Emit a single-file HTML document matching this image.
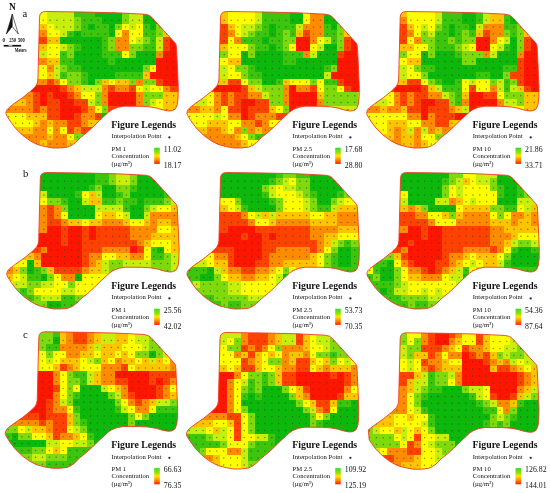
<!DOCTYPE html>
<html><head><meta charset="utf-8"><title>PM concentration maps</title>
<style>
html,body{margin:0;padding:0;background:#fff}
svg{display:block}
text{font-family:"Liberation Serif",serif;fill:#111}
.t{font-weight:bold;font-size:9.8px}
.s{font-size:6.65px}
.n{font-size:7.8px}
.l{font-size:10.6px}
</style></head><body>
<svg width="550" height="493" viewBox="0 0 550 493">
<defs>
<clipPath id="sh"><path d="M37.9,80 L39.5,17.5 Q39.5,11.6 45.5,11.5 L83.6,12 L116.4,12.8 L144.7,14.2 Q149.5,14.6 152,17.5 L175.3,43.2 Q176.3,44.4 176.5,47.5 L177.4,66 L178.3,88 L178.1,98 Q178,105 175.5,108.8 Q173,111.3 169,111 Q163,110.3 157.3,108.2 Q150,106.4 140.9,106.3 L124.5,106.2 Q118,106.6 112.3,109.5 Q108.5,111.8 105.9,114.6 L99.5,120.4 L93.2,126.7 L86.8,132.5 L80.5,137.5 L75.4,142.6 Q72.5,145.5 67.7,147.1 Q61,148.3 53.3,148 Q45.7,147 38,144.7 Q34,143 30.4,140.9 L22.8,135.5 L15.2,127.9 L10.7,121.9 L6.8,115.8 Q4.3,111.5 9.1,107.4 L15.2,102.8 L22.8,97.5 L30.4,91.4 L35.8,86.1 Q37.6,83.5 37.9,80 Z"/></clipPath>
<clipPath id="sh3"><path d="M37.9,80 L39.5,17.5 Q39.5,11.6 45.5,11.5 L83.6,12 L116.4,12.8 L144.7,14.2 Q149.5,14.6 152,17.5 L175.3,43.2 Q176.3,44.4 176.5,47.5 L177.4,66 L178.3,88 L178.1,98 Q178,105 175.5,108.8 Q173,111.3 169,111 Q163,110.3 157.3,108.2 Q150,106.4 140.9,106.3 L124.5,106.2 Q118,106.6 112.3,109.5 Q108.5,111.8 105.9,114.6 L99.5,120.4 L93.2,126.7 L86.8,132.5 L80.5,137.5 L75.4,142.6 Q72.5,145.5 67.7,147.1 Q61,148.3 53.3,148 Q45.7,147 38,144.7 Q34,143 30.4,140.9 L22.8,135.5 L15.2,127.9 L10.7,121.9 L8.5,118.4 L7.6,108.4 L9.1,107.4 L15.2,102.8 L22.8,97.5 L30.4,91.4 L35.8,86.1 Q37.6,83.5 37.9,80 Z"/></clipPath>
<linearGradient id="lg" x1="0" y1="0" x2="0" y2="1"><stop offset="0" stop-color="#2ee02e"/><stop offset="0.3" stop-color="#9be000"/><stop offset="0.5" stop-color="#ffe800"/><stop offset="0.75" stop-color="#ff8a00"/><stop offset="1" stop-color="#ff1a00"/></linearGradient>
<filter id="bl" x="-2%" y="-2%" width="104%" height="104%"><feGaussianBlur stdDeviation="0.6"/></filter>
</defs>
<rect width="550" height="493" fill="#fff"/>
<g transform="translate(0,0)">
<g clip-path="url(#sh)"><g filter="url(#bl)" shape-rendering="crispEdges">
<rect x="0" y="5" width="185" height="150" fill="#ffe000"/>
<path fill="rgb(8,184,8)" d="M94.66,9.85h27.58v6.97h-27.58zM142.75,9.85h41.32v6.97h-41.32zM101.53,16.72h20.71v6.97h-20.71zM142.75,16.72h41.32v6.97h-41.32zM87.79,23.59h6.97v6.97h-6.97zM108.40,23.59h6.97v6.97h-6.97zM149.62,23.59h6.97v6.97h-6.97zM74.05,30.46h6.97v6.97h-6.97zM108.40,30.46h6.97v6.97h-6.97zM60.31,37.33h41.32v6.97h-41.32zM80.92,44.20h20.71v6.97h-20.71zM74.05,51.07h27.58v6.97h-27.58zM135.88,51.07h20.71v6.97h-20.71zM74.05,57.94h34.45v6.97h-34.45zM115.27,57.94h41.32v6.97h-41.32zM80.92,64.81h61.93v6.97h-61.93zM87.79,71.68h27.58v6.97h-27.58zM87.79,78.55h6.97v6.97h-6.97zM101.53,112.90h82.54v6.97h-82.54zM101.53,119.77h82.54v6.97h-82.54z"/>
<path fill="rgb(58,198,8)" d="M74.05,9.85h20.71v6.97h-20.71zM80.92,16.72h20.71v6.97h-20.71zM80.92,23.59h6.97v6.97h-6.97zM94.66,23.59h13.84v6.97h-13.84zM142.75,23.59h6.97v6.97h-6.97zM67.18,30.46h6.97v6.97h-6.97zM80.92,30.46h27.58v6.97h-27.58zM142.75,30.46h13.84v6.97h-13.84zM101.53,37.33h6.97v6.97h-6.97zM149.62,37.33h6.97v6.97h-6.97zM74.05,44.20h6.97v6.97h-6.97zM101.53,44.20h6.97v6.97h-6.97zM142.75,44.20h13.84v6.97h-13.84zM60.31,51.07h6.97v6.97h-6.97zM101.53,51.07h20.71v6.97h-20.71zM60.31,57.94h13.84v6.97h-13.84zM108.40,57.94h6.97v6.97h-6.97zM67.18,64.81h13.84v6.97h-13.84zM60.31,71.68h6.97v6.97h-6.97zM80.92,71.68h6.97v6.97h-6.97zM115.27,71.68h27.58v6.97h-27.58zM80.92,78.55h6.97v6.97h-6.97z"/>
<path fill="rgb(126,217,8)" d="M122.14,9.85h6.97v6.97h-6.97zM74.05,16.72h6.97v6.97h-6.97zM122.14,16.72h6.97v6.97h-6.97zM74.05,23.59h6.97v6.97h-6.97zM115.27,23.59h6.97v6.97h-6.97zM156.49,23.59h27.58v6.97h-27.58zM156.49,30.46h6.97v6.97h-6.97zM108.40,37.33h6.97v6.97h-6.97zM142.75,37.33h6.97v6.97h-6.97zM67.18,44.20h6.97v6.97h-6.97zM108.40,44.20h6.97v6.97h-6.97zM129.01,44.20h13.84v6.97h-13.84zM67.18,51.07h6.97v6.97h-6.97zM129.01,51.07h6.97v6.97h-6.97zM60.31,64.81h6.97v6.97h-6.97zM142.75,64.81h6.97v6.97h-6.97zM67.18,71.68h13.84v6.97h-13.84zM67.18,78.55h13.84v6.97h-13.84zM94.66,78.55h6.97v6.97h-6.97zM129.01,78.55h6.97v6.97h-6.97zM142.75,78.55h13.84v6.97h-13.84zM94.66,92.29h6.97v6.97h-6.97zM142.75,92.29h20.71v6.97h-20.71zM94.66,99.16h6.97v6.97h-6.97zM142.75,99.16h6.97v6.97h-6.97zM101.53,106.03h6.97v6.97h-6.97zM74.05,133.51h110.02v6.97h-110.02z"/>
<path fill="rgb(200,238,8)" d="M46.57,9.85h27.58v6.97h-27.58zM129.01,9.85h13.84v6.97h-13.84zM46.57,16.72h27.58v6.97h-27.58zM129.01,16.72h13.84v6.97h-13.84zM53.44,23.59h20.71v6.97h-20.71zM129.01,23.59h6.97v6.97h-6.97zM60.31,30.46h6.97v6.97h-6.97zM135.88,37.33h6.97v6.97h-6.97zM156.49,37.33h6.97v6.97h-6.97zM60.31,44.20h6.97v6.97h-6.97zM156.49,44.20h6.97v6.97h-6.97zM5.35,51.07h41.32v6.97h-41.32zM53.44,64.81h6.97v6.97h-6.97zM53.44,71.68h6.97v6.97h-6.97zM80.92,85.42h20.71v6.97h-20.71zM142.75,85.42h6.97v6.97h-6.97zM87.79,99.16h6.97v6.97h-6.97zM149.62,99.16h6.97v6.97h-6.97z"/>
<path fill="rgb(255,255,0)" d="M5.35,9.85h41.32v6.97h-41.32zM5.35,16.72h41.32v6.97h-41.32zM46.57,23.59h6.97v6.97h-6.97zM122.14,23.59h6.97v6.97h-6.97zM135.88,23.59h6.97v6.97h-6.97zM46.57,30.46h13.84v6.97h-13.84zM115.27,30.46h6.97v6.97h-6.97zM129.01,30.46h13.84v6.97h-13.84zM129.01,37.33h6.97v6.97h-6.97zM46.57,44.20h13.84v6.97h-13.84zM46.57,51.07h13.84v6.97h-13.84zM122.14,51.07h6.97v6.97h-6.97zM5.35,64.81h41.32v6.97h-41.32zM149.62,64.81h6.97v6.97h-6.97zM5.35,71.68h41.32v6.97h-41.32zM60.31,78.55h6.97v6.97h-6.97zM108.40,78.55h6.97v6.97h-6.97zM135.88,85.42h6.97v6.97h-6.97zM149.62,85.42h13.84v6.97h-13.84zM80.92,92.29h13.84v6.97h-13.84zM156.49,99.16h6.97v6.97h-6.97zM94.66,106.03h6.97v6.97h-6.97zM142.75,106.03h20.71v6.97h-20.71zM5.35,112.90h20.71v6.97h-20.71zM5.35,119.77h27.58v6.97h-27.58zM46.57,126.64h6.97v6.97h-6.97zM60.31,126.64h6.97v6.97h-6.97zM67.18,133.51h6.97v6.97h-6.97z"/>
<path fill="rgb(255,196,0)" d="M5.35,23.59h41.32v6.97h-41.32zM163.36,30.46h20.71v6.97h-20.71zM46.57,37.33h13.84v6.97h-13.84zM5.35,44.20h41.32v6.97h-41.32zM46.57,57.94h13.84v6.97h-13.84zM46.57,71.68h6.97v6.97h-6.97zM142.75,71.68h6.97v6.97h-6.97zM101.53,78.55h6.97v6.97h-6.97zM115.27,78.55h13.84v6.97h-13.84zM74.05,85.42h6.97v6.97h-6.97zM163.36,92.29h20.71v6.97h-20.71zM5.35,99.16h20.71v6.97h-20.71zM163.36,99.16h20.71v6.97h-20.71zM163.36,106.03h20.71v6.97h-20.71zM25.96,112.90h20.71v6.97h-20.71zM32.83,119.77h6.97v6.97h-6.97zM46.57,119.77h6.97v6.97h-6.97zM87.79,119.77h13.84v6.97h-13.84zM5.35,126.64h27.58v6.97h-27.58zM46.57,133.51h6.97v6.97h-6.97zM39.70,140.38h6.97v6.97h-6.97zM67.18,140.38h116.89v6.97h-116.89z"/>
<path fill="rgb(255,140,0)" d="M5.35,30.46h41.32v6.97h-41.32zM122.14,30.46h6.97v6.97h-6.97zM115.27,37.33h13.84v6.97h-13.84zM115.27,44.20h13.84v6.97h-13.84zM156.49,51.07h6.97v6.97h-6.97zM5.35,57.94h41.32v6.97h-41.32zM46.57,64.81h6.97v6.97h-6.97zM5.35,78.55h41.32v6.97h-41.32zM53.44,78.55h6.97v6.97h-6.97zM135.88,78.55h6.97v6.97h-6.97zM67.18,85.42h6.97v6.97h-6.97zM101.53,85.42h6.97v6.97h-6.97zM115.27,85.42h13.84v6.97h-13.84zM163.36,85.42h6.97v6.97h-6.97zM5.35,92.29h27.58v6.97h-27.58zM74.05,92.29h6.97v6.97h-6.97zM101.53,92.29h6.97v6.97h-6.97zM135.88,92.29h6.97v6.97h-6.97zM25.96,99.16h6.97v6.97h-6.97zM101.53,99.16h6.97v6.97h-6.97zM135.88,99.16h6.97v6.97h-6.97zM5.35,106.03h27.58v6.97h-27.58zM39.70,106.03h6.97v6.97h-6.97zM87.79,106.03h6.97v6.97h-6.97zM80.92,112.90h13.84v6.97h-13.84zM39.70,119.77h6.97v6.97h-6.97zM53.44,119.77h13.84v6.97h-13.84zM80.92,119.77h6.97v6.97h-6.97zM32.83,126.64h13.84v6.97h-13.84zM53.44,126.64h6.97v6.97h-6.97zM74.05,126.64h6.97v6.97h-6.97zM5.35,133.51h41.32v6.97h-41.32zM53.44,133.51h13.84v6.97h-13.84zM5.35,140.38h34.45v6.97h-34.45zM46.57,140.38h20.71v6.97h-20.71zM5.35,147.25h178.72v6.97h-178.72z"/>
<path fill="rgb(255,66,0)" d="M5.35,37.33h41.32v6.97h-41.32zM163.36,37.33h6.97v6.97h-6.97zM163.36,44.20h6.97v6.97h-6.97zM46.57,78.55h6.97v6.97h-6.97zM156.49,78.55h6.97v6.97h-6.97zM60.31,85.42h6.97v6.97h-6.97zM108.40,85.42h6.97v6.97h-6.97zM129.01,85.42h6.97v6.97h-6.97zM170.23,85.42h13.84v6.97h-13.84zM32.83,92.29h6.97v6.97h-6.97zM46.57,92.29h6.97v6.97h-6.97zM67.18,92.29h6.97v6.97h-6.97zM32.83,99.16h6.97v6.97h-6.97zM46.57,99.16h13.84v6.97h-13.84zM74.05,99.16h13.84v6.97h-13.84zM32.83,106.03h6.97v6.97h-6.97zM46.57,106.03h13.84v6.97h-13.84zM80.92,106.03h6.97v6.97h-6.97zM108.40,106.03h34.45v6.97h-34.45zM46.57,112.90h13.84v6.97h-13.84zM74.05,112.90h6.97v6.97h-6.97zM94.66,112.90h6.97v6.97h-6.97zM67.18,119.77h13.84v6.97h-13.84zM67.18,126.64h6.97v6.97h-6.97zM80.92,126.64h103.15v6.97h-103.15z"/>
<path fill="rgb(255,18,0)" d="M170.23,37.33h13.84v6.97h-13.84zM170.23,44.20h13.84v6.97h-13.84zM163.36,51.07h20.71v6.97h-20.71zM156.49,57.94h27.58v6.97h-27.58zM156.49,64.81h27.58v6.97h-27.58zM149.62,71.68h34.45v6.97h-34.45zM163.36,78.55h20.71v6.97h-20.71zM5.35,85.42h55.06v6.97h-55.06zM39.70,92.29h6.97v6.97h-6.97zM53.44,92.29h13.84v6.97h-13.84zM108.40,92.29h27.58v6.97h-27.58zM39.70,99.16h6.97v6.97h-6.97zM60.31,99.16h13.84v6.97h-13.84zM108.40,99.16h27.58v6.97h-27.58zM60.31,106.03h20.71v6.97h-20.71zM60.31,112.90h13.84v6.97h-13.84z"/>
</g></g>
<g clip-path="url(#sh)"><path d="M8.8,20.2h0M15.7,20.2h0M22.6,20.2h0M29.4,20.2h0M36.3,20.2h0M43.2,20.2h0M50.1,20.2h0M56.9,20.2h0M63.8,20.2h0M70.7,20.2h0M77.5,20.2h0M84.4,20.2h0M91.3,20.2h0M98.1,20.2h0M105.0,20.2h0M111.9,20.2h0M118.8,20.2h0M125.6,20.2h0M132.5,20.2h0M139.4,20.2h0M146.2,20.2h0M153.1,20.2h0M160.0,20.2h0M166.8,20.2h0M173.7,20.2h0M180.6,20.2h0M8.8,27.1h0M15.7,27.1h0M22.6,27.1h0M29.4,27.1h0M36.3,27.1h0M43.2,27.1h0M50.1,27.1h0M56.9,27.1h0M63.8,27.1h0M70.7,27.1h0M77.5,27.1h0M84.4,27.1h0M91.3,27.1h0M98.1,27.1h0M105.0,27.1h0M111.9,27.1h0M118.8,27.1h0M125.6,27.1h0M132.5,27.1h0M139.4,27.1h0M146.2,27.1h0M153.1,27.1h0M160.0,27.1h0M166.8,27.1h0M173.7,27.1h0M180.6,27.1h0M8.8,33.9h0M15.7,33.9h0M22.6,33.9h0M29.4,33.9h0M36.3,33.9h0M43.2,33.9h0M50.1,33.9h0M56.9,33.9h0M63.8,33.9h0M70.7,33.9h0M77.5,33.9h0M84.4,33.9h0M91.3,33.9h0M98.1,33.9h0M105.0,33.9h0M111.9,33.9h0M118.8,33.9h0M125.6,33.9h0M132.5,33.9h0M139.4,33.9h0M146.2,33.9h0M153.1,33.9h0M160.0,33.9h0M166.8,33.9h0M173.7,33.9h0M180.6,33.9h0M8.8,40.8h0M15.7,40.8h0M22.6,40.8h0M29.4,40.8h0M36.3,40.8h0M43.2,40.8h0M50.1,40.8h0M56.9,40.8h0M63.8,40.8h0M70.7,40.8h0M77.5,40.8h0M84.4,40.8h0M91.3,40.8h0M98.1,40.8h0M105.0,40.8h0M111.9,40.8h0M118.8,40.8h0M125.6,40.8h0M132.5,40.8h0M139.4,40.8h0M146.2,40.8h0M153.1,40.8h0M160.0,40.8h0M166.8,40.8h0M173.7,40.8h0M180.6,40.8h0M8.8,47.7h0M15.7,47.7h0M22.6,47.7h0M29.4,47.7h0M36.3,47.7h0M43.2,47.7h0M50.1,47.7h0M56.9,47.7h0M63.8,47.7h0M70.7,47.7h0M77.5,47.7h0M84.4,47.7h0M91.3,47.7h0M98.1,47.7h0M105.0,47.7h0M111.9,47.7h0M118.8,47.7h0M125.6,47.7h0M132.5,47.7h0M139.4,47.7h0M146.2,47.7h0M153.1,47.7h0M160.0,47.7h0M166.8,47.7h0M173.7,47.7h0M180.6,47.7h0M8.8,54.6h0M15.7,54.6h0M22.6,54.6h0M29.4,54.6h0M36.3,54.6h0M43.2,54.6h0M50.1,54.6h0M56.9,54.6h0M63.8,54.6h0M70.7,54.6h0M77.5,54.6h0M84.4,54.6h0M91.3,54.6h0M98.1,54.6h0M105.0,54.6h0M111.9,54.6h0M118.8,54.6h0M125.6,54.6h0M132.5,54.6h0M139.4,54.6h0M146.2,54.6h0M153.1,54.6h0M160.0,54.6h0M166.8,54.6h0M173.7,54.6h0M180.6,54.6h0M8.8,61.4h0M15.7,61.4h0M22.6,61.4h0M29.4,61.4h0M36.3,61.4h0M43.2,61.4h0M50.1,61.4h0M56.9,61.4h0M63.8,61.4h0M70.7,61.4h0M77.5,61.4h0M84.4,61.4h0M91.3,61.4h0M98.1,61.4h0M105.0,61.4h0M111.9,61.4h0M118.8,61.4h0M125.6,61.4h0M132.5,61.4h0M139.4,61.4h0M146.2,61.4h0M153.1,61.4h0M160.0,61.4h0M166.8,61.4h0M173.7,61.4h0M180.6,61.4h0M8.8,68.3h0M15.7,68.3h0M22.6,68.3h0M29.4,68.3h0M36.3,68.3h0M43.2,68.3h0M50.1,68.3h0M56.9,68.3h0M63.8,68.3h0M70.7,68.3h0M77.5,68.3h0M84.4,68.3h0M91.3,68.3h0M98.1,68.3h0M105.0,68.3h0M111.9,68.3h0M118.8,68.3h0M125.6,68.3h0M132.5,68.3h0M139.4,68.3h0M146.2,68.3h0M153.1,68.3h0M160.0,68.3h0M166.8,68.3h0M173.7,68.3h0M180.6,68.3h0M8.8,75.2h0M15.7,75.2h0M22.6,75.2h0M29.4,75.2h0M36.3,75.2h0M43.2,75.2h0M50.1,75.2h0M56.9,75.2h0M63.8,75.2h0M70.7,75.2h0M77.5,75.2h0M84.4,75.2h0M91.3,75.2h0M98.1,75.2h0M105.0,75.2h0M111.9,75.2h0M118.8,75.2h0M125.6,75.2h0M132.5,75.2h0M139.4,75.2h0M146.2,75.2h0M153.1,75.2h0M160.0,75.2h0M166.8,75.2h0M173.7,75.2h0M180.6,75.2h0M8.8,82.0h0M15.7,82.0h0M22.6,82.0h0M29.4,82.0h0M36.3,82.0h0M43.2,82.0h0M50.1,82.0h0M56.9,82.0h0M63.8,82.0h0M70.7,82.0h0M77.5,82.0h0M84.4,82.0h0M91.3,82.0h0M98.1,82.0h0M105.0,82.0h0M111.9,82.0h0M118.8,82.0h0M125.6,82.0h0M132.5,82.0h0M139.4,82.0h0M146.2,82.0h0M153.1,82.0h0M160.0,82.0h0M166.8,82.0h0M173.7,82.0h0M180.6,82.0h0M8.8,88.9h0M15.7,88.9h0M22.6,88.9h0M29.4,88.9h0M36.3,88.9h0M43.2,88.9h0M50.1,88.9h0M56.9,88.9h0M63.8,88.9h0M70.7,88.9h0M77.5,88.9h0M84.4,88.9h0M91.3,88.9h0M98.1,88.9h0M105.0,88.9h0M111.9,88.9h0M118.8,88.9h0M125.6,88.9h0M132.5,88.9h0M139.4,88.9h0M146.2,88.9h0M153.1,88.9h0M160.0,88.9h0M166.8,88.9h0M173.7,88.9h0M180.6,88.9h0M8.8,95.8h0M15.7,95.8h0M22.6,95.8h0M29.4,95.8h0M36.3,95.8h0M43.2,95.8h0M50.1,95.8h0M56.9,95.8h0M63.8,95.8h0M70.7,95.8h0M77.5,95.8h0M84.4,95.8h0M91.3,95.8h0M98.1,95.8h0M105.0,95.8h0M111.9,95.8h0M118.8,95.8h0M125.6,95.8h0M132.5,95.8h0M139.4,95.8h0M146.2,95.8h0M153.1,95.8h0M160.0,95.8h0M166.8,95.8h0M173.7,95.8h0M180.6,95.8h0M8.8,102.6h0M15.7,102.6h0M22.6,102.6h0M29.4,102.6h0M36.3,102.6h0M43.2,102.6h0M50.1,102.6h0M56.9,102.6h0M63.8,102.6h0M70.7,102.6h0M77.5,102.6h0M84.4,102.6h0M91.3,102.6h0M98.1,102.6h0M105.0,102.6h0M111.9,102.6h0M118.8,102.6h0M125.6,102.6h0M132.5,102.6h0M139.4,102.6h0M146.2,102.6h0M153.1,102.6h0M160.0,102.6h0M166.8,102.6h0M173.7,102.6h0M180.6,102.6h0M8.8,109.5h0M15.7,109.5h0M22.6,109.5h0M29.4,109.5h0M36.3,109.5h0M43.2,109.5h0M50.1,109.5h0M56.9,109.5h0M63.8,109.5h0M70.7,109.5h0M77.5,109.5h0M84.4,109.5h0M91.3,109.5h0M98.1,109.5h0M105.0,109.5h0M111.9,109.5h0M118.8,109.5h0M125.6,109.5h0M132.5,109.5h0M139.4,109.5h0M146.2,109.5h0M153.1,109.5h0M160.0,109.5h0M166.8,109.5h0M173.7,109.5h0M180.6,109.5h0M8.8,116.4h0M15.7,116.4h0M22.6,116.4h0M29.4,116.4h0M36.3,116.4h0M43.2,116.4h0M50.1,116.4h0M56.9,116.4h0M63.8,116.4h0M70.7,116.4h0M77.5,116.4h0M84.4,116.4h0M91.3,116.4h0M98.1,116.4h0M105.0,116.4h0M111.9,116.4h0M118.8,116.4h0M125.6,116.4h0M132.5,116.4h0M139.4,116.4h0M146.2,116.4h0M153.1,116.4h0M160.0,116.4h0M166.8,116.4h0M173.7,116.4h0M180.6,116.4h0M8.8,123.3h0M15.7,123.3h0M22.6,123.3h0M29.4,123.3h0M36.3,123.3h0M43.2,123.3h0M50.1,123.3h0M56.9,123.3h0M63.8,123.3h0M70.7,123.3h0M77.5,123.3h0M84.4,123.3h0M91.3,123.3h0M98.1,123.3h0M105.0,123.3h0M111.9,123.3h0M118.8,123.3h0M125.6,123.3h0M132.5,123.3h0M139.4,123.3h0M146.2,123.3h0M153.1,123.3h0M160.0,123.3h0M166.8,123.3h0M173.7,123.3h0M180.6,123.3h0M8.8,130.1h0M15.7,130.1h0M22.6,130.1h0M29.4,130.1h0M36.3,130.1h0M43.2,130.1h0M50.1,130.1h0M56.9,130.1h0M63.8,130.1h0M70.7,130.1h0M77.5,130.1h0M84.4,130.1h0M91.3,130.1h0M98.1,130.1h0M105.0,130.1h0M111.9,130.1h0M118.8,130.1h0M125.6,130.1h0M132.5,130.1h0M139.4,130.1h0M146.2,130.1h0M153.1,130.1h0M160.0,130.1h0M166.8,130.1h0M173.7,130.1h0M180.6,130.1h0M8.8,137.0h0M15.7,137.0h0M22.6,137.0h0M29.4,137.0h0M36.3,137.0h0M43.2,137.0h0M50.1,137.0h0M56.9,137.0h0M63.8,137.0h0M70.7,137.0h0M77.5,137.0h0M84.4,137.0h0M91.3,137.0h0M98.1,137.0h0M105.0,137.0h0M111.9,137.0h0M118.8,137.0h0M125.6,137.0h0M132.5,137.0h0M139.4,137.0h0M146.2,137.0h0M153.1,137.0h0M160.0,137.0h0M166.8,137.0h0M173.7,137.0h0M180.6,137.0h0M8.8,143.9h0M15.7,143.9h0M22.6,143.9h0M29.4,143.9h0M36.3,143.9h0M43.2,143.9h0M50.1,143.9h0M56.9,143.9h0M63.8,143.9h0M70.7,143.9h0M77.5,143.9h0M84.4,143.9h0M91.3,143.9h0M98.1,143.9h0M105.0,143.9h0M111.9,143.9h0M118.8,143.9h0M125.6,143.9h0M132.5,143.9h0M139.4,143.9h0M146.2,143.9h0M153.1,143.9h0M160.0,143.9h0M166.8,143.9h0M173.7,143.9h0M180.6,143.9h0M8.8,150.7h0M15.7,150.7h0M22.6,150.7h0M29.4,150.7h0M36.3,150.7h0M43.2,150.7h0M50.1,150.7h0M56.9,150.7h0M63.8,150.7h0M70.7,150.7h0M77.5,150.7h0M84.4,150.7h0M91.3,150.7h0M98.1,150.7h0M105.0,150.7h0M111.9,150.7h0M118.8,150.7h0M125.6,150.7h0M132.5,150.7h0M139.4,150.7h0M146.2,150.7h0M153.1,150.7h0M160.0,150.7h0M166.8,150.7h0M173.7,150.7h0M180.6,150.7h0" stroke="#3a3a1a" stroke-opacity="0.6" stroke-width="1.5" stroke-linecap="round" fill="none"/></g>
<path d="M37.9,80 L39.5,17.5 Q39.5,11.6 45.5,11.5 L83.6,12 L116.4,12.8 L144.7,14.2 Q149.5,14.6 152,17.5 L175.3,43.2 Q176.3,44.4 176.5,47.5 L177.4,66 L178.3,88 L178.1,98 Q178,105 175.5,108.8 Q173,111.3 169,111 Q163,110.3 157.3,108.2 Q150,106.4 140.9,106.3 L124.5,106.2 Q118,106.6 112.3,109.5 Q108.5,111.8 105.9,114.6 L99.5,120.4 L93.2,126.7 L86.8,132.5 L80.5,137.5 L75.4,142.6 Q72.5,145.5 67.7,147.1 Q61,148.3 53.3,148 Q45.7,147 38,144.7 Q34,143 30.4,140.9 L22.8,135.5 L15.2,127.9 L10.7,121.9 L6.8,115.8 Q4.3,111.5 9.1,107.4 L15.2,102.8 L22.8,97.5 L30.4,91.4 L35.8,86.1 Q37.6,83.5 37.9,80 Z" fill="none" stroke="#ee3c22" stroke-width="0.9"/>
</g>
<g transform="translate(0,0.3)">
<text class="t" x="111.3" y="127.3">Figure Legends</text>
<text class="s" x="111.5" y="138.2">Interpolation Point</text>
<circle cx="169.4" cy="137.1" r="1.15" fill="#1a2a70"/>
<text class="s" x="111.5" y="150.6">PM 1</text>
<text class="s" x="111.5" y="157.6">Concentration</text>
<text class="s" x="111.5" y="165.6">(µg/m³)</text>
<rect x="154.2" y="147.4" width="5.6" height="16.2" fill="url(#lg)"/>
<text class="n" x="163.8" y="151.4">11.02</text>
<text class="n" x="163.8" y="167.3">18.17</text>
</g>
<g transform="translate(181,0)">
<g clip-path="url(#sh)"><g filter="url(#bl)" shape-rendering="crispEdges">
<rect x="0" y="5" width="185" height="150" fill="#ffe000"/>
<path fill="rgb(8,184,8)" d="M108.40,9.85h13.84v6.97h-13.84zM142.75,9.85h41.32v6.97h-41.32zM108.40,16.72h13.84v6.97h-13.84zM142.75,16.72h41.32v6.97h-41.32zM87.79,23.59h6.97v6.97h-6.97zM149.62,23.59h6.97v6.97h-6.97zM87.79,30.46h6.97v6.97h-6.97zM80.92,37.33h6.97v6.97h-6.97zM87.79,44.20h6.97v6.97h-6.97zM142.75,44.20h13.84v6.97h-13.84zM60.31,51.07h6.97v6.97h-6.97zM74.05,51.07h27.58v6.97h-27.58zM135.88,51.07h20.71v6.97h-20.71zM60.31,57.94h41.32v6.97h-41.32zM115.27,57.94h41.32v6.97h-41.32zM74.05,64.81h68.80v6.97h-68.80zM80.92,71.68h61.93v6.97h-61.93zM80.92,78.55h13.84v6.97h-13.84z"/>
<path fill="rgb(58,198,8)" d="M80.92,9.85h27.58v6.97h-27.58zM80.92,16.72h27.58v6.97h-27.58zM80.92,23.59h6.97v6.97h-6.97zM94.66,23.59h20.71v6.97h-20.71zM142.75,23.59h6.97v6.97h-6.97zM74.05,30.46h13.84v6.97h-13.84zM94.66,30.46h6.97v6.97h-6.97zM108.40,30.46h6.97v6.97h-6.97zM142.75,30.46h13.84v6.97h-13.84zM60.31,37.33h20.71v6.97h-20.71zM87.79,37.33h13.84v6.97h-13.84zM149.62,37.33h6.97v6.97h-6.97zM74.05,44.20h13.84v6.97h-13.84zM94.66,44.20h6.97v6.97h-6.97zM101.53,51.07h20.71v6.97h-20.71zM101.53,57.94h13.84v6.97h-13.84zM67.18,64.81h6.97v6.97h-6.97zM142.75,64.81h6.97v6.97h-6.97zM67.18,71.68h13.84v6.97h-13.84zM94.66,78.55h6.97v6.97h-6.97zM142.75,78.55h13.84v6.97h-13.84zM74.05,133.51h110.02v6.97h-110.02z"/>
<path fill="rgb(126,217,8)" d="M74.05,23.59h6.97v6.97h-6.97zM156.49,23.59h27.58v6.97h-27.58zM67.18,30.46h6.97v6.97h-6.97zM101.53,30.46h6.97v6.97h-6.97zM156.49,30.46h6.97v6.97h-6.97zM101.53,37.33h13.84v6.97h-13.84zM156.49,37.33h6.97v6.97h-6.97zM67.18,44.20h6.97v6.97h-6.97zM101.53,44.20h6.97v6.97h-6.97zM156.49,44.20h6.97v6.97h-6.97zM5.35,51.07h41.32v6.97h-41.32zM67.18,51.07h6.97v6.97h-6.97zM53.44,64.81h13.84v6.97h-13.84zM149.62,64.81h6.97v6.97h-6.97zM60.31,71.68h6.97v6.97h-6.97zM67.18,78.55h13.84v6.97h-13.84zM129.01,78.55h6.97v6.97h-6.97zM80.92,85.42h20.71v6.97h-20.71zM142.75,85.42h13.84v6.97h-13.84zM87.79,92.29h13.84v6.97h-13.84zM142.75,92.29h34.45v6.97h-34.45zM87.79,99.16h13.84v6.97h-13.84zM142.75,99.16h41.32v6.97h-41.32zM101.53,106.03h6.97v6.97h-6.97zM60.31,126.64h6.97v6.97h-6.97zM67.18,133.51h6.97v6.97h-6.97z"/>
<path fill="rgb(200,238,8)" d="M74.05,9.85h6.97v6.97h-6.97zM74.05,16.72h6.97v6.97h-6.97zM60.31,23.59h13.84v6.97h-13.84zM115.27,23.59h6.97v6.97h-6.97zM60.31,30.46h6.97v6.97h-6.97zM142.75,37.33h6.97v6.97h-6.97zM135.88,44.20h6.97v6.97h-6.97zM129.01,51.07h6.97v6.97h-6.97zM5.35,64.81h41.32v6.97h-41.32zM5.35,71.68h41.32v6.97h-41.32zM142.75,71.68h6.97v6.97h-6.97zM74.05,85.42h6.97v6.97h-6.97zM80.92,92.29h6.97v6.97h-6.97zM177.10,92.29h6.97v6.97h-6.97zM5.35,99.16h20.71v6.97h-20.71zM142.75,106.03h41.32v6.97h-41.32zM32.83,112.90h6.97v6.97h-6.97z"/>
<path fill="rgb(255,255,0)" d="M46.57,9.85h27.58v6.97h-27.58zM122.14,9.85h6.97v6.97h-6.97zM46.57,16.72h27.58v6.97h-27.58zM122.14,16.72h6.97v6.97h-6.97zM53.44,23.59h6.97v6.97h-6.97zM53.44,30.46h6.97v6.97h-6.97zM46.57,37.33h6.97v6.97h-6.97zM135.88,37.33h6.97v6.97h-6.97zM46.57,44.20h20.71v6.97h-20.71zM108.40,44.20h6.97v6.97h-6.97zM129.01,44.20h6.97v6.97h-6.97zM46.57,51.07h13.84v6.97h-13.84zM5.35,57.94h41.32v6.97h-41.32zM46.57,64.81h6.97v6.97h-6.97zM46.57,71.68h13.84v6.97h-13.84zM60.31,78.55h6.97v6.97h-6.97zM108.40,78.55h20.71v6.97h-20.71zM135.88,78.55h6.97v6.97h-6.97zM135.88,85.42h6.97v6.97h-6.97zM156.49,85.42h6.97v6.97h-6.97zM5.35,92.29h27.58v6.97h-27.58zM25.96,99.16h6.97v6.97h-6.97zM39.70,106.03h6.97v6.97h-6.97zM94.66,106.03h6.97v6.97h-6.97zM5.35,112.90h27.58v6.97h-27.58zM39.70,112.90h6.97v6.97h-6.97zM5.35,119.77h20.71v6.97h-20.71zM46.57,119.77h13.84v6.97h-13.84zM87.79,119.77h96.28v6.97h-96.28zM46.57,126.64h6.97v6.97h-6.97zM60.31,133.51h6.97v6.97h-6.97zM67.18,140.38h116.89v6.97h-116.89z"/>
<path fill="rgb(255,196,0)" d="M5.35,9.85h41.32v6.97h-41.32zM5.35,16.72h41.32v6.97h-41.32zM46.57,23.59h6.97v6.97h-6.97zM115.27,30.46h6.97v6.97h-6.97zM163.36,30.46h20.71v6.97h-20.71zM5.35,44.20h41.32v6.97h-41.32zM46.57,57.94h13.84v6.97h-13.84zM5.35,78.55h41.32v6.97h-41.32zM101.53,78.55h6.97v6.97h-6.97zM67.18,85.42h6.97v6.97h-6.97zM135.88,92.29h6.97v6.97h-6.97zM19.09,106.03h13.84v6.97h-13.84zM87.79,106.03h6.97v6.97h-6.97zM25.96,119.77h20.71v6.97h-20.71zM5.35,126.64h20.71v6.97h-20.71zM39.70,126.64h6.97v6.97h-6.97zM74.05,126.64h6.97v6.97h-6.97zM53.44,133.51h6.97v6.97h-6.97zM60.31,140.38h6.97v6.97h-6.97z"/>
<path fill="rgb(255,140,0)" d="M129.01,9.85h13.84v6.97h-13.84zM129.01,16.72h13.84v6.97h-13.84zM122.14,23.59h20.71v6.97h-20.71zM46.57,30.46h6.97v6.97h-6.97zM129.01,30.46h13.84v6.97h-13.84zM53.44,37.33h6.97v6.97h-6.97zM129.01,37.33h6.97v6.97h-6.97zM122.14,51.07h6.97v6.97h-6.97zM101.53,85.42h6.97v6.97h-6.97zM115.27,85.42h13.84v6.97h-13.84zM32.83,92.29h6.97v6.97h-6.97zM46.57,92.29h6.97v6.97h-6.97zM67.18,92.29h13.84v6.97h-13.84zM101.53,92.29h6.97v6.97h-6.97zM32.83,99.16h6.97v6.97h-6.97zM46.57,99.16h6.97v6.97h-6.97zM101.53,99.16h6.97v6.97h-6.97zM135.88,99.16h6.97v6.97h-6.97zM5.35,106.03h13.84v6.97h-13.84zM32.83,106.03h6.97v6.97h-6.97zM46.57,112.90h13.84v6.97h-13.84zM74.05,112.90h20.71v6.97h-20.71zM60.31,119.77h13.84v6.97h-13.84zM80.92,119.77h6.97v6.97h-6.97zM25.96,126.64h13.84v6.97h-13.84zM53.44,126.64h6.97v6.97h-6.97zM67.18,126.64h6.97v6.97h-6.97zM80.92,126.64h103.15v6.97h-103.15zM5.35,133.51h48.19v6.97h-48.19zM5.35,140.38h55.06v6.97h-55.06zM5.35,147.25h178.72v6.97h-178.72z"/>
<path fill="rgb(255,66,0)" d="M5.35,23.59h41.32v6.97h-41.32zM5.35,30.46h41.32v6.97h-41.32zM122.14,30.46h6.97v6.97h-6.97zM5.35,37.33h41.32v6.97h-41.32zM163.36,37.33h6.97v6.97h-6.97zM163.36,44.20h6.97v6.97h-6.97zM156.49,51.07h6.97v6.97h-6.97zM46.57,78.55h13.84v6.97h-13.84zM156.49,78.55h6.97v6.97h-6.97zM5.35,85.42h27.58v6.97h-27.58zM60.31,85.42h6.97v6.97h-6.97zM129.01,85.42h6.97v6.97h-6.97zM163.36,85.42h6.97v6.97h-6.97zM39.70,92.29h6.97v6.97h-6.97zM53.44,92.29h13.84v6.97h-13.84zM39.70,99.16h6.97v6.97h-6.97zM53.44,99.16h6.97v6.97h-6.97zM74.05,99.16h13.84v6.97h-13.84zM46.57,106.03h13.84v6.97h-13.84zM67.18,106.03h20.71v6.97h-20.71zM115.27,106.03h27.58v6.97h-27.58zM67.18,112.90h6.97v6.97h-6.97zM94.66,112.90h89.41v6.97h-89.41zM74.05,119.77h6.97v6.97h-6.97z"/>
<path fill="rgb(255,18,0)" d="M115.27,37.33h13.84v6.97h-13.84zM170.23,37.33h13.84v6.97h-13.84zM115.27,44.20h13.84v6.97h-13.84zM170.23,44.20h13.84v6.97h-13.84zM163.36,51.07h20.71v6.97h-20.71zM156.49,57.94h27.58v6.97h-27.58zM156.49,64.81h27.58v6.97h-27.58zM149.62,71.68h34.45v6.97h-34.45zM163.36,78.55h20.71v6.97h-20.71zM32.83,85.42h27.58v6.97h-27.58zM108.40,85.42h6.97v6.97h-6.97zM170.23,85.42h13.84v6.97h-13.84zM108.40,92.29h27.58v6.97h-27.58zM60.31,99.16h13.84v6.97h-13.84zM108.40,99.16h27.58v6.97h-27.58zM60.31,106.03h6.97v6.97h-6.97zM108.40,106.03h6.97v6.97h-6.97zM60.31,112.90h6.97v6.97h-6.97z"/>
</g></g>
<g clip-path="url(#sh)"><path d="M8.8,20.2h0M15.7,20.2h0M22.6,20.2h0M29.4,20.2h0M36.3,20.2h0M43.2,20.2h0M50.1,20.2h0M56.9,20.2h0M63.8,20.2h0M70.7,20.2h0M77.5,20.2h0M84.4,20.2h0M91.3,20.2h0M98.1,20.2h0M105.0,20.2h0M111.9,20.2h0M118.8,20.2h0M125.6,20.2h0M132.5,20.2h0M139.4,20.2h0M146.2,20.2h0M153.1,20.2h0M160.0,20.2h0M166.8,20.2h0M173.7,20.2h0M180.6,20.2h0M8.8,27.1h0M15.7,27.1h0M22.6,27.1h0M29.4,27.1h0M36.3,27.1h0M43.2,27.1h0M50.1,27.1h0M56.9,27.1h0M63.8,27.1h0M70.7,27.1h0M77.5,27.1h0M84.4,27.1h0M91.3,27.1h0M98.1,27.1h0M105.0,27.1h0M111.9,27.1h0M118.8,27.1h0M125.6,27.1h0M132.5,27.1h0M139.4,27.1h0M146.2,27.1h0M153.1,27.1h0M160.0,27.1h0M166.8,27.1h0M173.7,27.1h0M180.6,27.1h0M8.8,33.9h0M15.7,33.9h0M22.6,33.9h0M29.4,33.9h0M36.3,33.9h0M43.2,33.9h0M50.1,33.9h0M56.9,33.9h0M63.8,33.9h0M70.7,33.9h0M77.5,33.9h0M84.4,33.9h0M91.3,33.9h0M98.1,33.9h0M105.0,33.9h0M111.9,33.9h0M118.8,33.9h0M125.6,33.9h0M132.5,33.9h0M139.4,33.9h0M146.2,33.9h0M153.1,33.9h0M160.0,33.9h0M166.8,33.9h0M173.7,33.9h0M180.6,33.9h0M8.8,40.8h0M15.7,40.8h0M22.6,40.8h0M29.4,40.8h0M36.3,40.8h0M43.2,40.8h0M50.1,40.8h0M56.9,40.8h0M63.8,40.8h0M70.7,40.8h0M77.5,40.8h0M84.4,40.8h0M91.3,40.8h0M98.1,40.8h0M105.0,40.8h0M111.9,40.8h0M118.8,40.8h0M125.6,40.8h0M132.5,40.8h0M139.4,40.8h0M146.2,40.8h0M153.1,40.8h0M160.0,40.8h0M166.8,40.8h0M173.7,40.8h0M180.6,40.8h0M8.8,47.7h0M15.7,47.7h0M22.6,47.7h0M29.4,47.7h0M36.3,47.7h0M43.2,47.7h0M50.1,47.7h0M56.9,47.7h0M63.8,47.7h0M70.7,47.7h0M77.5,47.7h0M84.4,47.7h0M91.3,47.7h0M98.1,47.7h0M105.0,47.7h0M111.9,47.7h0M118.8,47.7h0M125.6,47.7h0M132.5,47.7h0M139.4,47.7h0M146.2,47.7h0M153.1,47.7h0M160.0,47.7h0M166.8,47.7h0M173.7,47.7h0M180.6,47.7h0M8.8,54.6h0M15.7,54.6h0M22.6,54.6h0M29.4,54.6h0M36.3,54.6h0M43.2,54.6h0M50.1,54.6h0M56.9,54.6h0M63.8,54.6h0M70.7,54.6h0M77.5,54.6h0M84.4,54.6h0M91.3,54.6h0M98.1,54.6h0M105.0,54.6h0M111.9,54.6h0M118.8,54.6h0M125.6,54.6h0M132.5,54.6h0M139.4,54.6h0M146.2,54.6h0M153.1,54.6h0M160.0,54.6h0M166.8,54.6h0M173.7,54.6h0M180.6,54.6h0M8.8,61.4h0M15.7,61.4h0M22.6,61.4h0M29.4,61.4h0M36.3,61.4h0M43.2,61.4h0M50.1,61.4h0M56.9,61.4h0M63.8,61.4h0M70.7,61.4h0M77.5,61.4h0M84.4,61.4h0M91.3,61.4h0M98.1,61.4h0M105.0,61.4h0M111.9,61.4h0M118.8,61.4h0M125.6,61.4h0M132.5,61.4h0M139.4,61.4h0M146.2,61.4h0M153.1,61.4h0M160.0,61.4h0M166.8,61.4h0M173.7,61.4h0M180.6,61.4h0M8.8,68.3h0M15.7,68.3h0M22.6,68.3h0M29.4,68.3h0M36.3,68.3h0M43.2,68.3h0M50.1,68.3h0M56.9,68.3h0M63.8,68.3h0M70.7,68.3h0M77.5,68.3h0M84.4,68.3h0M91.3,68.3h0M98.1,68.3h0M105.0,68.3h0M111.9,68.3h0M118.8,68.3h0M125.6,68.3h0M132.5,68.3h0M139.4,68.3h0M146.2,68.3h0M153.1,68.3h0M160.0,68.3h0M166.8,68.3h0M173.7,68.3h0M180.6,68.3h0M8.8,75.2h0M15.7,75.2h0M22.6,75.2h0M29.4,75.2h0M36.3,75.2h0M43.2,75.2h0M50.1,75.2h0M56.9,75.2h0M63.8,75.2h0M70.7,75.2h0M77.5,75.2h0M84.4,75.2h0M91.3,75.2h0M98.1,75.2h0M105.0,75.2h0M111.9,75.2h0M118.8,75.2h0M125.6,75.2h0M132.5,75.2h0M139.4,75.2h0M146.2,75.2h0M153.1,75.2h0M160.0,75.2h0M166.8,75.2h0M173.7,75.2h0M180.6,75.2h0M8.8,82.0h0M15.7,82.0h0M22.6,82.0h0M29.4,82.0h0M36.3,82.0h0M43.2,82.0h0M50.1,82.0h0M56.9,82.0h0M63.8,82.0h0M70.7,82.0h0M77.5,82.0h0M84.4,82.0h0M91.3,82.0h0M98.1,82.0h0M105.0,82.0h0M111.9,82.0h0M118.8,82.0h0M125.6,82.0h0M132.5,82.0h0M139.4,82.0h0M146.2,82.0h0M153.1,82.0h0M160.0,82.0h0M166.8,82.0h0M173.7,82.0h0M180.6,82.0h0M8.8,88.9h0M15.7,88.9h0M22.6,88.9h0M29.4,88.9h0M36.3,88.9h0M43.2,88.9h0M50.1,88.9h0M56.9,88.9h0M63.8,88.9h0M70.7,88.9h0M77.5,88.9h0M84.4,88.9h0M91.3,88.9h0M98.1,88.9h0M105.0,88.9h0M111.9,88.9h0M118.8,88.9h0M125.6,88.9h0M132.5,88.9h0M139.4,88.9h0M146.2,88.9h0M153.1,88.9h0M160.0,88.9h0M166.8,88.9h0M173.7,88.9h0M180.6,88.9h0M8.8,95.8h0M15.7,95.8h0M22.6,95.8h0M29.4,95.8h0M36.3,95.8h0M43.2,95.8h0M50.1,95.8h0M56.9,95.8h0M63.8,95.8h0M70.7,95.8h0M77.5,95.8h0M84.4,95.8h0M91.3,95.8h0M98.1,95.8h0M105.0,95.8h0M111.9,95.8h0M118.8,95.8h0M125.6,95.8h0M132.5,95.8h0M139.4,95.8h0M146.2,95.8h0M153.1,95.8h0M160.0,95.8h0M166.8,95.8h0M173.7,95.8h0M180.6,95.8h0M8.8,102.6h0M15.7,102.6h0M22.6,102.6h0M29.4,102.6h0M36.3,102.6h0M43.2,102.6h0M50.1,102.6h0M56.9,102.6h0M63.8,102.6h0M70.7,102.6h0M77.5,102.6h0M84.4,102.6h0M91.3,102.6h0M98.1,102.6h0M105.0,102.6h0M111.9,102.6h0M118.8,102.6h0M125.6,102.6h0M132.5,102.6h0M139.4,102.6h0M146.2,102.6h0M153.1,102.6h0M160.0,102.6h0M166.8,102.6h0M173.7,102.6h0M180.6,102.6h0M8.8,109.5h0M15.7,109.5h0M22.6,109.5h0M29.4,109.5h0M36.3,109.5h0M43.2,109.5h0M50.1,109.5h0M56.9,109.5h0M63.8,109.5h0M70.7,109.5h0M77.5,109.5h0M84.4,109.5h0M91.3,109.5h0M98.1,109.5h0M105.0,109.5h0M111.9,109.5h0M118.8,109.5h0M125.6,109.5h0M132.5,109.5h0M139.4,109.5h0M146.2,109.5h0M153.1,109.5h0M160.0,109.5h0M166.8,109.5h0M173.7,109.5h0M180.6,109.5h0M8.8,116.4h0M15.7,116.4h0M22.6,116.4h0M29.4,116.4h0M36.3,116.4h0M43.2,116.4h0M50.1,116.4h0M56.9,116.4h0M63.8,116.4h0M70.7,116.4h0M77.5,116.4h0M84.4,116.4h0M91.3,116.4h0M98.1,116.4h0M105.0,116.4h0M111.9,116.4h0M118.8,116.4h0M125.6,116.4h0M132.5,116.4h0M139.4,116.4h0M146.2,116.4h0M153.1,116.4h0M160.0,116.4h0M166.8,116.4h0M173.7,116.4h0M180.6,116.4h0M8.8,123.3h0M15.7,123.3h0M22.6,123.3h0M29.4,123.3h0M36.3,123.3h0M43.2,123.3h0M50.1,123.3h0M56.9,123.3h0M63.8,123.3h0M70.7,123.3h0M77.5,123.3h0M84.4,123.3h0M91.3,123.3h0M98.1,123.3h0M105.0,123.3h0M111.9,123.3h0M118.8,123.3h0M125.6,123.3h0M132.5,123.3h0M139.4,123.3h0M146.2,123.3h0M153.1,123.3h0M160.0,123.3h0M166.8,123.3h0M173.7,123.3h0M180.6,123.3h0M8.8,130.1h0M15.7,130.1h0M22.6,130.1h0M29.4,130.1h0M36.3,130.1h0M43.2,130.1h0M50.1,130.1h0M56.9,130.1h0M63.8,130.1h0M70.7,130.1h0M77.5,130.1h0M84.4,130.1h0M91.3,130.1h0M98.1,130.1h0M105.0,130.1h0M111.9,130.1h0M118.8,130.1h0M125.6,130.1h0M132.5,130.1h0M139.4,130.1h0M146.2,130.1h0M153.1,130.1h0M160.0,130.1h0M166.8,130.1h0M173.7,130.1h0M180.6,130.1h0M8.8,137.0h0M15.7,137.0h0M22.6,137.0h0M29.4,137.0h0M36.3,137.0h0M43.2,137.0h0M50.1,137.0h0M56.9,137.0h0M63.8,137.0h0M70.7,137.0h0M77.5,137.0h0M84.4,137.0h0M91.3,137.0h0M98.1,137.0h0M105.0,137.0h0M111.9,137.0h0M118.8,137.0h0M125.6,137.0h0M132.5,137.0h0M139.4,137.0h0M146.2,137.0h0M153.1,137.0h0M160.0,137.0h0M166.8,137.0h0M173.7,137.0h0M180.6,137.0h0M8.8,143.9h0M15.7,143.9h0M22.6,143.9h0M29.4,143.9h0M36.3,143.9h0M43.2,143.9h0M50.1,143.9h0M56.9,143.9h0M63.8,143.9h0M70.7,143.9h0M77.5,143.9h0M84.4,143.9h0M91.3,143.9h0M98.1,143.9h0M105.0,143.9h0M111.9,143.9h0M118.8,143.9h0M125.6,143.9h0M132.5,143.9h0M139.4,143.9h0M146.2,143.9h0M153.1,143.9h0M160.0,143.9h0M166.8,143.9h0M173.7,143.9h0M180.6,143.9h0M8.8,150.7h0M15.7,150.7h0M22.6,150.7h0M29.4,150.7h0M36.3,150.7h0M43.2,150.7h0M50.1,150.7h0M56.9,150.7h0M63.8,150.7h0M70.7,150.7h0M77.5,150.7h0M84.4,150.7h0M91.3,150.7h0M98.1,150.7h0M105.0,150.7h0M111.9,150.7h0M118.8,150.7h0M125.6,150.7h0M132.5,150.7h0M139.4,150.7h0M146.2,150.7h0M153.1,150.7h0M160.0,150.7h0M166.8,150.7h0M173.7,150.7h0M180.6,150.7h0" stroke="#3a3a1a" stroke-opacity="0.6" stroke-width="1.5" stroke-linecap="round" fill="none"/></g>
<path d="M37.9,80 L39.5,17.5 Q39.5,11.6 45.5,11.5 L83.6,12 L116.4,12.8 L144.7,14.2 Q149.5,14.6 152,17.5 L175.3,43.2 Q176.3,44.4 176.5,47.5 L177.4,66 L178.3,88 L178.1,98 Q178,105 175.5,108.8 Q173,111.3 169,111 Q163,110.3 157.3,108.2 Q150,106.4 140.9,106.3 L124.5,106.2 Q118,106.6 112.3,109.5 Q108.5,111.8 105.9,114.6 L99.5,120.4 L93.2,126.7 L86.8,132.5 L80.5,137.5 L75.4,142.6 Q72.5,145.5 67.7,147.1 Q61,148.3 53.3,148 Q45.7,147 38,144.7 Q34,143 30.4,140.9 L22.8,135.5 L15.2,127.9 L10.7,121.9 L6.8,115.8 Q4.3,111.5 9.1,107.4 L15.2,102.8 L22.8,97.5 L30.4,91.4 L35.8,86.1 Q37.6,83.5 37.9,80 Z" fill="none" stroke="#ee3c22" stroke-width="0.9"/>
</g>
<g transform="translate(181,0.3)">
<text class="t" x="111.3" y="127.3">Figure Legends</text>
<text class="s" x="111.5" y="138.2">Interpolation Point</text>
<circle cx="169.4" cy="137.1" r="1.15" fill="#1a2a70"/>
<text class="s" x="111.5" y="150.6">PM 2.5</text>
<text class="s" x="111.5" y="157.6">Concentration</text>
<text class="s" x="111.5" y="165.6">(µg/m³)</text>
<rect x="154.2" y="147.4" width="5.6" height="16.2" fill="url(#lg)"/>
<text class="n" x="163.8" y="151.4">17.68</text>
<text class="n" x="163.8" y="167.3">28.80</text>
</g>
<g transform="translate(360.7,0)">
<g clip-path="url(#sh)"><g filter="url(#bl)" shape-rendering="crispEdges">
<rect x="0" y="5" width="185" height="150" fill="#ffe000"/>
<path fill="rgb(8,184,8)" d="M101.53,9.85h13.84v6.97h-13.84zM149.62,9.85h34.45v6.97h-34.45zM101.53,16.72h13.84v6.97h-13.84zM149.62,16.72h34.45v6.97h-34.45zM87.79,23.59h6.97v6.97h-6.97zM108.40,23.59h6.97v6.97h-6.97zM87.79,30.46h6.97v6.97h-6.97zM149.62,37.33h6.97v6.97h-6.97zM149.62,44.20h6.97v6.97h-6.97zM60.31,51.07h6.97v6.97h-6.97zM74.05,51.07h20.71v6.97h-20.71zM135.88,51.07h20.71v6.97h-20.71zM60.31,57.94h41.32v6.97h-41.32zM115.27,57.94h41.32v6.97h-41.32zM74.05,64.81h68.80v6.97h-68.80zM67.18,71.68h48.19v6.97h-48.19zM129.01,71.68h13.84v6.97h-13.84zM80.92,78.55h13.84v6.97h-13.84z"/>
<path fill="rgb(58,198,8)" d="M80.92,9.85h20.71v6.97h-20.71zM115.27,9.85h6.97v6.97h-6.97zM142.75,9.85h6.97v6.97h-6.97zM80.92,16.72h20.71v6.97h-20.71zM115.27,16.72h6.97v6.97h-6.97zM142.75,16.72h6.97v6.97h-6.97zM80.92,23.59h6.97v6.97h-6.97zM94.66,23.59h13.84v6.97h-13.84zM142.75,23.59h13.84v6.97h-13.84zM74.05,30.46h13.84v6.97h-13.84zM94.66,30.46h6.97v6.97h-6.97zM108.40,30.46h6.97v6.97h-6.97zM149.62,30.46h6.97v6.97h-6.97zM74.05,37.33h13.84v6.97h-13.84zM94.66,37.33h6.97v6.97h-6.97zM74.05,44.20h20.71v6.97h-20.71zM142.75,44.20h6.97v6.97h-6.97zM94.66,51.07h6.97v6.97h-6.97zM60.31,64.81h13.84v6.97h-13.84zM142.75,64.81h13.84v6.97h-13.84zM115.27,71.68h13.84v6.97h-13.84zM74.05,78.55h6.97v6.97h-6.97zM94.66,78.55h6.97v6.97h-6.97zM142.75,78.55h6.97v6.97h-6.97zM80.92,85.42h20.71v6.97h-20.71zM142.75,85.42h6.97v6.97h-6.97zM94.66,92.29h6.97v6.97h-6.97zM94.66,99.16h6.97v6.97h-6.97z"/>
<path fill="rgb(126,217,8)" d="M74.05,23.59h6.97v6.97h-6.97zM156.49,23.59h27.58v6.97h-27.58zM60.31,30.46h6.97v6.97h-6.97zM101.53,30.46h6.97v6.97h-6.97zM142.75,30.46h6.97v6.97h-6.97zM156.49,30.46h6.97v6.97h-6.97zM60.31,37.33h13.84v6.97h-13.84zM87.79,37.33h6.97v6.97h-6.97zM101.53,37.33h13.84v6.97h-13.84zM156.49,37.33h6.97v6.97h-6.97zM67.18,44.20h6.97v6.97h-6.97zM94.66,44.20h6.97v6.97h-6.97zM156.49,44.20h6.97v6.97h-6.97zM5.35,51.07h41.32v6.97h-41.32zM67.18,51.07h6.97v6.97h-6.97zM101.53,51.07h20.71v6.97h-20.71zM101.53,57.94h13.84v6.97h-13.84zM53.44,64.81h6.97v6.97h-6.97zM60.31,71.68h6.97v6.97h-6.97zM142.75,71.68h6.97v6.97h-6.97zM67.18,78.55h6.97v6.97h-6.97zM129.01,78.55h6.97v6.97h-6.97zM149.62,78.55h6.97v6.97h-6.97zM87.79,92.29h6.97v6.97h-6.97zM142.75,92.29h20.71v6.97h-20.71zM87.79,99.16h6.97v6.97h-6.97zM156.49,99.16h6.97v6.97h-6.97zM74.05,133.51h110.02v6.97h-110.02z"/>
<path fill="rgb(200,238,8)" d="M74.05,9.85h6.97v6.97h-6.97zM122.14,9.85h6.97v6.97h-6.97zM74.05,16.72h6.97v6.97h-6.97zM122.14,16.72h6.97v6.97h-6.97zM60.31,23.59h6.97v6.97h-6.97zM115.27,23.59h6.97v6.97h-6.97zM67.18,30.46h6.97v6.97h-6.97zM142.75,37.33h6.97v6.97h-6.97zM101.53,44.20h6.97v6.97h-6.97zM135.88,44.20h6.97v6.97h-6.97zM129.01,51.07h6.97v6.97h-6.97zM5.35,64.81h41.32v6.97h-41.32zM5.35,71.68h41.32v6.97h-41.32zM108.40,78.55h6.97v6.97h-6.97zM135.88,78.55h6.97v6.97h-6.97zM74.05,85.42h6.97v6.97h-6.97zM135.88,85.42h6.97v6.97h-6.97zM149.62,85.42h6.97v6.97h-6.97zM80.92,92.29h6.97v6.97h-6.97zM5.35,99.16h20.71v6.97h-20.71zM142.75,99.16h13.84v6.97h-13.84zM101.53,106.03h6.97v6.97h-6.97zM46.57,126.64h6.97v6.97h-6.97zM60.31,126.64h6.97v6.97h-6.97z"/>
<path fill="rgb(255,255,0)" d="M46.57,9.85h27.58v6.97h-27.58zM46.57,16.72h27.58v6.97h-27.58zM53.44,23.59h6.97v6.97h-6.97zM67.18,23.59h6.97v6.97h-6.97zM53.44,30.46h6.97v6.97h-6.97zM46.57,37.33h6.97v6.97h-6.97zM135.88,37.33h6.97v6.97h-6.97zM53.44,44.20h13.84v6.97h-13.84zM108.40,44.20h6.97v6.97h-6.97zM129.01,44.20h6.97v6.97h-6.97zM46.57,51.07h13.84v6.97h-13.84zM5.35,57.94h41.32v6.97h-41.32zM46.57,64.81h6.97v6.97h-6.97zM46.57,71.68h13.84v6.97h-13.84zM60.31,78.55h6.97v6.97h-6.97zM101.53,78.55h6.97v6.97h-6.97zM115.27,78.55h13.84v6.97h-13.84zM101.53,85.42h6.97v6.97h-6.97zM115.27,85.42h13.84v6.97h-13.84zM5.35,92.29h27.58v6.97h-27.58zM135.88,92.29h6.97v6.97h-6.97zM25.96,99.16h6.97v6.97h-6.97zM142.75,106.03h20.71v6.97h-20.71zM5.35,112.90h41.32v6.97h-41.32zM5.35,119.77h20.71v6.97h-20.71zM46.57,119.77h13.84v6.97h-13.84zM5.35,126.64h20.71v6.97h-20.71zM60.31,133.51h13.84v6.97h-13.84zM67.18,140.38h116.89v6.97h-116.89z"/>
<path fill="rgb(255,196,0)" d="M5.35,9.85h41.32v6.97h-41.32zM129.01,9.85h13.84v6.97h-13.84zM129.01,16.72h13.84v6.97h-13.84zM46.57,23.59h6.97v6.97h-6.97zM115.27,30.46h6.97v6.97h-6.97zM163.36,30.46h20.71v6.97h-20.71zM5.35,44.20h48.19v6.97h-48.19zM46.57,57.94h13.84v6.97h-13.84zM5.35,78.55h41.32v6.97h-41.32zM67.18,85.42h6.97v6.97h-6.97zM156.49,85.42h6.97v6.97h-6.97zM101.53,92.29h6.97v6.97h-6.97zM163.36,92.29h20.71v6.97h-20.71zM163.36,99.16h20.71v6.97h-20.71zM19.09,106.03h6.97v6.97h-6.97zM39.70,106.03h6.97v6.97h-6.97zM94.66,106.03h6.97v6.97h-6.97zM163.36,106.03h20.71v6.97h-20.71zM25.96,119.77h20.71v6.97h-20.71zM87.79,119.77h96.28v6.97h-96.28zM25.96,126.64h6.97v6.97h-6.97zM39.70,126.64h6.97v6.97h-6.97zM74.05,126.64h6.97v6.97h-6.97zM5.35,133.51h27.58v6.97h-27.58zM39.70,133.51h13.84v6.97h-13.84zM39.70,140.38h13.84v6.97h-13.84zM60.31,140.38h6.97v6.97h-6.97z"/>
<path fill="rgb(255,140,0)" d="M5.35,16.72h41.32v6.97h-41.32zM122.14,23.59h20.71v6.97h-20.71zM46.57,30.46h6.97v6.97h-6.97zM129.01,30.46h13.84v6.97h-13.84zM53.44,37.33h6.97v6.97h-6.97zM129.01,37.33h6.97v6.97h-6.97zM122.14,51.07h6.97v6.97h-6.97zM156.49,51.07h6.97v6.97h-6.97zM129.01,85.42h6.97v6.97h-6.97zM32.83,92.29h6.97v6.97h-6.97zM46.57,92.29h6.97v6.97h-6.97zM67.18,92.29h13.84v6.97h-13.84zM32.83,99.16h6.97v6.97h-6.97zM46.57,99.16h6.97v6.97h-6.97zM101.53,99.16h6.97v6.97h-6.97zM135.88,99.16h6.97v6.97h-6.97zM5.35,106.03h13.84v6.97h-13.84zM25.96,106.03h13.84v6.97h-13.84zM87.79,106.03h6.97v6.97h-6.97zM46.57,112.90h13.84v6.97h-13.84zM67.18,112.90h6.97v6.97h-6.97zM60.31,119.77h13.84v6.97h-13.84zM32.83,126.64h6.97v6.97h-6.97zM53.44,126.64h6.97v6.97h-6.97zM67.18,126.64h6.97v6.97h-6.97zM80.92,126.64h103.15v6.97h-103.15zM32.83,133.51h6.97v6.97h-6.97zM53.44,133.51h6.97v6.97h-6.97zM5.35,140.38h34.45v6.97h-34.45zM53.44,140.38h6.97v6.97h-6.97zM5.35,147.25h178.72v6.97h-178.72z"/>
<path fill="rgb(255,66,0)" d="M5.35,23.59h41.32v6.97h-41.32zM5.35,30.46h41.32v6.97h-41.32zM122.14,30.46h6.97v6.97h-6.97zM5.35,37.33h41.32v6.97h-41.32zM163.36,37.33h6.97v6.97h-6.97zM163.36,44.20h6.97v6.97h-6.97zM156.49,57.94h6.97v6.97h-6.97zM156.49,64.81h6.97v6.97h-6.97zM149.62,71.68h13.84v6.97h-13.84zM46.57,78.55h13.84v6.97h-13.84zM156.49,78.55h6.97v6.97h-6.97zM5.35,85.42h27.58v6.97h-27.58zM60.31,85.42h6.97v6.97h-6.97zM108.40,85.42h6.97v6.97h-6.97zM163.36,85.42h6.97v6.97h-6.97zM39.70,92.29h6.97v6.97h-6.97zM53.44,92.29h13.84v6.97h-13.84zM122.14,92.29h13.84v6.97h-13.84zM39.70,99.16h6.97v6.97h-6.97zM53.44,99.16h6.97v6.97h-6.97zM74.05,99.16h13.84v6.97h-13.84zM46.57,106.03h13.84v6.97h-13.84zM67.18,106.03h20.71v6.97h-20.71zM115.27,106.03h27.58v6.97h-27.58zM74.05,112.90h20.71v6.97h-20.71zM74.05,119.77h13.84v6.97h-13.84z"/>
<path fill="rgb(255,18,0)" d="M115.27,37.33h13.84v6.97h-13.84zM170.23,37.33h13.84v6.97h-13.84zM115.27,44.20h13.84v6.97h-13.84zM170.23,44.20h13.84v6.97h-13.84zM163.36,51.07h20.71v6.97h-20.71zM163.36,57.94h20.71v6.97h-20.71zM163.36,64.81h20.71v6.97h-20.71zM163.36,71.68h20.71v6.97h-20.71zM163.36,78.55h20.71v6.97h-20.71zM32.83,85.42h27.58v6.97h-27.58zM170.23,85.42h13.84v6.97h-13.84zM108.40,92.29h13.84v6.97h-13.84zM60.31,99.16h13.84v6.97h-13.84zM108.40,99.16h27.58v6.97h-27.58zM60.31,106.03h6.97v6.97h-6.97zM108.40,106.03h6.97v6.97h-6.97zM60.31,112.90h6.97v6.97h-6.97zM94.66,112.90h89.41v6.97h-89.41z"/>
</g></g>
<g clip-path="url(#sh)"><path d="M8.8,20.2h0M15.7,20.2h0M22.6,20.2h0M29.4,20.2h0M36.3,20.2h0M43.2,20.2h0M50.1,20.2h0M56.9,20.2h0M63.8,20.2h0M70.7,20.2h0M77.5,20.2h0M84.4,20.2h0M91.3,20.2h0M98.1,20.2h0M105.0,20.2h0M111.9,20.2h0M118.8,20.2h0M125.6,20.2h0M132.5,20.2h0M139.4,20.2h0M146.2,20.2h0M153.1,20.2h0M160.0,20.2h0M166.8,20.2h0M173.7,20.2h0M180.6,20.2h0M8.8,27.1h0M15.7,27.1h0M22.6,27.1h0M29.4,27.1h0M36.3,27.1h0M43.2,27.1h0M50.1,27.1h0M56.9,27.1h0M63.8,27.1h0M70.7,27.1h0M77.5,27.1h0M84.4,27.1h0M91.3,27.1h0M98.1,27.1h0M105.0,27.1h0M111.9,27.1h0M118.8,27.1h0M125.6,27.1h0M132.5,27.1h0M139.4,27.1h0M146.2,27.1h0M153.1,27.1h0M160.0,27.1h0M166.8,27.1h0M173.7,27.1h0M180.6,27.1h0M8.8,33.9h0M15.7,33.9h0M22.6,33.9h0M29.4,33.9h0M36.3,33.9h0M43.2,33.9h0M50.1,33.9h0M56.9,33.9h0M63.8,33.9h0M70.7,33.9h0M77.5,33.9h0M84.4,33.9h0M91.3,33.9h0M98.1,33.9h0M105.0,33.9h0M111.9,33.9h0M118.8,33.9h0M125.6,33.9h0M132.5,33.9h0M139.4,33.9h0M146.2,33.9h0M153.1,33.9h0M160.0,33.9h0M166.8,33.9h0M173.7,33.9h0M180.6,33.9h0M8.8,40.8h0M15.7,40.8h0M22.6,40.8h0M29.4,40.8h0M36.3,40.8h0M43.2,40.8h0M50.1,40.8h0M56.9,40.8h0M63.8,40.8h0M70.7,40.8h0M77.5,40.8h0M84.4,40.8h0M91.3,40.8h0M98.1,40.8h0M105.0,40.8h0M111.9,40.8h0M118.8,40.8h0M125.6,40.8h0M132.5,40.8h0M139.4,40.8h0M146.2,40.8h0M153.1,40.8h0M160.0,40.8h0M166.8,40.8h0M173.7,40.8h0M180.6,40.8h0M8.8,47.7h0M15.7,47.7h0M22.6,47.7h0M29.4,47.7h0M36.3,47.7h0M43.2,47.7h0M50.1,47.7h0M56.9,47.7h0M63.8,47.7h0M70.7,47.7h0M77.5,47.7h0M84.4,47.7h0M91.3,47.7h0M98.1,47.7h0M105.0,47.7h0M111.9,47.7h0M118.8,47.7h0M125.6,47.7h0M132.5,47.7h0M139.4,47.7h0M146.2,47.7h0M153.1,47.7h0M160.0,47.7h0M166.8,47.7h0M173.7,47.7h0M180.6,47.7h0M8.8,54.6h0M15.7,54.6h0M22.6,54.6h0M29.4,54.6h0M36.3,54.6h0M43.2,54.6h0M50.1,54.6h0M56.9,54.6h0M63.8,54.6h0M70.7,54.6h0M77.5,54.6h0M84.4,54.6h0M91.3,54.6h0M98.1,54.6h0M105.0,54.6h0M111.9,54.6h0M118.8,54.6h0M125.6,54.6h0M132.5,54.6h0M139.4,54.6h0M146.2,54.6h0M153.1,54.6h0M160.0,54.6h0M166.8,54.6h0M173.7,54.6h0M180.6,54.6h0M8.8,61.4h0M15.7,61.4h0M22.6,61.4h0M29.4,61.4h0M36.3,61.4h0M43.2,61.4h0M50.1,61.4h0M56.9,61.4h0M63.8,61.4h0M70.7,61.4h0M77.5,61.4h0M84.4,61.4h0M91.3,61.4h0M98.1,61.4h0M105.0,61.4h0M111.9,61.4h0M118.8,61.4h0M125.6,61.4h0M132.5,61.4h0M139.4,61.4h0M146.2,61.4h0M153.1,61.4h0M160.0,61.4h0M166.8,61.4h0M173.7,61.4h0M180.6,61.4h0M8.8,68.3h0M15.7,68.3h0M22.6,68.3h0M29.4,68.3h0M36.3,68.3h0M43.2,68.3h0M50.1,68.3h0M56.9,68.3h0M63.8,68.3h0M70.7,68.3h0M77.5,68.3h0M84.4,68.3h0M91.3,68.3h0M98.1,68.3h0M105.0,68.3h0M111.9,68.3h0M118.8,68.3h0M125.6,68.3h0M132.5,68.3h0M139.4,68.3h0M146.2,68.3h0M153.1,68.3h0M160.0,68.3h0M166.8,68.3h0M173.7,68.3h0M180.6,68.3h0M8.8,75.2h0M15.7,75.2h0M22.6,75.2h0M29.4,75.2h0M36.3,75.2h0M43.2,75.2h0M50.1,75.2h0M56.9,75.2h0M63.8,75.2h0M70.7,75.2h0M77.5,75.2h0M84.4,75.2h0M91.3,75.2h0M98.1,75.2h0M105.0,75.2h0M111.9,75.2h0M118.8,75.2h0M125.6,75.2h0M132.5,75.2h0M139.4,75.2h0M146.2,75.2h0M153.1,75.2h0M160.0,75.2h0M166.8,75.2h0M173.7,75.2h0M180.6,75.2h0M8.8,82.0h0M15.7,82.0h0M22.6,82.0h0M29.4,82.0h0M36.3,82.0h0M43.2,82.0h0M50.1,82.0h0M56.9,82.0h0M63.8,82.0h0M70.7,82.0h0M77.5,82.0h0M84.4,82.0h0M91.3,82.0h0M98.1,82.0h0M105.0,82.0h0M111.9,82.0h0M118.8,82.0h0M125.6,82.0h0M132.5,82.0h0M139.4,82.0h0M146.2,82.0h0M153.1,82.0h0M160.0,82.0h0M166.8,82.0h0M173.7,82.0h0M180.6,82.0h0M8.8,88.9h0M15.7,88.9h0M22.6,88.9h0M29.4,88.9h0M36.3,88.9h0M43.2,88.9h0M50.1,88.9h0M56.9,88.9h0M63.8,88.9h0M70.7,88.9h0M77.5,88.9h0M84.4,88.9h0M91.3,88.9h0M98.1,88.9h0M105.0,88.9h0M111.9,88.9h0M118.8,88.9h0M125.6,88.9h0M132.5,88.9h0M139.4,88.9h0M146.2,88.9h0M153.1,88.9h0M160.0,88.9h0M166.8,88.9h0M173.7,88.9h0M180.6,88.9h0M8.8,95.8h0M15.7,95.8h0M22.6,95.8h0M29.4,95.8h0M36.3,95.8h0M43.2,95.8h0M50.1,95.8h0M56.9,95.8h0M63.8,95.8h0M70.7,95.8h0M77.5,95.8h0M84.4,95.8h0M91.3,95.8h0M98.1,95.8h0M105.0,95.8h0M111.9,95.8h0M118.8,95.8h0M125.6,95.8h0M132.5,95.8h0M139.4,95.8h0M146.2,95.8h0M153.1,95.8h0M160.0,95.8h0M166.8,95.8h0M173.7,95.8h0M180.6,95.8h0M8.8,102.6h0M15.7,102.6h0M22.6,102.6h0M29.4,102.6h0M36.3,102.6h0M43.2,102.6h0M50.1,102.6h0M56.9,102.6h0M63.8,102.6h0M70.7,102.6h0M77.5,102.6h0M84.4,102.6h0M91.3,102.6h0M98.1,102.6h0M105.0,102.6h0M111.9,102.6h0M118.8,102.6h0M125.6,102.6h0M132.5,102.6h0M139.4,102.6h0M146.2,102.6h0M153.1,102.6h0M160.0,102.6h0M166.8,102.6h0M173.7,102.6h0M180.6,102.6h0M8.8,109.5h0M15.7,109.5h0M22.6,109.5h0M29.4,109.5h0M36.3,109.5h0M43.2,109.5h0M50.1,109.5h0M56.9,109.5h0M63.8,109.5h0M70.7,109.5h0M77.5,109.5h0M84.4,109.5h0M91.3,109.5h0M98.1,109.5h0M105.0,109.5h0M111.9,109.5h0M118.8,109.5h0M125.6,109.5h0M132.5,109.5h0M139.4,109.5h0M146.2,109.5h0M153.1,109.5h0M160.0,109.5h0M166.8,109.5h0M173.7,109.5h0M180.6,109.5h0M8.8,116.4h0M15.7,116.4h0M22.6,116.4h0M29.4,116.4h0M36.3,116.4h0M43.2,116.4h0M50.1,116.4h0M56.9,116.4h0M63.8,116.4h0M70.7,116.4h0M77.5,116.4h0M84.4,116.4h0M91.3,116.4h0M98.1,116.4h0M105.0,116.4h0M111.9,116.4h0M118.8,116.4h0M125.6,116.4h0M132.5,116.4h0M139.4,116.4h0M146.2,116.4h0M153.1,116.4h0M160.0,116.4h0M166.8,116.4h0M173.7,116.4h0M180.6,116.4h0M8.8,123.3h0M15.7,123.3h0M22.6,123.3h0M29.4,123.3h0M36.3,123.3h0M43.2,123.3h0M50.1,123.3h0M56.9,123.3h0M63.8,123.3h0M70.7,123.3h0M77.5,123.3h0M84.4,123.3h0M91.3,123.3h0M98.1,123.3h0M105.0,123.3h0M111.9,123.3h0M118.8,123.3h0M125.6,123.3h0M132.5,123.3h0M139.4,123.3h0M146.2,123.3h0M153.1,123.3h0M160.0,123.3h0M166.8,123.3h0M173.7,123.3h0M180.6,123.3h0M8.8,130.1h0M15.7,130.1h0M22.6,130.1h0M29.4,130.1h0M36.3,130.1h0M43.2,130.1h0M50.1,130.1h0M56.9,130.1h0M63.8,130.1h0M70.7,130.1h0M77.5,130.1h0M84.4,130.1h0M91.3,130.1h0M98.1,130.1h0M105.0,130.1h0M111.9,130.1h0M118.8,130.1h0M125.6,130.1h0M132.5,130.1h0M139.4,130.1h0M146.2,130.1h0M153.1,130.1h0M160.0,130.1h0M166.8,130.1h0M173.7,130.1h0M180.6,130.1h0M8.8,137.0h0M15.7,137.0h0M22.6,137.0h0M29.4,137.0h0M36.3,137.0h0M43.2,137.0h0M50.1,137.0h0M56.9,137.0h0M63.8,137.0h0M70.7,137.0h0M77.5,137.0h0M84.4,137.0h0M91.3,137.0h0M98.1,137.0h0M105.0,137.0h0M111.9,137.0h0M118.8,137.0h0M125.6,137.0h0M132.5,137.0h0M139.4,137.0h0M146.2,137.0h0M153.1,137.0h0M160.0,137.0h0M166.8,137.0h0M173.7,137.0h0M180.6,137.0h0M8.8,143.9h0M15.7,143.9h0M22.6,143.9h0M29.4,143.9h0M36.3,143.9h0M43.2,143.9h0M50.1,143.9h0M56.9,143.9h0M63.8,143.9h0M70.7,143.9h0M77.5,143.9h0M84.4,143.9h0M91.3,143.9h0M98.1,143.9h0M105.0,143.9h0M111.9,143.9h0M118.8,143.9h0M125.6,143.9h0M132.5,143.9h0M139.4,143.9h0M146.2,143.9h0M153.1,143.9h0M160.0,143.9h0M166.8,143.9h0M173.7,143.9h0M180.6,143.9h0M8.8,150.7h0M15.7,150.7h0M22.6,150.7h0M29.4,150.7h0M36.3,150.7h0M43.2,150.7h0M50.1,150.7h0M56.9,150.7h0M63.8,150.7h0M70.7,150.7h0M77.5,150.7h0M84.4,150.7h0M91.3,150.7h0M98.1,150.7h0M105.0,150.7h0M111.9,150.7h0M118.8,150.7h0M125.6,150.7h0M132.5,150.7h0M139.4,150.7h0M146.2,150.7h0M153.1,150.7h0M160.0,150.7h0M166.8,150.7h0M173.7,150.7h0M180.6,150.7h0" stroke="#3a3a1a" stroke-opacity="0.6" stroke-width="1.5" stroke-linecap="round" fill="none"/></g>
<path d="M37.9,80 L39.5,17.5 Q39.5,11.6 45.5,11.5 L83.6,12 L116.4,12.8 L144.7,14.2 Q149.5,14.6 152,17.5 L175.3,43.2 Q176.3,44.4 176.5,47.5 L177.4,66 L178.3,88 L178.1,98 Q178,105 175.5,108.8 Q173,111.3 169,111 Q163,110.3 157.3,108.2 Q150,106.4 140.9,106.3 L124.5,106.2 Q118,106.6 112.3,109.5 Q108.5,111.8 105.9,114.6 L99.5,120.4 L93.2,126.7 L86.8,132.5 L80.5,137.5 L75.4,142.6 Q72.5,145.5 67.7,147.1 Q61,148.3 53.3,148 Q45.7,147 38,144.7 Q34,143 30.4,140.9 L22.8,135.5 L15.2,127.9 L10.7,121.9 L6.8,115.8 Q4.3,111.5 9.1,107.4 L15.2,102.8 L22.8,97.5 L30.4,91.4 L35.8,86.1 Q37.6,83.5 37.9,80 Z" fill="none" stroke="#ee3c22" stroke-width="0.9"/>
</g>
<g transform="translate(361.3,0.3)">
<text class="t" x="111.3" y="127.3">Figure Legends</text>
<text class="s" x="111.5" y="138.2">Interpolation Point</text>
<circle cx="169.4" cy="137.1" r="1.15" fill="#1a2a70"/>
<text class="s" x="111.5" y="150.6">PM 10</text>
<text class="s" x="111.5" y="157.6">Concentration</text>
<text class="s" x="111.5" y="165.6">(µg/m³)</text>
<rect x="154.2" y="147.4" width="5.6" height="16.2" fill="url(#lg)"/>
<text class="n" x="163.8" y="151.4">21.86</text>
<text class="n" x="163.8" y="167.3">33.71</text>
</g>
<g transform="translate(0.8,161)">
<g clip-path="url(#sh)"><g filter="url(#bl)" shape-rendering="crispEdges">
<rect x="0" y="5" width="185" height="150" fill="#ffe000"/>
<path fill="rgb(8,184,8)" d="M5.35,9.85h89.41v6.97h-89.41zM135.88,9.85h48.19v6.97h-48.19zM5.35,16.72h89.41v6.97h-89.41zM135.88,16.72h48.19v6.97h-48.19zM5.35,23.59h82.54v6.97h-82.54zM101.53,23.59h13.84v6.97h-13.84zM135.88,23.59h48.19v6.97h-48.19zM46.57,30.46h27.58v6.97h-27.58zM101.53,30.46h13.84v6.97h-13.84zM129.01,30.46h34.45v6.97h-34.45zM67.18,37.33h13.84v6.97h-13.84zM135.88,37.33h6.97v6.97h-6.97zM67.18,44.20h27.58v6.97h-27.58zM129.01,44.20h13.84v6.97h-13.84zM67.18,51.07h27.58v6.97h-27.58zM129.01,51.07h13.84v6.97h-13.84zM156.49,85.42h6.97v6.97h-6.97zM25.96,99.16h6.97v6.97h-6.97zM25.96,106.03h6.97v6.97h-6.97zM39.70,112.90h6.97v6.97h-6.97zM74.05,112.90h6.97v6.97h-6.97zM46.57,140.38h13.84v6.97h-13.84z"/>
<path fill="rgb(58,198,8)" d="M94.66,9.85h13.84v6.97h-13.84zM94.66,16.72h13.84v6.97h-13.84zM87.79,23.59h6.97v6.97h-6.97zM129.01,23.59h6.97v6.97h-6.97zM74.05,30.46h6.97v6.97h-6.97zM115.27,30.46h6.97v6.97h-6.97zM163.36,30.46h20.71v6.97h-20.71zM60.31,37.33h6.97v6.97h-6.97zM101.53,37.33h13.84v6.97h-13.84zM122.14,37.33h13.84v6.97h-13.84zM142.75,37.33h20.71v6.97h-20.71zM122.14,44.20h6.97v6.97h-6.97zM149.62,85.42h6.97v6.97h-6.97zM149.62,92.29h13.84v6.97h-13.84zM32.83,106.03h6.97v6.97h-6.97zM25.96,112.90h13.84v6.97h-13.84zM19.09,126.64h6.97v6.97h-6.97zM5.35,133.51h27.58v6.97h-27.58zM60.31,133.51h13.84v6.97h-13.84zM60.31,140.38h123.76v6.97h-123.76zM5.35,147.25h178.72v6.97h-178.72z"/>
<path fill="rgb(126,217,8)" d="M108.40,9.85h6.97v6.97h-6.97zM129.01,9.85h6.97v6.97h-6.97zM108.40,16.72h6.97v6.97h-6.97zM129.01,16.72h6.97v6.97h-6.97zM94.66,23.59h6.97v6.97h-6.97zM115.27,23.59h13.84v6.97h-13.84zM122.14,30.46h6.97v6.97h-6.97zM46.57,37.33h13.84v6.97h-13.84zM115.27,37.33h6.97v6.97h-6.97zM163.36,37.33h6.97v6.97h-6.97zM60.31,44.20h6.97v6.97h-6.97zM142.75,44.20h6.97v6.97h-6.97zM163.36,92.29h6.97v6.97h-6.97zM108.40,99.16h13.84v6.97h-13.84zM149.62,99.16h20.71v6.97h-20.71zM19.09,106.03h6.97v6.97h-6.97zM39.70,106.03h6.97v6.97h-6.97zM108.40,106.03h13.84v6.97h-13.84zM149.62,106.03h20.71v6.97h-20.71zM46.57,112.90h6.97v6.97h-6.97zM25.96,119.77h13.84v6.97h-13.84zM67.18,119.77h6.97v6.97h-6.97zM5.35,126.64h13.84v6.97h-13.84zM25.96,126.64h6.97v6.97h-6.97zM32.83,133.51h6.97v6.97h-6.97zM74.05,133.51h110.02v6.97h-110.02zM5.35,140.38h41.32v6.97h-41.32z"/>
<path fill="rgb(200,238,8)" d="M115.27,9.85h13.84v6.97h-13.84zM115.27,16.72h13.84v6.97h-13.84zM5.35,30.46h41.32v6.97h-41.32zM94.66,30.46h6.97v6.97h-6.97zM80.92,37.33h6.97v6.97h-6.97zM170.23,37.33h13.84v6.97h-13.84zM94.66,44.20h27.58v6.97h-27.58zM149.62,44.20h6.97v6.97h-6.97zM122.14,51.07h6.97v6.97h-6.97zM142.75,51.07h6.97v6.97h-6.97zM170.23,92.29h13.84v6.97h-13.84zM101.53,99.16h6.97v6.97h-6.97zM122.14,99.16h27.58v6.97h-27.58zM170.23,99.16h13.84v6.97h-13.84zM101.53,106.03h6.97v6.97h-6.97zM122.14,106.03h27.58v6.97h-27.58zM170.23,106.03h13.84v6.97h-13.84zM19.09,112.90h6.97v6.97h-6.97zM12.22,119.77h13.84v6.97h-13.84zM39.70,119.77h13.84v6.97h-13.84zM60.31,126.64h13.84v6.97h-13.84zM39.70,133.51h20.71v6.97h-20.71z"/>
<path fill="rgb(255,255,0)" d="M80.92,30.46h6.97v6.97h-6.97zM5.35,37.33h41.32v6.97h-41.32zM156.49,44.20h13.84v6.97h-13.84zM60.31,51.07h6.97v6.97h-6.97zM94.66,51.07h6.97v6.97h-6.97zM115.27,51.07h6.97v6.97h-6.97zM80.92,57.94h6.97v6.97h-6.97zM129.01,57.94h13.84v6.97h-13.84zM156.49,64.81h13.84v6.97h-13.84zM149.62,78.55h20.71v6.97h-20.71zM142.75,85.42h6.97v6.97h-6.97zM163.36,85.42h6.97v6.97h-6.97zM101.53,92.29h13.84v6.97h-13.84zM142.75,92.29h6.97v6.97h-6.97zM5.35,99.16h20.71v6.97h-20.71zM12.22,112.90h6.97v6.97h-6.97zM53.44,112.90h6.97v6.97h-6.97zM80.92,112.90h103.15v6.97h-103.15zM5.35,119.77h6.97v6.97h-6.97zM53.44,119.77h13.84v6.97h-13.84zM74.05,119.77h110.02v6.97h-110.02zM32.83,126.64h27.58v6.97h-27.58zM74.05,126.64h110.02v6.97h-110.02z"/>
<path fill="rgb(255,196,0)" d="M87.79,30.46h6.97v6.97h-6.97zM87.79,37.33h13.84v6.97h-13.84zM170.23,44.20h13.84v6.97h-13.84zM101.53,51.07h13.84v6.97h-13.84zM67.18,57.94h13.84v6.97h-13.84zM87.79,57.94h13.84v6.97h-13.84zM122.14,57.94h6.97v6.97h-6.97zM142.75,57.94h6.97v6.97h-6.97zM156.49,57.94h13.84v6.97h-13.84zM170.23,64.81h13.84v6.97h-13.84zM149.62,71.68h34.45v6.97h-34.45zM142.75,78.55h6.97v6.97h-6.97zM170.23,78.55h13.84v6.97h-13.84zM170.23,85.42h13.84v6.97h-13.84zM5.35,92.29h27.58v6.97h-27.58zM115.27,92.29h13.84v6.97h-13.84zM32.83,99.16h6.97v6.97h-6.97zM94.66,99.16h6.97v6.97h-6.97zM12.22,106.03h6.97v6.97h-6.97zM46.57,106.03h6.97v6.97h-6.97zM87.79,106.03h13.84v6.97h-13.84zM5.35,112.90h6.97v6.97h-6.97z"/>
<path fill="rgb(255,140,0)" d="M5.35,44.20h41.32v6.97h-41.32zM53.44,44.20h6.97v6.97h-6.97zM5.35,51.07h41.32v6.97h-41.32zM53.44,51.07h6.97v6.97h-6.97zM149.62,51.07h34.45v6.97h-34.45zM5.35,57.94h41.32v6.97h-41.32zM60.31,57.94h6.97v6.97h-6.97zM101.53,57.94h20.71v6.97h-20.71zM149.62,57.94h6.97v6.97h-6.97zM170.23,57.94h13.84v6.97h-13.84zM5.35,64.81h41.32v6.97h-41.32zM129.01,64.81h27.58v6.97h-27.58zM129.01,71.68h20.71v6.97h-20.71zM135.88,78.55h6.97v6.97h-6.97zM39.70,85.42h6.97v6.97h-6.97zM101.53,85.42h27.58v6.97h-27.58zM32.83,92.29h6.97v6.97h-6.97zM87.79,92.29h13.84v6.97h-13.84zM129.01,92.29h13.84v6.97h-13.84zM87.79,99.16h6.97v6.97h-6.97zM5.35,106.03h6.97v6.97h-6.97zM80.92,106.03h6.97v6.97h-6.97zM60.31,112.90h13.84v6.97h-13.84z"/>
<path fill="rgb(255,66,0)" d="M46.57,44.20h6.97v6.97h-6.97zM46.57,51.07h6.97v6.97h-6.97zM46.57,57.94h13.84v6.97h-13.84zM60.31,64.81h6.97v6.97h-6.97zM80.92,64.81h6.97v6.97h-6.97zM94.66,64.81h34.45v6.97h-34.45zM60.31,71.68h6.97v6.97h-6.97zM80.92,71.68h6.97v6.97h-6.97zM94.66,71.68h34.45v6.97h-34.45zM60.31,78.55h6.97v6.97h-6.97zM80.92,78.55h55.06v6.97h-55.06zM5.35,85.42h34.45v6.97h-34.45zM80.92,85.42h20.71v6.97h-20.71zM135.88,85.42h6.97v6.97h-6.97zM80.92,92.29h6.97v6.97h-6.97zM80.92,99.16h6.97v6.97h-6.97zM53.44,106.03h27.58v6.97h-27.58z"/>
<path fill="rgb(255,18,0)" d="M46.57,64.81h13.84v6.97h-13.84zM67.18,64.81h13.84v6.97h-13.84zM87.79,64.81h6.97v6.97h-6.97zM5.35,71.68h55.06v6.97h-55.06zM67.18,71.68h13.84v6.97h-13.84zM87.79,71.68h6.97v6.97h-6.97zM5.35,78.55h55.06v6.97h-55.06zM67.18,78.55h13.84v6.97h-13.84zM46.57,85.42h34.45v6.97h-34.45zM129.01,85.42h6.97v6.97h-6.97zM39.70,92.29h41.32v6.97h-41.32zM39.70,99.16h41.32v6.97h-41.32z"/>
</g></g>
<g clip-path="url(#sh)"><path d="M8.8,20.2h0M15.7,20.2h0M22.6,20.2h0M29.4,20.2h0M36.3,20.2h0M43.2,20.2h0M50.1,20.2h0M56.9,20.2h0M63.8,20.2h0M70.7,20.2h0M77.5,20.2h0M84.4,20.2h0M91.3,20.2h0M98.1,20.2h0M105.0,20.2h0M111.9,20.2h0M118.8,20.2h0M125.6,20.2h0M132.5,20.2h0M139.4,20.2h0M146.2,20.2h0M153.1,20.2h0M160.0,20.2h0M166.8,20.2h0M173.7,20.2h0M180.6,20.2h0M8.8,27.1h0M15.7,27.1h0M22.6,27.1h0M29.4,27.1h0M36.3,27.1h0M43.2,27.1h0M50.1,27.1h0M56.9,27.1h0M63.8,27.1h0M70.7,27.1h0M77.5,27.1h0M84.4,27.1h0M91.3,27.1h0M98.1,27.1h0M105.0,27.1h0M111.9,27.1h0M118.8,27.1h0M125.6,27.1h0M132.5,27.1h0M139.4,27.1h0M146.2,27.1h0M153.1,27.1h0M160.0,27.1h0M166.8,27.1h0M173.7,27.1h0M180.6,27.1h0M8.8,33.9h0M15.7,33.9h0M22.6,33.9h0M29.4,33.9h0M36.3,33.9h0M43.2,33.9h0M50.1,33.9h0M56.9,33.9h0M63.8,33.9h0M70.7,33.9h0M77.5,33.9h0M84.4,33.9h0M91.3,33.9h0M98.1,33.9h0M105.0,33.9h0M111.9,33.9h0M118.8,33.9h0M125.6,33.9h0M132.5,33.9h0M139.4,33.9h0M146.2,33.9h0M153.1,33.9h0M160.0,33.9h0M166.8,33.9h0M173.7,33.9h0M180.6,33.9h0M8.8,40.8h0M15.7,40.8h0M22.6,40.8h0M29.4,40.8h0M36.3,40.8h0M43.2,40.8h0M50.1,40.8h0M56.9,40.8h0M63.8,40.8h0M70.7,40.8h0M77.5,40.8h0M84.4,40.8h0M91.3,40.8h0M98.1,40.8h0M105.0,40.8h0M111.9,40.8h0M118.8,40.8h0M125.6,40.8h0M132.5,40.8h0M139.4,40.8h0M146.2,40.8h0M153.1,40.8h0M160.0,40.8h0M166.8,40.8h0M173.7,40.8h0M180.6,40.8h0M8.8,47.7h0M15.7,47.7h0M22.6,47.7h0M29.4,47.7h0M36.3,47.7h0M43.2,47.7h0M50.1,47.7h0M56.9,47.7h0M63.8,47.7h0M70.7,47.7h0M77.5,47.7h0M84.4,47.7h0M91.3,47.7h0M98.1,47.7h0M105.0,47.7h0M111.9,47.7h0M118.8,47.7h0M125.6,47.7h0M132.5,47.7h0M139.4,47.7h0M146.2,47.7h0M153.1,47.7h0M160.0,47.7h0M166.8,47.7h0M173.7,47.7h0M180.6,47.7h0M8.8,54.6h0M15.7,54.6h0M22.6,54.6h0M29.4,54.6h0M36.3,54.6h0M43.2,54.6h0M50.1,54.6h0M56.9,54.6h0M63.8,54.6h0M70.7,54.6h0M77.5,54.6h0M84.4,54.6h0M91.3,54.6h0M98.1,54.6h0M105.0,54.6h0M111.9,54.6h0M118.8,54.6h0M125.6,54.6h0M132.5,54.6h0M139.4,54.6h0M146.2,54.6h0M153.1,54.6h0M160.0,54.6h0M166.8,54.6h0M173.7,54.6h0M180.6,54.6h0M8.8,61.4h0M15.7,61.4h0M22.6,61.4h0M29.4,61.4h0M36.3,61.4h0M43.2,61.4h0M50.1,61.4h0M56.9,61.4h0M63.8,61.4h0M70.7,61.4h0M77.5,61.4h0M84.4,61.4h0M91.3,61.4h0M98.1,61.4h0M105.0,61.4h0M111.9,61.4h0M118.8,61.4h0M125.6,61.4h0M132.5,61.4h0M139.4,61.4h0M146.2,61.4h0M153.1,61.4h0M160.0,61.4h0M166.8,61.4h0M173.7,61.4h0M180.6,61.4h0M8.8,68.3h0M15.7,68.3h0M22.6,68.3h0M29.4,68.3h0M36.3,68.3h0M43.2,68.3h0M50.1,68.3h0M56.9,68.3h0M63.8,68.3h0M70.7,68.3h0M77.5,68.3h0M84.4,68.3h0M91.3,68.3h0M98.1,68.3h0M105.0,68.3h0M111.9,68.3h0M118.8,68.3h0M125.6,68.3h0M132.5,68.3h0M139.4,68.3h0M146.2,68.3h0M153.1,68.3h0M160.0,68.3h0M166.8,68.3h0M173.7,68.3h0M180.6,68.3h0M8.8,75.2h0M15.7,75.2h0M22.6,75.2h0M29.4,75.2h0M36.3,75.2h0M43.2,75.2h0M50.1,75.2h0M56.9,75.2h0M63.8,75.2h0M70.7,75.2h0M77.5,75.2h0M84.4,75.2h0M91.3,75.2h0M98.1,75.2h0M105.0,75.2h0M111.9,75.2h0M118.8,75.2h0M125.6,75.2h0M132.5,75.2h0M139.4,75.2h0M146.2,75.2h0M153.1,75.2h0M160.0,75.2h0M166.8,75.2h0M173.7,75.2h0M180.6,75.2h0M8.8,82.0h0M15.7,82.0h0M22.6,82.0h0M29.4,82.0h0M36.3,82.0h0M43.2,82.0h0M50.1,82.0h0M56.9,82.0h0M63.8,82.0h0M70.7,82.0h0M77.5,82.0h0M84.4,82.0h0M91.3,82.0h0M98.1,82.0h0M105.0,82.0h0M111.9,82.0h0M118.8,82.0h0M125.6,82.0h0M132.5,82.0h0M139.4,82.0h0M146.2,82.0h0M153.1,82.0h0M160.0,82.0h0M166.8,82.0h0M173.7,82.0h0M180.6,82.0h0M8.8,88.9h0M15.7,88.9h0M22.6,88.9h0M29.4,88.9h0M36.3,88.9h0M43.2,88.9h0M50.1,88.9h0M56.9,88.9h0M63.8,88.9h0M70.7,88.9h0M77.5,88.9h0M84.4,88.9h0M91.3,88.9h0M98.1,88.9h0M105.0,88.9h0M111.9,88.9h0M118.8,88.9h0M125.6,88.9h0M132.5,88.9h0M139.4,88.9h0M146.2,88.9h0M153.1,88.9h0M160.0,88.9h0M166.8,88.9h0M173.7,88.9h0M180.6,88.9h0M8.8,95.8h0M15.7,95.8h0M22.6,95.8h0M29.4,95.8h0M36.3,95.8h0M43.2,95.8h0M50.1,95.8h0M56.9,95.8h0M63.8,95.8h0M70.7,95.8h0M77.5,95.8h0M84.4,95.8h0M91.3,95.8h0M98.1,95.8h0M105.0,95.8h0M111.9,95.8h0M118.8,95.8h0M125.6,95.8h0M132.5,95.8h0M139.4,95.8h0M146.2,95.8h0M153.1,95.8h0M160.0,95.8h0M166.8,95.8h0M173.7,95.8h0M180.6,95.8h0M8.8,102.6h0M15.7,102.6h0M22.6,102.6h0M29.4,102.6h0M36.3,102.6h0M43.2,102.6h0M50.1,102.6h0M56.9,102.6h0M63.8,102.6h0M70.7,102.6h0M77.5,102.6h0M84.4,102.6h0M91.3,102.6h0M98.1,102.6h0M105.0,102.6h0M111.9,102.6h0M118.8,102.6h0M125.6,102.6h0M132.5,102.6h0M139.4,102.6h0M146.2,102.6h0M153.1,102.6h0M160.0,102.6h0M166.8,102.6h0M173.7,102.6h0M180.6,102.6h0M8.8,109.5h0M15.7,109.5h0M22.6,109.5h0M29.4,109.5h0M36.3,109.5h0M43.2,109.5h0M50.1,109.5h0M56.9,109.5h0M63.8,109.5h0M70.7,109.5h0M77.5,109.5h0M84.4,109.5h0M91.3,109.5h0M98.1,109.5h0M105.0,109.5h0M111.9,109.5h0M118.8,109.5h0M125.6,109.5h0M132.5,109.5h0M139.4,109.5h0M146.2,109.5h0M153.1,109.5h0M160.0,109.5h0M166.8,109.5h0M173.7,109.5h0M180.6,109.5h0M8.8,116.4h0M15.7,116.4h0M22.6,116.4h0M29.4,116.4h0M36.3,116.4h0M43.2,116.4h0M50.1,116.4h0M56.9,116.4h0M63.8,116.4h0M70.7,116.4h0M77.5,116.4h0M84.4,116.4h0M91.3,116.4h0M98.1,116.4h0M105.0,116.4h0M111.9,116.4h0M118.8,116.4h0M125.6,116.4h0M132.5,116.4h0M139.4,116.4h0M146.2,116.4h0M153.1,116.4h0M160.0,116.4h0M166.8,116.4h0M173.7,116.4h0M180.6,116.4h0M8.8,123.3h0M15.7,123.3h0M22.6,123.3h0M29.4,123.3h0M36.3,123.3h0M43.2,123.3h0M50.1,123.3h0M56.9,123.3h0M63.8,123.3h0M70.7,123.3h0M77.5,123.3h0M84.4,123.3h0M91.3,123.3h0M98.1,123.3h0M105.0,123.3h0M111.9,123.3h0M118.8,123.3h0M125.6,123.3h0M132.5,123.3h0M139.4,123.3h0M146.2,123.3h0M153.1,123.3h0M160.0,123.3h0M166.8,123.3h0M173.7,123.3h0M180.6,123.3h0M8.8,130.1h0M15.7,130.1h0M22.6,130.1h0M29.4,130.1h0M36.3,130.1h0M43.2,130.1h0M50.1,130.1h0M56.9,130.1h0M63.8,130.1h0M70.7,130.1h0M77.5,130.1h0M84.4,130.1h0M91.3,130.1h0M98.1,130.1h0M105.0,130.1h0M111.9,130.1h0M118.8,130.1h0M125.6,130.1h0M132.5,130.1h0M139.4,130.1h0M146.2,130.1h0M153.1,130.1h0M160.0,130.1h0M166.8,130.1h0M173.7,130.1h0M180.6,130.1h0M8.8,137.0h0M15.7,137.0h0M22.6,137.0h0M29.4,137.0h0M36.3,137.0h0M43.2,137.0h0M50.1,137.0h0M56.9,137.0h0M63.8,137.0h0M70.7,137.0h0M77.5,137.0h0M84.4,137.0h0M91.3,137.0h0M98.1,137.0h0M105.0,137.0h0M111.9,137.0h0M118.8,137.0h0M125.6,137.0h0M132.5,137.0h0M139.4,137.0h0M146.2,137.0h0M153.1,137.0h0M160.0,137.0h0M166.8,137.0h0M173.7,137.0h0M180.6,137.0h0M8.8,143.9h0M15.7,143.9h0M22.6,143.9h0M29.4,143.9h0M36.3,143.9h0M43.2,143.9h0M50.1,143.9h0M56.9,143.9h0M63.8,143.9h0M70.7,143.9h0M77.5,143.9h0M84.4,143.9h0M91.3,143.9h0M98.1,143.9h0M105.0,143.9h0M111.9,143.9h0M118.8,143.9h0M125.6,143.9h0M132.5,143.9h0M139.4,143.9h0M146.2,143.9h0M153.1,143.9h0M160.0,143.9h0M166.8,143.9h0M173.7,143.9h0M180.6,143.9h0M8.8,150.7h0M15.7,150.7h0M22.6,150.7h0M29.4,150.7h0M36.3,150.7h0M43.2,150.7h0M50.1,150.7h0M56.9,150.7h0M63.8,150.7h0M70.7,150.7h0M77.5,150.7h0M84.4,150.7h0M91.3,150.7h0M98.1,150.7h0M105.0,150.7h0M111.9,150.7h0M118.8,150.7h0M125.6,150.7h0M132.5,150.7h0M139.4,150.7h0M146.2,150.7h0M153.1,150.7h0M160.0,150.7h0M166.8,150.7h0M173.7,150.7h0M180.6,150.7h0" stroke="#3a3a1a" stroke-opacity="0.6" stroke-width="1.5" stroke-linecap="round" fill="none"/></g>
<path d="M37.9,80 L39.5,17.5 Q39.5,11.6 45.5,11.5 L83.6,12 L116.4,12.8 L144.7,14.2 Q149.5,14.6 152,17.5 L175.3,43.2 Q176.3,44.4 176.5,47.5 L177.4,66 L178.3,88 L178.1,98 Q178,105 175.5,108.8 Q173,111.3 169,111 Q163,110.3 157.3,108.2 Q150,106.4 140.9,106.3 L124.5,106.2 Q118,106.6 112.3,109.5 Q108.5,111.8 105.9,114.6 L99.5,120.4 L93.2,126.7 L86.8,132.5 L80.5,137.5 L75.4,142.6 Q72.5,145.5 67.7,147.1 Q61,148.3 53.3,148 Q45.7,147 38,144.7 Q34,143 30.4,140.9 L22.8,135.5 L15.2,127.9 L10.7,121.9 L6.8,115.8 Q4.3,111.5 9.1,107.4 L15.2,102.8 L22.8,97.5 L30.4,91.4 L35.8,86.1 Q37.6,83.5 37.9,80 Z" fill="none" stroke="#ee3c22" stroke-width="0.9"/>
</g>
<g transform="translate(0,161.3)">
<text class="t" x="111.3" y="127.3">Figure Legends</text>
<text class="s" x="111.5" y="138.2">Interpolation Point</text>
<circle cx="169.4" cy="137.1" r="1.15" fill="#1a2a70"/>
<text class="s" x="111.5" y="150.6">PM 1</text>
<text class="s" x="111.5" y="157.6">Concentration</text>
<text class="s" x="111.5" y="165.6">(µg/m³)</text>
<rect x="154.2" y="147.4" width="5.6" height="16.2" fill="url(#lg)"/>
<text class="n" x="163.8" y="151.4">25.56</text>
<text class="n" x="163.8" y="167.3">42.02</text>
</g>
<g transform="translate(181,161)">
<g clip-path="url(#sh)"><g filter="url(#bl)" shape-rendering="crispEdges">
<rect x="0" y="5" width="185" height="150" fill="#ffe000"/>
<path fill="rgb(8,184,8)" d="M5.35,9.85h89.41v6.97h-89.41zM129.01,9.85h55.06v6.97h-55.06zM5.35,16.72h82.54v6.97h-82.54zM129.01,16.72h55.06v6.97h-55.06zM5.35,23.59h75.67v6.97h-75.67zM129.01,23.59h55.06v6.97h-55.06zM5.35,30.46h75.67v6.97h-75.67zM135.88,30.46h20.71v6.97h-20.71zM60.31,37.33h27.58v6.97h-27.58zM135.88,37.33h13.84v6.97h-13.84zM67.18,44.20h27.58v6.97h-27.58zM156.49,85.42h13.84v6.97h-13.84zM156.49,92.29h13.84v6.97h-13.84zM156.49,99.16h13.84v6.97h-13.84zM25.96,106.03h6.97v6.97h-6.97zM19.09,112.90h13.84v6.97h-13.84zM101.53,112.90h82.54v6.97h-82.54zM101.53,119.77h82.54v6.97h-82.54z"/>
<path fill="rgb(58,198,8)" d="M94.66,9.85h6.97v6.97h-6.97zM115.27,9.85h13.84v6.97h-13.84zM87.79,16.72h6.97v6.97h-6.97zM80.92,30.46h6.97v6.97h-6.97zM129.01,30.46h6.97v6.97h-6.97zM156.49,30.46h6.97v6.97h-6.97zM87.79,37.33h6.97v6.97h-6.97zM60.31,44.20h6.97v6.97h-6.97zM135.88,44.20h13.84v6.97h-13.84zM163.36,78.55h6.97v6.97h-6.97zM170.23,85.42h13.84v6.97h-13.84zM149.62,92.29h6.97v6.97h-6.97zM170.23,92.29h13.84v6.97h-13.84zM149.62,99.16h6.97v6.97h-6.97zM170.23,99.16h13.84v6.97h-13.84zM5.35,106.03h20.71v6.97h-20.71zM149.62,106.03h34.45v6.97h-34.45zM5.35,112.90h13.84v6.97h-13.84zM5.35,133.51h27.58v6.97h-27.58zM5.35,140.38h34.45v6.97h-34.45zM46.57,140.38h13.84v6.97h-13.84zM5.35,147.25h34.45v6.97h-34.45zM46.57,147.25h13.84v6.97h-13.84z"/>
<path fill="rgb(126,217,8)" d="M101.53,9.85h13.84v6.97h-13.84zM94.66,16.72h6.97v6.97h-6.97zM115.27,16.72h13.84v6.97h-13.84zM80.92,23.59h6.97v6.97h-6.97zM115.27,23.59h13.84v6.97h-13.84zM122.14,30.46h6.97v6.97h-6.97zM163.36,30.46h20.71v6.97h-20.71zM53.44,37.33h6.97v6.97h-6.97zM94.66,37.33h6.97v6.97h-6.97zM129.01,37.33h6.97v6.97h-6.97zM149.62,37.33h6.97v6.97h-6.97zM94.66,44.20h6.97v6.97h-6.97zM129.01,44.20h6.97v6.97h-6.97zM156.49,78.55h6.97v6.97h-6.97zM170.23,78.55h13.84v6.97h-13.84zM149.62,85.42h6.97v6.97h-6.97zM142.75,92.29h6.97v6.97h-6.97zM142.75,99.16h6.97v6.97h-6.97zM101.53,106.03h6.97v6.97h-6.97zM142.75,106.03h6.97v6.97h-6.97zM32.83,112.90h6.97v6.97h-6.97zM5.35,119.77h6.97v6.97h-6.97zM19.09,119.77h27.58v6.97h-27.58zM5.35,126.64h41.32v6.97h-41.32zM32.83,133.51h34.45v6.97h-34.45zM39.70,140.38h6.97v6.97h-6.97zM60.31,140.38h123.76v6.97h-123.76zM39.70,147.25h6.97v6.97h-6.97zM60.31,147.25h123.76v6.97h-123.76z"/>
<path fill="rgb(200,238,8)" d="M101.53,16.72h6.97v6.97h-6.97zM87.79,23.59h6.97v6.97h-6.97zM101.53,23.59h13.84v6.97h-13.84zM87.79,30.46h6.97v6.97h-6.97zM115.27,30.46h6.97v6.97h-6.97zM122.14,37.33h6.97v6.97h-6.97zM156.49,37.33h6.97v6.97h-6.97zM53.44,44.20h6.97v6.97h-6.97zM122.14,44.20h6.97v6.97h-6.97zM149.62,44.20h6.97v6.97h-6.97zM74.05,51.07h6.97v6.97h-6.97zM87.79,51.07h6.97v6.97h-6.97zM149.62,78.55h6.97v6.97h-6.97zM5.35,99.16h20.71v6.97h-20.71zM32.83,106.03h6.97v6.97h-6.97zM94.66,112.90h6.97v6.97h-6.97zM12.22,119.77h6.97v6.97h-6.97zM46.57,119.77h13.84v6.97h-13.84zM94.66,119.77h6.97v6.97h-6.97zM46.57,126.64h13.84v6.97h-13.84zM67.18,133.51h116.89v6.97h-116.89z"/>
<path fill="rgb(255,255,0)" d="M108.40,16.72h6.97v6.97h-6.97zM94.66,23.59h6.97v6.97h-6.97zM94.66,30.46h20.71v6.97h-20.71zM5.35,37.33h48.19v6.97h-48.19zM101.53,37.33h20.71v6.97h-20.71zM163.36,37.33h20.71v6.97h-20.71zM46.57,44.20h6.97v6.97h-6.97zM101.53,44.20h20.71v6.97h-20.71zM67.18,51.07h6.97v6.97h-6.97zM129.01,51.07h13.84v6.97h-13.84zM74.05,57.94h13.84v6.97h-13.84zM156.49,71.68h27.58v6.97h-27.58zM142.75,85.42h6.97v6.97h-6.97zM5.35,92.29h27.58v6.97h-27.58zM135.88,92.29h6.97v6.97h-6.97zM25.96,99.16h6.97v6.97h-6.97zM135.88,99.16h6.97v6.97h-6.97zM94.66,106.03h6.97v6.97h-6.97zM108.40,106.03h6.97v6.97h-6.97zM135.88,106.03h6.97v6.97h-6.97zM39.70,112.90h6.97v6.97h-6.97zM87.79,112.90h6.97v6.97h-6.97zM60.31,119.77h34.45v6.97h-34.45zM60.31,126.64h123.76v6.97h-123.76z"/>
<path fill="rgb(255,196,0)" d="M5.35,44.20h41.32v6.97h-41.32zM156.49,44.20h27.58v6.97h-27.58zM80.92,51.07h6.97v6.97h-6.97zM94.66,51.07h34.45v6.97h-34.45zM142.75,51.07h13.84v6.97h-13.84zM87.79,57.94h6.97v6.97h-6.97zM129.01,57.94h27.58v6.97h-27.58zM156.49,64.81h20.71v6.97h-20.71zM142.75,71.68h13.84v6.97h-13.84zM142.75,78.55h6.97v6.97h-6.97zM129.01,92.29h6.97v6.97h-6.97zM32.83,99.16h13.84v6.97h-13.84zM101.53,99.16h34.45v6.97h-34.45zM39.70,106.03h6.97v6.97h-6.97zM87.79,106.03h6.97v6.97h-6.97zM115.27,106.03h20.71v6.97h-20.71zM46.57,112.90h13.84v6.97h-13.84zM74.05,112.90h13.84v6.97h-13.84z"/>
<path fill="rgb(255,140,0)" d="M60.31,51.07h6.97v6.97h-6.97zM156.49,51.07h27.58v6.97h-27.58zM67.18,57.94h6.97v6.97h-6.97zM94.66,57.94h34.45v6.97h-34.45zM156.49,57.94h27.58v6.97h-27.58zM129.01,64.81h27.58v6.97h-27.58zM177.10,64.81h6.97v6.97h-6.97zM129.01,71.68h13.84v6.97h-13.84zM135.88,78.55h6.97v6.97h-6.97zM94.66,85.42h34.45v6.97h-34.45zM135.88,85.42h6.97v6.97h-6.97zM32.83,92.29h13.84v6.97h-13.84zM87.79,92.29h41.32v6.97h-41.32zM87.79,99.16h13.84v6.97h-13.84zM46.57,106.03h13.84v6.97h-13.84zM74.05,106.03h13.84v6.97h-13.84zM60.31,112.90h13.84v6.97h-13.84z"/>
<path fill="rgb(255,66,0)" d="M5.35,51.07h55.06v6.97h-55.06zM5.35,57.94h61.93v6.97h-61.93zM5.35,64.81h41.32v6.97h-41.32zM74.05,64.81h55.06v6.97h-55.06zM60.31,71.68h6.97v6.97h-6.97zM80.92,71.68h6.97v6.97h-6.97zM94.66,71.68h34.45v6.97h-34.45zM80.92,78.55h55.06v6.97h-55.06zM5.35,85.42h48.19v6.97h-48.19zM80.92,85.42h13.84v6.97h-13.84zM129.01,85.42h6.97v6.97h-6.97zM46.57,92.29h6.97v6.97h-6.97zM80.92,92.29h6.97v6.97h-6.97zM46.57,99.16h6.97v6.97h-6.97zM74.05,99.16h13.84v6.97h-13.84zM60.31,106.03h13.84v6.97h-13.84z"/>
<path fill="rgb(255,18,0)" d="M46.57,64.81h27.58v6.97h-27.58zM5.35,71.68h55.06v6.97h-55.06zM67.18,71.68h13.84v6.97h-13.84zM87.79,71.68h6.97v6.97h-6.97zM5.35,78.55h75.67v6.97h-75.67zM53.44,85.42h27.58v6.97h-27.58zM53.44,92.29h27.58v6.97h-27.58zM53.44,99.16h20.71v6.97h-20.71z"/>
</g></g>
<g clip-path="url(#sh)"><path d="M8.8,20.2h0M15.7,20.2h0M22.6,20.2h0M29.4,20.2h0M36.3,20.2h0M43.2,20.2h0M50.1,20.2h0M56.9,20.2h0M63.8,20.2h0M70.7,20.2h0M77.5,20.2h0M84.4,20.2h0M91.3,20.2h0M98.1,20.2h0M105.0,20.2h0M111.9,20.2h0M118.8,20.2h0M125.6,20.2h0M132.5,20.2h0M139.4,20.2h0M146.2,20.2h0M153.1,20.2h0M160.0,20.2h0M166.8,20.2h0M173.7,20.2h0M180.6,20.2h0M8.8,27.1h0M15.7,27.1h0M22.6,27.1h0M29.4,27.1h0M36.3,27.1h0M43.2,27.1h0M50.1,27.1h0M56.9,27.1h0M63.8,27.1h0M70.7,27.1h0M77.5,27.1h0M84.4,27.1h0M91.3,27.1h0M98.1,27.1h0M105.0,27.1h0M111.9,27.1h0M118.8,27.1h0M125.6,27.1h0M132.5,27.1h0M139.4,27.1h0M146.2,27.1h0M153.1,27.1h0M160.0,27.1h0M166.8,27.1h0M173.7,27.1h0M180.6,27.1h0M8.8,33.9h0M15.7,33.9h0M22.6,33.9h0M29.4,33.9h0M36.3,33.9h0M43.2,33.9h0M50.1,33.9h0M56.9,33.9h0M63.8,33.9h0M70.7,33.9h0M77.5,33.9h0M84.4,33.9h0M91.3,33.9h0M98.1,33.9h0M105.0,33.9h0M111.9,33.9h0M118.8,33.9h0M125.6,33.9h0M132.5,33.9h0M139.4,33.9h0M146.2,33.9h0M153.1,33.9h0M160.0,33.9h0M166.8,33.9h0M173.7,33.9h0M180.6,33.9h0M8.8,40.8h0M15.7,40.8h0M22.6,40.8h0M29.4,40.8h0M36.3,40.8h0M43.2,40.8h0M50.1,40.8h0M56.9,40.8h0M63.8,40.8h0M70.7,40.8h0M77.5,40.8h0M84.4,40.8h0M91.3,40.8h0M98.1,40.8h0M105.0,40.8h0M111.9,40.8h0M118.8,40.8h0M125.6,40.8h0M132.5,40.8h0M139.4,40.8h0M146.2,40.8h0M153.1,40.8h0M160.0,40.8h0M166.8,40.8h0M173.7,40.8h0M180.6,40.8h0M8.8,47.7h0M15.7,47.7h0M22.6,47.7h0M29.4,47.7h0M36.3,47.7h0M43.2,47.7h0M50.1,47.7h0M56.9,47.7h0M63.8,47.7h0M70.7,47.7h0M77.5,47.7h0M84.4,47.7h0M91.3,47.7h0M98.1,47.7h0M105.0,47.7h0M111.9,47.7h0M118.8,47.7h0M125.6,47.7h0M132.5,47.7h0M139.4,47.7h0M146.2,47.7h0M153.1,47.7h0M160.0,47.7h0M166.8,47.7h0M173.7,47.7h0M180.6,47.7h0M8.8,54.6h0M15.7,54.6h0M22.6,54.6h0M29.4,54.6h0M36.3,54.6h0M43.2,54.6h0M50.1,54.6h0M56.9,54.6h0M63.8,54.6h0M70.7,54.6h0M77.5,54.6h0M84.4,54.6h0M91.3,54.6h0M98.1,54.6h0M105.0,54.6h0M111.9,54.6h0M118.8,54.6h0M125.6,54.6h0M132.5,54.6h0M139.4,54.6h0M146.2,54.6h0M153.1,54.6h0M160.0,54.6h0M166.8,54.6h0M173.7,54.6h0M180.6,54.6h0M8.8,61.4h0M15.7,61.4h0M22.6,61.4h0M29.4,61.4h0M36.3,61.4h0M43.2,61.4h0M50.1,61.4h0M56.9,61.4h0M63.8,61.4h0M70.7,61.4h0M77.5,61.4h0M84.4,61.4h0M91.3,61.4h0M98.1,61.4h0M105.0,61.4h0M111.9,61.4h0M118.8,61.4h0M125.6,61.4h0M132.5,61.4h0M139.4,61.4h0M146.2,61.4h0M153.1,61.4h0M160.0,61.4h0M166.8,61.4h0M173.7,61.4h0M180.6,61.4h0M8.8,68.3h0M15.7,68.3h0M22.6,68.3h0M29.4,68.3h0M36.3,68.3h0M43.2,68.3h0M50.1,68.3h0M56.9,68.3h0M63.8,68.3h0M70.7,68.3h0M77.5,68.3h0M84.4,68.3h0M91.3,68.3h0M98.1,68.3h0M105.0,68.3h0M111.9,68.3h0M118.8,68.3h0M125.6,68.3h0M132.5,68.3h0M139.4,68.3h0M146.2,68.3h0M153.1,68.3h0M160.0,68.3h0M166.8,68.3h0M173.7,68.3h0M180.6,68.3h0M8.8,75.2h0M15.7,75.2h0M22.6,75.2h0M29.4,75.2h0M36.3,75.2h0M43.2,75.2h0M50.1,75.2h0M56.9,75.2h0M63.8,75.2h0M70.7,75.2h0M77.5,75.2h0M84.4,75.2h0M91.3,75.2h0M98.1,75.2h0M105.0,75.2h0M111.9,75.2h0M118.8,75.2h0M125.6,75.2h0M132.5,75.2h0M139.4,75.2h0M146.2,75.2h0M153.1,75.2h0M160.0,75.2h0M166.8,75.2h0M173.7,75.2h0M180.6,75.2h0M8.8,82.0h0M15.7,82.0h0M22.6,82.0h0M29.4,82.0h0M36.3,82.0h0M43.2,82.0h0M50.1,82.0h0M56.9,82.0h0M63.8,82.0h0M70.7,82.0h0M77.5,82.0h0M84.4,82.0h0M91.3,82.0h0M98.1,82.0h0M105.0,82.0h0M111.9,82.0h0M118.8,82.0h0M125.6,82.0h0M132.5,82.0h0M139.4,82.0h0M146.2,82.0h0M153.1,82.0h0M160.0,82.0h0M166.8,82.0h0M173.7,82.0h0M180.6,82.0h0M8.8,88.9h0M15.7,88.9h0M22.6,88.9h0M29.4,88.9h0M36.3,88.9h0M43.2,88.9h0M50.1,88.9h0M56.9,88.9h0M63.8,88.9h0M70.7,88.9h0M77.5,88.9h0M84.4,88.9h0M91.3,88.9h0M98.1,88.9h0M105.0,88.9h0M111.9,88.9h0M118.8,88.9h0M125.6,88.9h0M132.5,88.9h0M139.4,88.9h0M146.2,88.9h0M153.1,88.9h0M160.0,88.9h0M166.8,88.9h0M173.7,88.9h0M180.6,88.9h0M8.8,95.8h0M15.7,95.8h0M22.6,95.8h0M29.4,95.8h0M36.3,95.8h0M43.2,95.8h0M50.1,95.8h0M56.9,95.8h0M63.8,95.8h0M70.7,95.8h0M77.5,95.8h0M84.4,95.8h0M91.3,95.8h0M98.1,95.8h0M105.0,95.8h0M111.9,95.8h0M118.8,95.8h0M125.6,95.8h0M132.5,95.8h0M139.4,95.8h0M146.2,95.8h0M153.1,95.8h0M160.0,95.8h0M166.8,95.8h0M173.7,95.8h0M180.6,95.8h0M8.8,102.6h0M15.7,102.6h0M22.6,102.6h0M29.4,102.6h0M36.3,102.6h0M43.2,102.6h0M50.1,102.6h0M56.9,102.6h0M63.8,102.6h0M70.7,102.6h0M77.5,102.6h0M84.4,102.6h0M91.3,102.6h0M98.1,102.6h0M105.0,102.6h0M111.9,102.6h0M118.8,102.6h0M125.6,102.6h0M132.5,102.6h0M139.4,102.6h0M146.2,102.6h0M153.1,102.6h0M160.0,102.6h0M166.8,102.6h0M173.7,102.6h0M180.6,102.6h0M8.8,109.5h0M15.7,109.5h0M22.6,109.5h0M29.4,109.5h0M36.3,109.5h0M43.2,109.5h0M50.1,109.5h0M56.9,109.5h0M63.8,109.5h0M70.7,109.5h0M77.5,109.5h0M84.4,109.5h0M91.3,109.5h0M98.1,109.5h0M105.0,109.5h0M111.9,109.5h0M118.8,109.5h0M125.6,109.5h0M132.5,109.5h0M139.4,109.5h0M146.2,109.5h0M153.1,109.5h0M160.0,109.5h0M166.8,109.5h0M173.7,109.5h0M180.6,109.5h0M8.8,116.4h0M15.7,116.4h0M22.6,116.4h0M29.4,116.4h0M36.3,116.4h0M43.2,116.4h0M50.1,116.4h0M56.9,116.4h0M63.8,116.4h0M70.7,116.4h0M77.5,116.4h0M84.4,116.4h0M91.3,116.4h0M98.1,116.4h0M105.0,116.4h0M111.9,116.4h0M118.8,116.4h0M125.6,116.4h0M132.5,116.4h0M139.4,116.4h0M146.2,116.4h0M153.1,116.4h0M160.0,116.4h0M166.8,116.4h0M173.7,116.4h0M180.6,116.4h0M8.8,123.3h0M15.7,123.3h0M22.6,123.3h0M29.4,123.3h0M36.3,123.3h0M43.2,123.3h0M50.1,123.3h0M56.9,123.3h0M63.8,123.3h0M70.7,123.3h0M77.5,123.3h0M84.4,123.3h0M91.3,123.3h0M98.1,123.3h0M105.0,123.3h0M111.9,123.3h0M118.8,123.3h0M125.6,123.3h0M132.5,123.3h0M139.4,123.3h0M146.2,123.3h0M153.1,123.3h0M160.0,123.3h0M166.8,123.3h0M173.7,123.3h0M180.6,123.3h0M8.8,130.1h0M15.7,130.1h0M22.6,130.1h0M29.4,130.1h0M36.3,130.1h0M43.2,130.1h0M50.1,130.1h0M56.9,130.1h0M63.8,130.1h0M70.7,130.1h0M77.5,130.1h0M84.4,130.1h0M91.3,130.1h0M98.1,130.1h0M105.0,130.1h0M111.9,130.1h0M118.8,130.1h0M125.6,130.1h0M132.5,130.1h0M139.4,130.1h0M146.2,130.1h0M153.1,130.1h0M160.0,130.1h0M166.8,130.1h0M173.7,130.1h0M180.6,130.1h0M8.8,137.0h0M15.7,137.0h0M22.6,137.0h0M29.4,137.0h0M36.3,137.0h0M43.2,137.0h0M50.1,137.0h0M56.9,137.0h0M63.8,137.0h0M70.7,137.0h0M77.5,137.0h0M84.4,137.0h0M91.3,137.0h0M98.1,137.0h0M105.0,137.0h0M111.9,137.0h0M118.8,137.0h0M125.6,137.0h0M132.5,137.0h0M139.4,137.0h0M146.2,137.0h0M153.1,137.0h0M160.0,137.0h0M166.8,137.0h0M173.7,137.0h0M180.6,137.0h0M8.8,143.9h0M15.7,143.9h0M22.6,143.9h0M29.4,143.9h0M36.3,143.9h0M43.2,143.9h0M50.1,143.9h0M56.9,143.9h0M63.8,143.9h0M70.7,143.9h0M77.5,143.9h0M84.4,143.9h0M91.3,143.9h0M98.1,143.9h0M105.0,143.9h0M111.9,143.9h0M118.8,143.9h0M125.6,143.9h0M132.5,143.9h0M139.4,143.9h0M146.2,143.9h0M153.1,143.9h0M160.0,143.9h0M166.8,143.9h0M173.7,143.9h0M180.6,143.9h0M8.8,150.7h0M15.7,150.7h0M22.6,150.7h0M29.4,150.7h0M36.3,150.7h0M43.2,150.7h0M50.1,150.7h0M56.9,150.7h0M63.8,150.7h0M70.7,150.7h0M77.5,150.7h0M84.4,150.7h0M91.3,150.7h0M98.1,150.7h0M105.0,150.7h0M111.9,150.7h0M118.8,150.7h0M125.6,150.7h0M132.5,150.7h0M139.4,150.7h0M146.2,150.7h0M153.1,150.7h0M160.0,150.7h0M166.8,150.7h0M173.7,150.7h0M180.6,150.7h0" stroke="#3a3a1a" stroke-opacity="0.6" stroke-width="1.5" stroke-linecap="round" fill="none"/></g>
<path d="M37.9,80 L39.5,17.5 Q39.5,11.6 45.5,11.5 L83.6,12 L116.4,12.8 L144.7,14.2 Q149.5,14.6 152,17.5 L175.3,43.2 Q176.3,44.4 176.5,47.5 L177.4,66 L178.3,88 L178.1,98 Q178,105 175.5,108.8 Q173,111.3 169,111 Q163,110.3 157.3,108.2 Q150,106.4 140.9,106.3 L124.5,106.2 Q118,106.6 112.3,109.5 Q108.5,111.8 105.9,114.6 L99.5,120.4 L93.2,126.7 L86.8,132.5 L80.5,137.5 L75.4,142.6 Q72.5,145.5 67.7,147.1 Q61,148.3 53.3,148 Q45.7,147 38,144.7 Q34,143 30.4,140.9 L22.8,135.5 L15.2,127.9 L10.7,121.9 L6.8,115.8 Q4.3,111.5 9.1,107.4 L15.2,102.8 L22.8,97.5 L30.4,91.4 L35.8,86.1 Q37.6,83.5 37.9,80 Z" fill="none" stroke="#ee3c22" stroke-width="0.9"/>
</g>
<g transform="translate(181,161.3)">
<text class="t" x="111.3" y="127.3">Figure Legends</text>
<text class="s" x="111.5" y="138.2">Interpolation Point</text>
<circle cx="169.4" cy="137.1" r="1.15" fill="#1a2a70"/>
<text class="s" x="111.5" y="150.6">PM 2.5</text>
<text class="s" x="111.5" y="157.6">Concentration</text>
<text class="s" x="111.5" y="165.6">(µg/m³)</text>
<rect x="154.2" y="147.4" width="5.6" height="16.2" fill="url(#lg)"/>
<text class="n" x="163.8" y="151.4">53.73</text>
<text class="n" x="163.8" y="167.3">70.35</text>
</g>
<g transform="translate(361,161)">
<g clip-path="url(#sh)"><g filter="url(#bl)" shape-rendering="crispEdges">
<rect x="0" y="5" width="185" height="150" fill="#ffe000"/>
<path fill="rgb(8,184,8)" d="M5.35,9.85h82.54v6.97h-82.54zM135.88,9.85h48.19v6.97h-48.19zM5.35,16.72h75.67v6.97h-75.67zM135.88,16.72h48.19v6.97h-48.19zM5.35,23.59h75.67v6.97h-75.67zM142.75,23.59h13.84v6.97h-13.84zM46.57,30.46h34.45v6.97h-34.45zM142.75,30.46h13.84v6.97h-13.84zM46.57,37.33h27.58v6.97h-27.58zM135.88,37.33h20.71v6.97h-20.71zM67.18,44.20h27.58v6.97h-27.58zM156.49,85.42h13.84v6.97h-13.84zM149.62,92.29h34.45v6.97h-34.45zM25.96,99.16h6.97v6.97h-6.97zM149.62,99.16h34.45v6.97h-34.45zM19.09,106.03h13.84v6.97h-13.84zM19.09,112.90h13.84v6.97h-13.84zM101.53,112.90h82.54v6.97h-82.54zM101.53,119.77h82.54v6.97h-82.54zM19.09,126.64h6.97v6.97h-6.97z"/>
<path fill="rgb(58,198,8)" d="M80.92,16.72h6.97v6.97h-6.97zM135.88,23.59h6.97v6.97h-6.97zM156.49,23.59h27.58v6.97h-27.58zM135.88,30.46h6.97v6.97h-6.97zM156.49,30.46h6.97v6.97h-6.97zM142.75,44.20h13.84v6.97h-13.84zM149.62,85.42h6.97v6.97h-6.97zM170.23,85.42h13.84v6.97h-13.84zM5.35,99.16h20.71v6.97h-20.71zM142.75,99.16h6.97v6.97h-6.97zM12.22,106.03h6.97v6.97h-6.97zM101.53,106.03h6.97v6.97h-6.97zM142.75,106.03h41.32v6.97h-41.32zM5.35,112.90h6.97v6.97h-6.97zM5.35,119.77h27.58v6.97h-27.58zM5.35,126.64h13.84v6.97h-13.84zM25.96,126.64h6.97v6.97h-6.97zM5.35,133.51h34.45v6.97h-34.45zM5.35,140.38h41.32v6.97h-41.32zM53.44,140.38h13.84v6.97h-13.84zM5.35,147.25h178.72v6.97h-178.72z"/>
<path fill="rgb(126,217,8)" d="M87.79,9.85h13.84v6.97h-13.84zM87.79,16.72h6.97v6.97h-6.97zM129.01,16.72h6.97v6.97h-6.97zM80.92,23.59h6.97v6.97h-6.97zM129.01,23.59h6.97v6.97h-6.97zM80.92,30.46h6.97v6.97h-6.97zM163.36,30.46h20.71v6.97h-20.71zM60.31,44.20h6.97v6.97h-6.97zM129.01,44.20h13.84v6.97h-13.84zM87.79,51.07h6.97v6.97h-6.97zM135.88,51.07h6.97v6.97h-6.97zM156.49,78.55h13.84v6.97h-13.84zM5.35,92.29h27.58v6.97h-27.58zM142.75,92.29h6.97v6.97h-6.97zM32.83,106.03h6.97v6.97h-6.97zM12.22,112.90h6.97v6.97h-6.97zM32.83,112.90h6.97v6.97h-6.97zM32.83,119.77h6.97v6.97h-6.97zM39.70,133.51h27.58v6.97h-27.58zM46.57,140.38h6.97v6.97h-6.97zM67.18,140.38h116.89v6.97h-116.89z"/>
<path fill="rgb(200,238,8)" d="M115.27,9.85h20.71v6.97h-20.71zM94.66,16.72h6.97v6.97h-6.97zM115.27,16.72h13.84v6.97h-13.84zM94.66,23.59h6.97v6.97h-6.97zM94.66,30.46h6.97v6.97h-6.97zM5.35,37.33h41.32v6.97h-41.32zM74.05,37.33h13.84v6.97h-13.84zM108.40,37.33h6.97v6.97h-6.97zM156.49,37.33h27.58v6.97h-27.58zM163.36,44.20h6.97v6.97h-6.97zM149.62,78.55h6.97v6.97h-6.97zM170.23,78.55h13.84v6.97h-13.84zM108.40,99.16h6.97v6.97h-6.97zM135.88,99.16h6.97v6.97h-6.97zM94.66,106.03h6.97v6.97h-6.97zM135.88,106.03h6.97v6.97h-6.97zM87.79,112.90h13.84v6.97h-13.84zM39.70,119.77h6.97v6.97h-6.97zM94.66,119.77h6.97v6.97h-6.97zM32.83,126.64h13.84v6.97h-13.84zM60.31,126.64h6.97v6.97h-6.97zM74.05,126.64h6.97v6.97h-6.97zM67.18,133.51h116.89v6.97h-116.89z"/>
<path fill="rgb(255,255,0)" d="M101.53,9.85h13.84v6.97h-13.84zM108.40,16.72h6.97v6.97h-6.97zM87.79,23.59h6.97v6.97h-6.97zM101.53,23.59h27.58v6.97h-27.58zM5.35,30.46h41.32v6.97h-41.32zM87.79,30.46h6.97v6.97h-6.97zM101.53,30.46h34.45v6.97h-34.45zM101.53,37.33h6.97v6.97h-6.97zM115.27,37.33h20.71v6.97h-20.71zM94.66,44.20h6.97v6.97h-6.97zM156.49,44.20h6.97v6.97h-6.97zM67.18,51.07h13.84v6.97h-13.84zM129.01,51.07h6.97v6.97h-6.97zM142.75,51.07h6.97v6.97h-6.97zM74.05,57.94h20.71v6.97h-20.71zM156.49,71.68h27.58v6.97h-27.58zM142.75,85.42h6.97v6.97h-6.97zM108.40,92.29h6.97v6.97h-6.97zM135.88,92.29h6.97v6.97h-6.97zM32.83,99.16h6.97v6.97h-6.97zM101.53,99.16h6.97v6.97h-6.97zM115.27,99.16h6.97v6.97h-6.97zM5.35,106.03h6.97v6.97h-6.97zM39.70,106.03h6.97v6.97h-6.97zM108.40,106.03h6.97v6.97h-6.97zM39.70,112.90h6.97v6.97h-6.97zM80.92,112.90h6.97v6.97h-6.97zM46.57,119.77h48.19v6.97h-48.19zM46.57,126.64h13.84v6.97h-13.84zM67.18,126.64h6.97v6.97h-6.97zM80.92,126.64h103.15v6.97h-103.15z"/>
<path fill="rgb(255,196,0)" d="M101.53,16.72h6.97v6.97h-6.97zM94.66,37.33h6.97v6.97h-6.97zM5.35,44.20h41.32v6.97h-41.32zM53.44,44.20h6.97v6.97h-6.97zM101.53,44.20h27.58v6.97h-27.58zM170.23,44.20h13.84v6.97h-13.84zM80.92,51.07h6.97v6.97h-6.97zM94.66,51.07h6.97v6.97h-6.97zM163.36,51.07h6.97v6.97h-6.97zM129.01,57.94h20.71v6.97h-20.71zM156.49,57.94h13.84v6.97h-13.84zM142.75,64.81h41.32v6.97h-41.32zM149.62,71.68h6.97v6.97h-6.97zM142.75,78.55h6.97v6.97h-6.97zM32.83,92.29h6.97v6.97h-6.97zM101.53,92.29h6.97v6.97h-6.97zM115.27,92.29h20.71v6.97h-20.71zM94.66,99.16h6.97v6.97h-6.97zM122.14,99.16h13.84v6.97h-13.84zM87.79,106.03h6.97v6.97h-6.97zM115.27,106.03h20.71v6.97h-20.71zM46.57,112.90h13.84v6.97h-13.84z"/>
<path fill="rgb(255,140,0)" d="M87.79,37.33h6.97v6.97h-6.97zM46.57,44.20h6.97v6.97h-6.97zM53.44,51.07h13.84v6.97h-13.84zM101.53,51.07h27.58v6.97h-27.58zM149.62,51.07h13.84v6.97h-13.84zM170.23,51.07h13.84v6.97h-13.84zM67.18,57.94h6.97v6.97h-6.97zM94.66,57.94h34.45v6.97h-34.45zM149.62,57.94h6.97v6.97h-6.97zM170.23,57.94h13.84v6.97h-13.84zM5.35,64.81h41.32v6.97h-41.32zM129.01,64.81h13.84v6.97h-13.84zM129.01,71.68h20.71v6.97h-20.71zM129.01,78.55h13.84v6.97h-13.84zM39.70,85.42h6.97v6.97h-6.97zM101.53,85.42h27.58v6.97h-27.58zM135.88,85.42h6.97v6.97h-6.97zM87.79,92.29h13.84v6.97h-13.84zM39.70,99.16h6.97v6.97h-6.97zM87.79,99.16h6.97v6.97h-6.97zM46.57,106.03h13.84v6.97h-13.84zM80.92,106.03h6.97v6.97h-6.97zM60.31,112.90h20.71v6.97h-20.71z"/>
<path fill="rgb(255,66,0)" d="M5.35,51.07h48.19v6.97h-48.19zM5.35,57.94h61.93v6.97h-61.93zM60.31,64.81h6.97v6.97h-6.97zM80.92,64.81h48.19v6.97h-48.19zM60.31,71.68h6.97v6.97h-6.97zM80.92,71.68h48.19v6.97h-48.19zM46.57,78.55h6.97v6.97h-6.97zM80.92,78.55h48.19v6.97h-48.19zM5.35,85.42h34.45v6.97h-34.45zM80.92,85.42h20.71v6.97h-20.71zM129.01,85.42h6.97v6.97h-6.97zM39.70,92.29h6.97v6.97h-6.97zM80.92,92.29h6.97v6.97h-6.97zM46.57,99.16h6.97v6.97h-6.97zM74.05,99.16h13.84v6.97h-13.84zM60.31,106.03h6.97v6.97h-6.97zM74.05,106.03h6.97v6.97h-6.97z"/>
<path fill="rgb(255,18,0)" d="M46.57,64.81h13.84v6.97h-13.84zM67.18,64.81h13.84v6.97h-13.84zM5.35,71.68h55.06v6.97h-55.06zM67.18,71.68h13.84v6.97h-13.84zM5.35,78.55h41.32v6.97h-41.32zM53.44,78.55h27.58v6.97h-27.58zM46.57,85.42h34.45v6.97h-34.45zM46.57,92.29h34.45v6.97h-34.45zM53.44,99.16h20.71v6.97h-20.71zM67.18,106.03h6.97v6.97h-6.97z"/>
</g></g>
<g clip-path="url(#sh)"><path d="M8.8,20.2h0M15.7,20.2h0M22.6,20.2h0M29.4,20.2h0M36.3,20.2h0M43.2,20.2h0M50.1,20.2h0M56.9,20.2h0M63.8,20.2h0M70.7,20.2h0M77.5,20.2h0M84.4,20.2h0M91.3,20.2h0M98.1,20.2h0M105.0,20.2h0M111.9,20.2h0M118.8,20.2h0M125.6,20.2h0M132.5,20.2h0M139.4,20.2h0M146.2,20.2h0M153.1,20.2h0M160.0,20.2h0M166.8,20.2h0M173.7,20.2h0M180.6,20.2h0M8.8,27.1h0M15.7,27.1h0M22.6,27.1h0M29.4,27.1h0M36.3,27.1h0M43.2,27.1h0M50.1,27.1h0M56.9,27.1h0M63.8,27.1h0M70.7,27.1h0M77.5,27.1h0M84.4,27.1h0M91.3,27.1h0M98.1,27.1h0M105.0,27.1h0M111.9,27.1h0M118.8,27.1h0M125.6,27.1h0M132.5,27.1h0M139.4,27.1h0M146.2,27.1h0M153.1,27.1h0M160.0,27.1h0M166.8,27.1h0M173.7,27.1h0M180.6,27.1h0M8.8,33.9h0M15.7,33.9h0M22.6,33.9h0M29.4,33.9h0M36.3,33.9h0M43.2,33.9h0M50.1,33.9h0M56.9,33.9h0M63.8,33.9h0M70.7,33.9h0M77.5,33.9h0M84.4,33.9h0M91.3,33.9h0M98.1,33.9h0M105.0,33.9h0M111.9,33.9h0M118.8,33.9h0M125.6,33.9h0M132.5,33.9h0M139.4,33.9h0M146.2,33.9h0M153.1,33.9h0M160.0,33.9h0M166.8,33.9h0M173.7,33.9h0M180.6,33.9h0M8.8,40.8h0M15.7,40.8h0M22.6,40.8h0M29.4,40.8h0M36.3,40.8h0M43.2,40.8h0M50.1,40.8h0M56.9,40.8h0M63.8,40.8h0M70.7,40.8h0M77.5,40.8h0M84.4,40.8h0M91.3,40.8h0M98.1,40.8h0M105.0,40.8h0M111.9,40.8h0M118.8,40.8h0M125.6,40.8h0M132.5,40.8h0M139.4,40.8h0M146.2,40.8h0M153.1,40.8h0M160.0,40.8h0M166.8,40.8h0M173.7,40.8h0M180.6,40.8h0M8.8,47.7h0M15.7,47.7h0M22.6,47.7h0M29.4,47.7h0M36.3,47.7h0M43.2,47.7h0M50.1,47.7h0M56.9,47.7h0M63.8,47.7h0M70.7,47.7h0M77.5,47.7h0M84.4,47.7h0M91.3,47.7h0M98.1,47.7h0M105.0,47.7h0M111.9,47.7h0M118.8,47.7h0M125.6,47.7h0M132.5,47.7h0M139.4,47.7h0M146.2,47.7h0M153.1,47.7h0M160.0,47.7h0M166.8,47.7h0M173.7,47.7h0M180.6,47.7h0M8.8,54.6h0M15.7,54.6h0M22.6,54.6h0M29.4,54.6h0M36.3,54.6h0M43.2,54.6h0M50.1,54.6h0M56.9,54.6h0M63.8,54.6h0M70.7,54.6h0M77.5,54.6h0M84.4,54.6h0M91.3,54.6h0M98.1,54.6h0M105.0,54.6h0M111.9,54.6h0M118.8,54.6h0M125.6,54.6h0M132.5,54.6h0M139.4,54.6h0M146.2,54.6h0M153.1,54.6h0M160.0,54.6h0M166.8,54.6h0M173.7,54.6h0M180.6,54.6h0M8.8,61.4h0M15.7,61.4h0M22.6,61.4h0M29.4,61.4h0M36.3,61.4h0M43.2,61.4h0M50.1,61.4h0M56.9,61.4h0M63.8,61.4h0M70.7,61.4h0M77.5,61.4h0M84.4,61.4h0M91.3,61.4h0M98.1,61.4h0M105.0,61.4h0M111.9,61.4h0M118.8,61.4h0M125.6,61.4h0M132.5,61.4h0M139.4,61.4h0M146.2,61.4h0M153.1,61.4h0M160.0,61.4h0M166.8,61.4h0M173.7,61.4h0M180.6,61.4h0M8.8,68.3h0M15.7,68.3h0M22.6,68.3h0M29.4,68.3h0M36.3,68.3h0M43.2,68.3h0M50.1,68.3h0M56.9,68.3h0M63.8,68.3h0M70.7,68.3h0M77.5,68.3h0M84.4,68.3h0M91.3,68.3h0M98.1,68.3h0M105.0,68.3h0M111.9,68.3h0M118.8,68.3h0M125.6,68.3h0M132.5,68.3h0M139.4,68.3h0M146.2,68.3h0M153.1,68.3h0M160.0,68.3h0M166.8,68.3h0M173.7,68.3h0M180.6,68.3h0M8.8,75.2h0M15.7,75.2h0M22.6,75.2h0M29.4,75.2h0M36.3,75.2h0M43.2,75.2h0M50.1,75.2h0M56.9,75.2h0M63.8,75.2h0M70.7,75.2h0M77.5,75.2h0M84.4,75.2h0M91.3,75.2h0M98.1,75.2h0M105.0,75.2h0M111.9,75.2h0M118.8,75.2h0M125.6,75.2h0M132.5,75.2h0M139.4,75.2h0M146.2,75.2h0M153.1,75.2h0M160.0,75.2h0M166.8,75.2h0M173.7,75.2h0M180.6,75.2h0M8.8,82.0h0M15.7,82.0h0M22.6,82.0h0M29.4,82.0h0M36.3,82.0h0M43.2,82.0h0M50.1,82.0h0M56.9,82.0h0M63.8,82.0h0M70.7,82.0h0M77.5,82.0h0M84.4,82.0h0M91.3,82.0h0M98.1,82.0h0M105.0,82.0h0M111.9,82.0h0M118.8,82.0h0M125.6,82.0h0M132.5,82.0h0M139.4,82.0h0M146.2,82.0h0M153.1,82.0h0M160.0,82.0h0M166.8,82.0h0M173.7,82.0h0M180.6,82.0h0M8.8,88.9h0M15.7,88.9h0M22.6,88.9h0M29.4,88.9h0M36.3,88.9h0M43.2,88.9h0M50.1,88.9h0M56.9,88.9h0M63.8,88.9h0M70.7,88.9h0M77.5,88.9h0M84.4,88.9h0M91.3,88.9h0M98.1,88.9h0M105.0,88.9h0M111.9,88.9h0M118.8,88.9h0M125.6,88.9h0M132.5,88.9h0M139.4,88.9h0M146.2,88.9h0M153.1,88.9h0M160.0,88.9h0M166.8,88.9h0M173.7,88.9h0M180.6,88.9h0M8.8,95.8h0M15.7,95.8h0M22.6,95.8h0M29.4,95.8h0M36.3,95.8h0M43.2,95.8h0M50.1,95.8h0M56.9,95.8h0M63.8,95.8h0M70.7,95.8h0M77.5,95.8h0M84.4,95.8h0M91.3,95.8h0M98.1,95.8h0M105.0,95.8h0M111.9,95.8h0M118.8,95.8h0M125.6,95.8h0M132.5,95.8h0M139.4,95.8h0M146.2,95.8h0M153.1,95.8h0M160.0,95.8h0M166.8,95.8h0M173.7,95.8h0M180.6,95.8h0M8.8,102.6h0M15.7,102.6h0M22.6,102.6h0M29.4,102.6h0M36.3,102.6h0M43.2,102.6h0M50.1,102.6h0M56.9,102.6h0M63.8,102.6h0M70.7,102.6h0M77.5,102.6h0M84.4,102.6h0M91.3,102.6h0M98.1,102.6h0M105.0,102.6h0M111.9,102.6h0M118.8,102.6h0M125.6,102.6h0M132.5,102.6h0M139.4,102.6h0M146.2,102.6h0M153.1,102.6h0M160.0,102.6h0M166.8,102.6h0M173.7,102.6h0M180.6,102.6h0M8.8,109.5h0M15.7,109.5h0M22.6,109.5h0M29.4,109.5h0M36.3,109.5h0M43.2,109.5h0M50.1,109.5h0M56.9,109.5h0M63.8,109.5h0M70.7,109.5h0M77.5,109.5h0M84.4,109.5h0M91.3,109.5h0M98.1,109.5h0M105.0,109.5h0M111.9,109.5h0M118.8,109.5h0M125.6,109.5h0M132.5,109.5h0M139.4,109.5h0M146.2,109.5h0M153.1,109.5h0M160.0,109.5h0M166.8,109.5h0M173.7,109.5h0M180.6,109.5h0M8.8,116.4h0M15.7,116.4h0M22.6,116.4h0M29.4,116.4h0M36.3,116.4h0M43.2,116.4h0M50.1,116.4h0M56.9,116.4h0M63.8,116.4h0M70.7,116.4h0M77.5,116.4h0M84.4,116.4h0M91.3,116.4h0M98.1,116.4h0M105.0,116.4h0M111.9,116.4h0M118.8,116.4h0M125.6,116.4h0M132.5,116.4h0M139.4,116.4h0M146.2,116.4h0M153.1,116.4h0M160.0,116.4h0M166.8,116.4h0M173.7,116.4h0M180.6,116.4h0M8.8,123.3h0M15.7,123.3h0M22.6,123.3h0M29.4,123.3h0M36.3,123.3h0M43.2,123.3h0M50.1,123.3h0M56.9,123.3h0M63.8,123.3h0M70.7,123.3h0M77.5,123.3h0M84.4,123.3h0M91.3,123.3h0M98.1,123.3h0M105.0,123.3h0M111.9,123.3h0M118.8,123.3h0M125.6,123.3h0M132.5,123.3h0M139.4,123.3h0M146.2,123.3h0M153.1,123.3h0M160.0,123.3h0M166.8,123.3h0M173.7,123.3h0M180.6,123.3h0M8.8,130.1h0M15.7,130.1h0M22.6,130.1h0M29.4,130.1h0M36.3,130.1h0M43.2,130.1h0M50.1,130.1h0M56.9,130.1h0M63.8,130.1h0M70.7,130.1h0M77.5,130.1h0M84.4,130.1h0M91.3,130.1h0M98.1,130.1h0M105.0,130.1h0M111.9,130.1h0M118.8,130.1h0M125.6,130.1h0M132.5,130.1h0M139.4,130.1h0M146.2,130.1h0M153.1,130.1h0M160.0,130.1h0M166.8,130.1h0M173.7,130.1h0M180.6,130.1h0M8.8,137.0h0M15.7,137.0h0M22.6,137.0h0M29.4,137.0h0M36.3,137.0h0M43.2,137.0h0M50.1,137.0h0M56.9,137.0h0M63.8,137.0h0M70.7,137.0h0M77.5,137.0h0M84.4,137.0h0M91.3,137.0h0M98.1,137.0h0M105.0,137.0h0M111.9,137.0h0M118.8,137.0h0M125.6,137.0h0M132.5,137.0h0M139.4,137.0h0M146.2,137.0h0M153.1,137.0h0M160.0,137.0h0M166.8,137.0h0M173.7,137.0h0M180.6,137.0h0M8.8,143.9h0M15.7,143.9h0M22.6,143.9h0M29.4,143.9h0M36.3,143.9h0M43.2,143.9h0M50.1,143.9h0M56.9,143.9h0M63.8,143.9h0M70.7,143.9h0M77.5,143.9h0M84.4,143.9h0M91.3,143.9h0M98.1,143.9h0M105.0,143.9h0M111.9,143.9h0M118.8,143.9h0M125.6,143.9h0M132.5,143.9h0M139.4,143.9h0M146.2,143.9h0M153.1,143.9h0M160.0,143.9h0M166.8,143.9h0M173.7,143.9h0M180.6,143.9h0M8.8,150.7h0M15.7,150.7h0M22.6,150.7h0M29.4,150.7h0M36.3,150.7h0M43.2,150.7h0M50.1,150.7h0M56.9,150.7h0M63.8,150.7h0M70.7,150.7h0M77.5,150.7h0M84.4,150.7h0M91.3,150.7h0M98.1,150.7h0M105.0,150.7h0M111.9,150.7h0M118.8,150.7h0M125.6,150.7h0M132.5,150.7h0M139.4,150.7h0M146.2,150.7h0M153.1,150.7h0M160.0,150.7h0M166.8,150.7h0M173.7,150.7h0M180.6,150.7h0" stroke="#3a3a1a" stroke-opacity="0.6" stroke-width="1.5" stroke-linecap="round" fill="none"/></g>
<path d="M37.9,80 L39.5,17.5 Q39.5,11.6 45.5,11.5 L83.6,12 L116.4,12.8 L144.7,14.2 Q149.5,14.6 152,17.5 L175.3,43.2 Q176.3,44.4 176.5,47.5 L177.4,66 L178.3,88 L178.1,98 Q178,105 175.5,108.8 Q173,111.3 169,111 Q163,110.3 157.3,108.2 Q150,106.4 140.9,106.3 L124.5,106.2 Q118,106.6 112.3,109.5 Q108.5,111.8 105.9,114.6 L99.5,120.4 L93.2,126.7 L86.8,132.5 L80.5,137.5 L75.4,142.6 Q72.5,145.5 67.7,147.1 Q61,148.3 53.3,148 Q45.7,147 38,144.7 Q34,143 30.4,140.9 L22.8,135.5 L15.2,127.9 L10.7,121.9 L6.8,115.8 Q4.3,111.5 9.1,107.4 L15.2,102.8 L22.8,97.5 L30.4,91.4 L35.8,86.1 Q37.6,83.5 37.9,80 Z" fill="none" stroke="#ee3c22" stroke-width="0.9"/>
</g>
<g transform="translate(361.3,161.3)">
<text class="t" x="111.3" y="127.3">Figure Legends</text>
<text class="s" x="111.5" y="138.2">Interpolation Point</text>
<circle cx="169.4" cy="137.1" r="1.15" fill="#1a2a70"/>
<text class="s" x="111.5" y="150.6">PM 10</text>
<text class="s" x="111.5" y="157.6">Concentration</text>
<text class="s" x="111.5" y="165.6">(µg/m³)</text>
<rect x="154.2" y="147.4" width="5.6" height="16.2" fill="url(#lg)"/>
<text class="n" x="163.8" y="151.4">54.36</text>
<text class="n" x="163.8" y="167.3">87.64</text>
</g>
<g transform="translate(-0.7,320.3)">
<g clip-path="url(#sh)"><g filter="url(#bl)" shape-rendering="crispEdges">
<rect x="0" y="5" width="185" height="150" fill="#ffe000"/>
<path fill="rgb(8,184,8)" d="M53.44,16.72h6.97v6.97h-6.97zM149.62,30.46h6.97v6.97h-6.97zM80.92,64.81h20.71v6.97h-20.71zM80.92,71.68h27.58v6.97h-27.58zM74.05,78.55h41.32v6.97h-41.32zM80.92,85.42h34.45v6.97h-34.45zM80.92,92.29h48.19v6.97h-48.19zM149.62,92.29h34.45v6.97h-34.45zM87.79,99.16h41.32v6.97h-41.32zM135.88,99.16h48.19v6.97h-48.19zM87.79,106.03h96.28v6.97h-96.28zM12.22,112.90h6.97v6.97h-6.97zM94.66,112.90h89.41v6.97h-89.41zM5.35,119.77h41.32v6.97h-41.32zM94.66,119.77h89.41v6.97h-89.41z"/>
<path fill="rgb(58,198,8)" d="M53.44,9.85h6.97v6.97h-6.97zM46.57,23.59h13.84v6.97h-13.84zM74.05,51.07h13.84v6.97h-13.84zM80.92,57.94h6.97v6.97h-6.97zM74.05,71.68h6.97v6.97h-6.97zM74.05,85.42h6.97v6.97h-6.97zM115.27,85.42h6.97v6.97h-6.97zM156.49,85.42h27.58v6.97h-27.58zM80.92,99.16h6.97v6.97h-6.97zM5.35,112.90h6.97v6.97h-6.97zM87.79,112.90h6.97v6.97h-6.97zM5.35,126.64h27.58v6.97h-27.58zM67.18,126.64h116.89v6.97h-116.89zM67.18,133.51h116.89v6.97h-116.89zM46.57,140.38h137.50v6.97h-137.50zM5.35,147.25h178.72v6.97h-178.72z"/>
<path fill="rgb(126,217,8)" d="M5.35,9.85h48.19v6.97h-48.19zM5.35,16.72h48.19v6.97h-48.19zM149.62,16.72h34.45v6.97h-34.45zM5.35,23.59h41.32v6.97h-41.32zM149.62,23.59h34.45v6.97h-34.45zM46.57,30.46h6.97v6.97h-6.97zM135.88,30.46h13.84v6.97h-13.84zM156.49,30.46h6.97v6.97h-6.97zM94.66,37.33h6.97v6.97h-6.97zM67.18,51.07h6.97v6.97h-6.97zM67.18,57.94h13.84v6.97h-13.84zM67.18,64.81h6.97v6.97h-6.97zM67.18,71.68h6.97v6.97h-6.97zM108.40,71.68h6.97v6.97h-6.97zM67.18,78.55h6.97v6.97h-6.97zM115.27,78.55h6.97v6.97h-6.97zM170.23,78.55h13.84v6.97h-13.84zM74.05,92.29h6.97v6.97h-6.97zM129.01,92.29h6.97v6.97h-6.97zM142.75,92.29h6.97v6.97h-6.97zM74.05,99.16h6.97v6.97h-6.97zM129.01,99.16h6.97v6.97h-6.97zM5.35,106.03h13.84v6.97h-13.84zM80.92,106.03h6.97v6.97h-6.97zM19.09,112.90h13.84v6.97h-13.84zM87.79,119.77h6.97v6.97h-6.97zM32.83,126.64h13.84v6.97h-13.84zM5.35,133.51h27.58v6.97h-27.58zM46.57,133.51h20.71v6.97h-20.71zM5.35,140.38h41.32v6.97h-41.32z"/>
<path fill="rgb(200,238,8)" d="M101.53,9.85h13.84v6.97h-13.84zM135.88,9.85h48.19v6.97h-48.19zM101.53,16.72h13.84v6.97h-13.84zM135.88,16.72h13.84v6.97h-13.84zM94.66,23.59h6.97v6.97h-6.97zM142.75,23.59h6.97v6.97h-6.97zM163.36,30.46h20.71v6.97h-20.71zM46.57,37.33h6.97v6.97h-6.97zM87.79,37.33h6.97v6.97h-6.97zM149.62,37.33h6.97v6.97h-6.97zM87.79,51.07h6.97v6.97h-6.97zM87.79,57.94h6.97v6.97h-6.97zM101.53,64.81h6.97v6.97h-6.97zM115.27,71.68h6.97v6.97h-6.97zM60.31,78.55h6.97v6.97h-6.97zM156.49,78.55h13.84v6.97h-13.84zM122.14,85.42h6.97v6.97h-6.97zM25.96,106.03h6.97v6.97h-6.97zM74.05,106.03h6.97v6.97h-6.97zM46.57,119.77h13.84v6.97h-13.84zM74.05,119.77h13.84v6.97h-13.84zM32.83,133.51h13.84v6.97h-13.84z"/>
<path fill="rgb(255,255,0)" d="M129.01,9.85h6.97v6.97h-6.97zM129.01,16.72h6.97v6.97h-6.97zM122.14,23.59h20.71v6.97h-20.71zM5.35,30.46h41.32v6.97h-41.32zM53.44,30.46h13.84v6.97h-13.84zM94.66,30.46h6.97v6.97h-6.97zM115.27,30.46h6.97v6.97h-6.97zM129.01,30.46h6.97v6.97h-6.97zM5.35,37.33h41.32v6.97h-41.32zM53.44,37.33h6.97v6.97h-6.97zM80.92,37.33h6.97v6.97h-6.97zM108.40,37.33h6.97v6.97h-6.97zM135.88,37.33h6.97v6.97h-6.97zM163.36,37.33h6.97v6.97h-6.97zM5.35,44.20h48.19v6.97h-48.19zM80.92,44.20h20.71v6.97h-20.71zM129.01,44.20h6.97v6.97h-6.97zM60.31,51.07h6.97v6.97h-6.97zM60.31,57.94h6.97v6.97h-6.97zM60.31,64.81h6.97v6.97h-6.97zM74.05,64.81h6.97v6.97h-6.97zM108.40,64.81h6.97v6.97h-6.97zM170.23,64.81h13.84v6.97h-13.84zM60.31,71.68h6.97v6.97h-6.97zM122.14,78.55h6.97v6.97h-6.97zM67.18,85.42h6.97v6.97h-6.97zM129.01,85.42h6.97v6.97h-6.97zM149.62,85.42h6.97v6.97h-6.97zM135.88,92.29h6.97v6.97h-6.97zM19.09,106.03h6.97v6.97h-6.97zM67.18,106.03h6.97v6.97h-6.97zM32.83,112.90h13.84v6.97h-13.84zM80.92,112.90h6.97v6.97h-6.97zM60.31,119.77h13.84v6.97h-13.84zM46.57,126.64h6.97v6.97h-6.97zM60.31,126.64h6.97v6.97h-6.97z"/>
<path fill="rgb(255,196,0)" d="M60.31,9.85h6.97v6.97h-6.97zM94.66,9.85h6.97v6.97h-6.97zM115.27,9.85h13.84v6.97h-13.84zM60.31,16.72h6.97v6.97h-6.97zM94.66,16.72h6.97v6.97h-6.97zM115.27,16.72h13.84v6.97h-13.84zM87.79,23.59h6.97v6.97h-6.97zM101.53,23.59h20.71v6.97h-20.71zM80.92,30.46h13.84v6.97h-13.84zM101.53,30.46h13.84v6.97h-13.84zM122.14,30.46h6.97v6.97h-6.97zM60.31,37.33h20.71v6.97h-20.71zM101.53,37.33h6.97v6.97h-6.97zM122.14,37.33h13.84v6.97h-13.84zM142.75,37.33h6.97v6.97h-6.97zM156.49,37.33h6.97v6.97h-6.97zM53.44,44.20h6.97v6.97h-6.97zM74.05,44.20h6.97v6.97h-6.97zM135.88,44.20h34.45v6.97h-34.45zM94.66,51.07h6.97v6.97h-6.97zM94.66,57.94h6.97v6.97h-6.97zM115.27,64.81h6.97v6.97h-6.97zM170.23,71.68h13.84v6.97h-13.84zM149.62,78.55h6.97v6.97h-6.97zM67.18,92.29h6.97v6.97h-6.97zM67.18,99.16h6.97v6.97h-6.97zM32.83,106.03h13.84v6.97h-13.84zM46.57,112.90h6.97v6.97h-6.97zM74.05,112.90h6.97v6.97h-6.97zM53.44,126.64h6.97v6.97h-6.97z"/>
<path fill="rgb(255,140,0)" d="M67.18,9.85h6.97v6.97h-6.97zM87.79,9.85h6.97v6.97h-6.97zM67.18,16.72h6.97v6.97h-6.97zM87.79,16.72h6.97v6.97h-6.97zM60.31,23.59h27.58v6.97h-27.58zM67.18,30.46h13.84v6.97h-13.84zM115.27,37.33h6.97v6.97h-6.97zM170.23,37.33h13.84v6.97h-13.84zM67.18,44.20h6.97v6.97h-6.97zM101.53,44.20h20.71v6.97h-20.71zM170.23,44.20h13.84v6.97h-13.84zM53.44,51.07h6.97v6.97h-6.97zM101.53,51.07h13.84v6.97h-13.84zM53.44,57.94h6.97v6.97h-6.97zM101.53,57.94h13.84v6.97h-13.84zM170.23,57.94h13.84v6.97h-13.84zM122.14,64.81h6.97v6.97h-6.97zM163.36,64.81h6.97v6.97h-6.97zM53.44,71.68h6.97v6.97h-6.97zM122.14,71.68h6.97v6.97h-6.97zM163.36,71.68h6.97v6.97h-6.97zM53.44,78.55h6.97v6.97h-6.97zM129.01,78.55h6.97v6.97h-6.97zM142.75,78.55h6.97v6.97h-6.97zM53.44,85.42h13.84v6.97h-13.84zM135.88,85.42h13.84v6.97h-13.84zM5.35,99.16h34.45v6.97h-34.45zM46.57,99.16h6.97v6.97h-6.97zM46.57,106.03h6.97v6.97h-6.97zM60.31,112.90h13.84v6.97h-13.84z"/>
<path fill="rgb(255,66,0)" d="M74.05,9.85h13.84v6.97h-13.84zM74.05,16.72h13.84v6.97h-13.84zM60.31,44.20h6.97v6.97h-6.97zM122.14,44.20h6.97v6.97h-6.97zM149.62,51.07h34.45v6.97h-34.45zM115.27,57.94h13.84v6.97h-13.84zM149.62,57.94h6.97v6.97h-6.97zM163.36,57.94h6.97v6.97h-6.97zM53.44,64.81h6.97v6.97h-6.97zM156.49,64.81h6.97v6.97h-6.97zM129.01,71.68h6.97v6.97h-6.97zM156.49,71.68h6.97v6.97h-6.97zM46.57,78.55h6.97v6.97h-6.97zM135.88,78.55h6.97v6.97h-6.97zM46.57,85.42h6.97v6.97h-6.97zM5.35,92.29h34.45v6.97h-34.45zM46.57,92.29h20.71v6.97h-20.71zM39.70,99.16h6.97v6.97h-6.97zM53.44,99.16h13.84v6.97h-13.84zM53.44,106.03h13.84v6.97h-13.84zM53.44,112.90h6.97v6.97h-6.97z"/>
<path fill="rgb(255,18,0)" d="M5.35,51.07h48.19v6.97h-48.19zM115.27,51.07h34.45v6.97h-34.45zM5.35,57.94h48.19v6.97h-48.19zM129.01,57.94h20.71v6.97h-20.71zM156.49,57.94h6.97v6.97h-6.97zM5.35,64.81h48.19v6.97h-48.19zM129.01,64.81h27.58v6.97h-27.58zM5.35,71.68h48.19v6.97h-48.19zM135.88,71.68h20.71v6.97h-20.71zM5.35,78.55h41.32v6.97h-41.32zM5.35,85.42h41.32v6.97h-41.32zM39.70,92.29h6.97v6.97h-6.97z"/>
</g></g>
<g clip-path="url(#sh)"><path d="M8.8,20.2h0M15.7,20.2h0M22.6,20.2h0M29.4,20.2h0M36.3,20.2h0M43.2,20.2h0M50.1,20.2h0M56.9,20.2h0M63.8,20.2h0M70.7,20.2h0M77.5,20.2h0M84.4,20.2h0M91.3,20.2h0M98.1,20.2h0M105.0,20.2h0M111.9,20.2h0M118.8,20.2h0M125.6,20.2h0M132.5,20.2h0M139.4,20.2h0M146.2,20.2h0M153.1,20.2h0M160.0,20.2h0M166.8,20.2h0M173.7,20.2h0M180.6,20.2h0M8.8,27.1h0M15.7,27.1h0M22.6,27.1h0M29.4,27.1h0M36.3,27.1h0M43.2,27.1h0M50.1,27.1h0M56.9,27.1h0M63.8,27.1h0M70.7,27.1h0M77.5,27.1h0M84.4,27.1h0M91.3,27.1h0M98.1,27.1h0M105.0,27.1h0M111.9,27.1h0M118.8,27.1h0M125.6,27.1h0M132.5,27.1h0M139.4,27.1h0M146.2,27.1h0M153.1,27.1h0M160.0,27.1h0M166.8,27.1h0M173.7,27.1h0M180.6,27.1h0M8.8,33.9h0M15.7,33.9h0M22.6,33.9h0M29.4,33.9h0M36.3,33.9h0M43.2,33.9h0M50.1,33.9h0M56.9,33.9h0M63.8,33.9h0M70.7,33.9h0M77.5,33.9h0M84.4,33.9h0M91.3,33.9h0M98.1,33.9h0M105.0,33.9h0M111.9,33.9h0M118.8,33.9h0M125.6,33.9h0M132.5,33.9h0M139.4,33.9h0M146.2,33.9h0M153.1,33.9h0M160.0,33.9h0M166.8,33.9h0M173.7,33.9h0M180.6,33.9h0M8.8,40.8h0M15.7,40.8h0M22.6,40.8h0M29.4,40.8h0M36.3,40.8h0M43.2,40.8h0M50.1,40.8h0M56.9,40.8h0M63.8,40.8h0M70.7,40.8h0M77.5,40.8h0M84.4,40.8h0M91.3,40.8h0M98.1,40.8h0M105.0,40.8h0M111.9,40.8h0M118.8,40.8h0M125.6,40.8h0M132.5,40.8h0M139.4,40.8h0M146.2,40.8h0M153.1,40.8h0M160.0,40.8h0M166.8,40.8h0M173.7,40.8h0M180.6,40.8h0M8.8,47.7h0M15.7,47.7h0M22.6,47.7h0M29.4,47.7h0M36.3,47.7h0M43.2,47.7h0M50.1,47.7h0M56.9,47.7h0M63.8,47.7h0M70.7,47.7h0M77.5,47.7h0M84.4,47.7h0M91.3,47.7h0M98.1,47.7h0M105.0,47.7h0M111.9,47.7h0M118.8,47.7h0M125.6,47.7h0M132.5,47.7h0M139.4,47.7h0M146.2,47.7h0M153.1,47.7h0M160.0,47.7h0M166.8,47.7h0M173.7,47.7h0M180.6,47.7h0M8.8,54.6h0M15.7,54.6h0M22.6,54.6h0M29.4,54.6h0M36.3,54.6h0M43.2,54.6h0M50.1,54.6h0M56.9,54.6h0M63.8,54.6h0M70.7,54.6h0M77.5,54.6h0M84.4,54.6h0M91.3,54.6h0M98.1,54.6h0M105.0,54.6h0M111.9,54.6h0M118.8,54.6h0M125.6,54.6h0M132.5,54.6h0M139.4,54.6h0M146.2,54.6h0M153.1,54.6h0M160.0,54.6h0M166.8,54.6h0M173.7,54.6h0M180.6,54.6h0M8.8,61.4h0M15.7,61.4h0M22.6,61.4h0M29.4,61.4h0M36.3,61.4h0M43.2,61.4h0M50.1,61.4h0M56.9,61.4h0M63.8,61.4h0M70.7,61.4h0M77.5,61.4h0M84.4,61.4h0M91.3,61.4h0M98.1,61.4h0M105.0,61.4h0M111.9,61.4h0M118.8,61.4h0M125.6,61.4h0M132.5,61.4h0M139.4,61.4h0M146.2,61.4h0M153.1,61.4h0M160.0,61.4h0M166.8,61.4h0M173.7,61.4h0M180.6,61.4h0M8.8,68.3h0M15.7,68.3h0M22.6,68.3h0M29.4,68.3h0M36.3,68.3h0M43.2,68.3h0M50.1,68.3h0M56.9,68.3h0M63.8,68.3h0M70.7,68.3h0M77.5,68.3h0M84.4,68.3h0M91.3,68.3h0M98.1,68.3h0M105.0,68.3h0M111.9,68.3h0M118.8,68.3h0M125.6,68.3h0M132.5,68.3h0M139.4,68.3h0M146.2,68.3h0M153.1,68.3h0M160.0,68.3h0M166.8,68.3h0M173.7,68.3h0M180.6,68.3h0M8.8,75.2h0M15.7,75.2h0M22.6,75.2h0M29.4,75.2h0M36.3,75.2h0M43.2,75.2h0M50.1,75.2h0M56.9,75.2h0M63.8,75.2h0M70.7,75.2h0M77.5,75.2h0M84.4,75.2h0M91.3,75.2h0M98.1,75.2h0M105.0,75.2h0M111.9,75.2h0M118.8,75.2h0M125.6,75.2h0M132.5,75.2h0M139.4,75.2h0M146.2,75.2h0M153.1,75.2h0M160.0,75.2h0M166.8,75.2h0M173.7,75.2h0M180.6,75.2h0M8.8,82.0h0M15.7,82.0h0M22.6,82.0h0M29.4,82.0h0M36.3,82.0h0M43.2,82.0h0M50.1,82.0h0M56.9,82.0h0M63.8,82.0h0M70.7,82.0h0M77.5,82.0h0M84.4,82.0h0M91.3,82.0h0M98.1,82.0h0M105.0,82.0h0M111.9,82.0h0M118.8,82.0h0M125.6,82.0h0M132.5,82.0h0M139.4,82.0h0M146.2,82.0h0M153.1,82.0h0M160.0,82.0h0M166.8,82.0h0M173.7,82.0h0M180.6,82.0h0M8.8,88.9h0M15.7,88.9h0M22.6,88.9h0M29.4,88.9h0M36.3,88.9h0M43.2,88.9h0M50.1,88.9h0M56.9,88.9h0M63.8,88.9h0M70.7,88.9h0M77.5,88.9h0M84.4,88.9h0M91.3,88.9h0M98.1,88.9h0M105.0,88.9h0M111.9,88.9h0M118.8,88.9h0M125.6,88.9h0M132.5,88.9h0M139.4,88.9h0M146.2,88.9h0M153.1,88.9h0M160.0,88.9h0M166.8,88.9h0M173.7,88.9h0M180.6,88.9h0M8.8,95.8h0M15.7,95.8h0M22.6,95.8h0M29.4,95.8h0M36.3,95.8h0M43.2,95.8h0M50.1,95.8h0M56.9,95.8h0M63.8,95.8h0M70.7,95.8h0M77.5,95.8h0M84.4,95.8h0M91.3,95.8h0M98.1,95.8h0M105.0,95.8h0M111.9,95.8h0M118.8,95.8h0M125.6,95.8h0M132.5,95.8h0M139.4,95.8h0M146.2,95.8h0M153.1,95.8h0M160.0,95.8h0M166.8,95.8h0M173.7,95.8h0M180.6,95.8h0M8.8,102.6h0M15.7,102.6h0M22.6,102.6h0M29.4,102.6h0M36.3,102.6h0M43.2,102.6h0M50.1,102.6h0M56.9,102.6h0M63.8,102.6h0M70.7,102.6h0M77.5,102.6h0M84.4,102.6h0M91.3,102.6h0M98.1,102.6h0M105.0,102.6h0M111.9,102.6h0M118.8,102.6h0M125.6,102.6h0M132.5,102.6h0M139.4,102.6h0M146.2,102.6h0M153.1,102.6h0M160.0,102.6h0M166.8,102.6h0M173.7,102.6h0M180.6,102.6h0M8.8,109.5h0M15.7,109.5h0M22.6,109.5h0M29.4,109.5h0M36.3,109.5h0M43.2,109.5h0M50.1,109.5h0M56.9,109.5h0M63.8,109.5h0M70.7,109.5h0M77.5,109.5h0M84.4,109.5h0M91.3,109.5h0M98.1,109.5h0M105.0,109.5h0M111.9,109.5h0M118.8,109.5h0M125.6,109.5h0M132.5,109.5h0M139.4,109.5h0M146.2,109.5h0M153.1,109.5h0M160.0,109.5h0M166.8,109.5h0M173.7,109.5h0M180.6,109.5h0M8.8,116.4h0M15.7,116.4h0M22.6,116.4h0M29.4,116.4h0M36.3,116.4h0M43.2,116.4h0M50.1,116.4h0M56.9,116.4h0M63.8,116.4h0M70.7,116.4h0M77.5,116.4h0M84.4,116.4h0M91.3,116.4h0M98.1,116.4h0M105.0,116.4h0M111.9,116.4h0M118.8,116.4h0M125.6,116.4h0M132.5,116.4h0M139.4,116.4h0M146.2,116.4h0M153.1,116.4h0M160.0,116.4h0M166.8,116.4h0M173.7,116.4h0M180.6,116.4h0M8.8,123.3h0M15.7,123.3h0M22.6,123.3h0M29.4,123.3h0M36.3,123.3h0M43.2,123.3h0M50.1,123.3h0M56.9,123.3h0M63.8,123.3h0M70.7,123.3h0M77.5,123.3h0M84.4,123.3h0M91.3,123.3h0M98.1,123.3h0M105.0,123.3h0M111.9,123.3h0M118.8,123.3h0M125.6,123.3h0M132.5,123.3h0M139.4,123.3h0M146.2,123.3h0M153.1,123.3h0M160.0,123.3h0M166.8,123.3h0M173.7,123.3h0M180.6,123.3h0M8.8,130.1h0M15.7,130.1h0M22.6,130.1h0M29.4,130.1h0M36.3,130.1h0M43.2,130.1h0M50.1,130.1h0M56.9,130.1h0M63.8,130.1h0M70.7,130.1h0M77.5,130.1h0M84.4,130.1h0M91.3,130.1h0M98.1,130.1h0M105.0,130.1h0M111.9,130.1h0M118.8,130.1h0M125.6,130.1h0M132.5,130.1h0M139.4,130.1h0M146.2,130.1h0M153.1,130.1h0M160.0,130.1h0M166.8,130.1h0M173.7,130.1h0M180.6,130.1h0M8.8,137.0h0M15.7,137.0h0M22.6,137.0h0M29.4,137.0h0M36.3,137.0h0M43.2,137.0h0M50.1,137.0h0M56.9,137.0h0M63.8,137.0h0M70.7,137.0h0M77.5,137.0h0M84.4,137.0h0M91.3,137.0h0M98.1,137.0h0M105.0,137.0h0M111.9,137.0h0M118.8,137.0h0M125.6,137.0h0M132.5,137.0h0M139.4,137.0h0M146.2,137.0h0M153.1,137.0h0M160.0,137.0h0M166.8,137.0h0M173.7,137.0h0M180.6,137.0h0M8.8,143.9h0M15.7,143.9h0M22.6,143.9h0M29.4,143.9h0M36.3,143.9h0M43.2,143.9h0M50.1,143.9h0M56.9,143.9h0M63.8,143.9h0M70.7,143.9h0M77.5,143.9h0M84.4,143.9h0M91.3,143.9h0M98.1,143.9h0M105.0,143.9h0M111.9,143.9h0M118.8,143.9h0M125.6,143.9h0M132.5,143.9h0M139.4,143.9h0M146.2,143.9h0M153.1,143.9h0M160.0,143.9h0M166.8,143.9h0M173.7,143.9h0M180.6,143.9h0M8.8,150.7h0M15.7,150.7h0M22.6,150.7h0M29.4,150.7h0M36.3,150.7h0M43.2,150.7h0M50.1,150.7h0M56.9,150.7h0M63.8,150.7h0M70.7,150.7h0M77.5,150.7h0M84.4,150.7h0M91.3,150.7h0M98.1,150.7h0M105.0,150.7h0M111.9,150.7h0M118.8,150.7h0M125.6,150.7h0M132.5,150.7h0M139.4,150.7h0M146.2,150.7h0M153.1,150.7h0M160.0,150.7h0M166.8,150.7h0M173.7,150.7h0M180.6,150.7h0" stroke="#3a3a1a" stroke-opacity="0.6" stroke-width="1.5" stroke-linecap="round" fill="none"/></g>
<path d="M37.9,80 L39.5,17.5 Q39.5,11.6 45.5,11.5 L83.6,12 L116.4,12.8 L144.7,14.2 Q149.5,14.6 152,17.5 L175.3,43.2 Q176.3,44.4 176.5,47.5 L177.4,66 L178.3,88 L178.1,98 Q178,105 175.5,108.8 Q173,111.3 169,111 Q163,110.3 157.3,108.2 Q150,106.4 140.9,106.3 L124.5,106.2 Q118,106.6 112.3,109.5 Q108.5,111.8 105.9,114.6 L99.5,120.4 L93.2,126.7 L86.8,132.5 L80.5,137.5 L75.4,142.6 Q72.5,145.5 67.7,147.1 Q61,148.3 53.3,148 Q45.7,147 38,144.7 Q34,143 30.4,140.9 L22.8,135.5 L15.2,127.9 L10.7,121.9 L6.8,115.8 Q4.3,111.5 9.1,107.4 L15.2,102.8 L22.8,97.5 L30.4,91.4 L35.8,86.1 Q37.6,83.5 37.9,80 Z" fill="none" stroke="#ee3c22" stroke-width="0.9"/>
</g>
<g transform="translate(0,320.7)">
<text class="t" x="111.3" y="127.3">Figure Legends</text>
<text class="s" x="111.5" y="138.2">Interpolation Point</text>
<circle cx="169.4" cy="137.1" r="1.15" fill="#1a2a70"/>
<text class="s" x="111.5" y="150.6">PM 1</text>
<text class="s" x="111.5" y="157.6">Concentration</text>
<text class="s" x="111.5" y="165.6">(µg/m³)</text>
<rect x="154.2" y="147.4" width="5.6" height="16.2" fill="url(#lg)"/>
<text class="n" x="163.8" y="151.4">66.63</text>
<text class="n" x="163.8" y="167.3">76.35</text>
</g>
<g transform="translate(180.5,321)">
<g clip-path="url(#sh)"><g filter="url(#bl)" shape-rendering="crispEdges">
<rect x="0" y="5" width="185" height="150" fill="#ffe000"/>
<path fill="rgb(8,184,8)" d="M80.92,64.81h20.71v6.97h-20.71zM67.18,71.68h6.97v6.97h-6.97zM80.92,71.68h27.58v6.97h-27.58zM60.31,78.55h55.06v6.97h-55.06zM170.23,78.55h13.84v6.97h-13.84zM67.18,85.42h55.06v6.97h-55.06zM156.49,85.42h27.58v6.97h-27.58zM74.05,92.29h55.06v6.97h-55.06zM149.62,92.29h34.45v6.97h-34.45zM74.05,99.16h55.06v6.97h-55.06zM142.75,99.16h41.32v6.97h-41.32zM74.05,106.03h110.02v6.97h-110.02zM94.66,112.90h89.41v6.97h-89.41zM94.66,119.77h89.41v6.97h-89.41z"/>
<path fill="rgb(58,198,8)" d="M149.62,30.46h6.97v6.97h-6.97zM80.92,51.07h6.97v6.97h-6.97zM67.18,57.94h6.97v6.97h-6.97zM80.92,57.94h6.97v6.97h-6.97zM67.18,64.81h6.97v6.97h-6.97zM60.31,71.68h6.97v6.97h-6.97zM74.05,71.68h6.97v6.97h-6.97zM156.49,78.55h13.84v6.97h-13.84zM135.88,99.16h6.97v6.97h-6.97zM5.35,112.90h20.71v6.97h-20.71zM87.79,112.90h6.97v6.97h-6.97zM5.35,119.77h34.45v6.97h-34.45zM74.05,119.77h20.71v6.97h-20.71zM5.35,126.64h13.84v6.97h-13.84zM67.18,126.64h116.89v6.97h-116.89zM67.18,133.51h116.89v6.97h-116.89z"/>
<path fill="rgb(126,217,8)" d="M53.44,16.72h6.97v6.97h-6.97zM149.62,16.72h34.45v6.97h-34.45zM46.57,23.59h13.84v6.97h-13.84zM94.66,23.59h6.97v6.97h-6.97zM149.62,23.59h34.45v6.97h-34.45zM135.88,30.46h13.84v6.97h-13.84zM156.49,30.46h27.58v6.97h-27.58zM87.79,37.33h13.84v6.97h-13.84zM149.62,37.33h6.97v6.97h-6.97zM67.18,51.07h13.84v6.97h-13.84zM87.79,51.07h6.97v6.97h-6.97zM74.05,57.94h6.97v6.97h-6.97zM87.79,57.94h6.97v6.97h-6.97zM60.31,64.81h6.97v6.97h-6.97zM74.05,64.81h6.97v6.97h-6.97zM101.53,64.81h6.97v6.97h-6.97zM108.40,71.68h6.97v6.97h-6.97zM115.27,78.55h6.97v6.97h-6.97zM60.31,85.42h6.97v6.97h-6.97zM122.14,85.42h6.97v6.97h-6.97zM67.18,92.29h6.97v6.97h-6.97zM129.01,92.29h6.97v6.97h-6.97zM142.75,92.29h6.97v6.97h-6.97zM67.18,99.16h6.97v6.97h-6.97zM129.01,99.16h6.97v6.97h-6.97zM67.18,106.03h6.97v6.97h-6.97zM25.96,112.90h6.97v6.97h-6.97zM39.70,119.77h6.97v6.97h-6.97zM67.18,119.77h6.97v6.97h-6.97zM19.09,126.64h6.97v6.97h-6.97zM67.18,140.38h116.89v6.97h-116.89z"/>
<path fill="rgb(200,238,8)" d="M5.35,9.85h55.06v6.97h-55.06zM101.53,9.85h13.84v6.97h-13.84zM135.88,9.85h48.19v6.97h-48.19zM5.35,16.72h41.32v6.97h-41.32zM101.53,16.72h13.84v6.97h-13.84zM135.88,16.72h13.84v6.97h-13.84zM142.75,23.59h6.97v6.97h-6.97zM163.36,37.33h6.97v6.97h-6.97zM60.31,57.94h6.97v6.97h-6.97zM129.01,85.42h6.97v6.97h-6.97zM5.35,106.03h20.71v6.97h-20.71zM39.70,106.03h6.97v6.97h-6.97zM32.83,112.90h13.84v6.97h-13.84zM74.05,112.90h13.84v6.97h-13.84zM60.31,126.64h6.97v6.97h-6.97zM60.31,133.51h6.97v6.97h-6.97zM60.31,140.38h6.97v6.97h-6.97z"/>
<path fill="rgb(255,255,0)" d="M129.01,9.85h6.97v6.97h-6.97zM46.57,16.72h6.97v6.97h-6.97zM129.01,16.72h6.97v6.97h-6.97zM5.35,23.59h41.32v6.97h-41.32zM87.79,23.59h6.97v6.97h-6.97zM129.01,23.59h13.84v6.97h-13.84zM5.35,30.46h48.19v6.97h-48.19zM80.92,30.46h6.97v6.97h-6.97zM94.66,30.46h6.97v6.97h-6.97zM129.01,30.46h6.97v6.97h-6.97zM5.35,37.33h55.06v6.97h-55.06zM80.92,37.33h6.97v6.97h-6.97zM135.88,37.33h6.97v6.97h-6.97zM156.49,37.33h6.97v6.97h-6.97zM170.23,37.33h13.84v6.97h-13.84zM46.57,44.20h6.97v6.97h-6.97zM80.92,44.20h13.84v6.97h-13.84zM129.01,44.20h6.97v6.97h-6.97zM60.31,51.07h6.97v6.97h-6.97zM53.44,57.94h6.97v6.97h-6.97zM53.44,64.81h6.97v6.97h-6.97zM108.40,64.81h6.97v6.97h-6.97zM170.23,64.81h13.84v6.97h-13.84zM53.44,71.68h6.97v6.97h-6.97zM53.44,78.55h6.97v6.97h-6.97zM122.14,78.55h6.97v6.97h-6.97zM53.44,85.42h6.97v6.97h-6.97zM149.62,85.42h6.97v6.97h-6.97zM60.31,92.29h6.97v6.97h-6.97zM135.88,92.29h6.97v6.97h-6.97zM32.83,99.16h13.84v6.97h-13.84zM60.31,99.16h6.97v6.97h-6.97zM25.96,106.03h6.97v6.97h-6.97zM46.57,106.03h6.97v6.97h-6.97zM60.31,106.03h6.97v6.97h-6.97zM46.57,112.90h6.97v6.97h-6.97zM60.31,112.90h13.84v6.97h-13.84zM46.57,119.77h20.71v6.97h-20.71zM25.96,126.64h20.71v6.97h-20.71zM39.70,133.51h20.71v6.97h-20.71zM39.70,140.38h20.71v6.97h-20.71zM5.35,147.25h178.72v6.97h-178.72z"/>
<path fill="rgb(255,196,0)" d="M94.66,9.85h6.97v6.97h-6.97zM122.14,9.85h6.97v6.97h-6.97zM94.66,16.72h6.97v6.97h-6.97zM122.14,16.72h6.97v6.97h-6.97zM122.14,23.59h6.97v6.97h-6.97zM60.31,30.46h6.97v6.97h-6.97zM74.05,30.46h6.97v6.97h-6.97zM87.79,30.46h6.97v6.97h-6.97zM108.40,30.46h13.84v6.97h-13.84zM74.05,37.33h6.97v6.97h-6.97zM108.40,37.33h6.97v6.97h-6.97zM129.01,37.33h6.97v6.97h-6.97zM142.75,37.33h6.97v6.97h-6.97zM5.35,44.20h41.32v6.97h-41.32zM53.44,44.20h6.97v6.97h-6.97zM74.05,44.20h6.97v6.97h-6.97zM94.66,44.20h6.97v6.97h-6.97zM135.88,44.20h6.97v6.97h-6.97zM149.62,44.20h20.71v6.97h-20.71zM94.66,51.07h6.97v6.97h-6.97zM94.66,57.94h6.97v6.97h-6.97zM115.27,64.81h6.97v6.97h-6.97zM115.27,71.68h6.97v6.97h-6.97zM163.36,71.68h20.71v6.97h-20.71zM129.01,78.55h6.97v6.97h-6.97zM149.62,78.55h6.97v6.97h-6.97zM5.35,99.16h27.58v6.97h-27.58zM46.57,99.16h6.97v6.97h-6.97zM32.83,106.03h6.97v6.97h-6.97zM32.83,133.51h6.97v6.97h-6.97zM5.35,140.38h34.45v6.97h-34.45z"/>
<path fill="rgb(255,140,0)" d="M60.31,9.85h6.97v6.97h-6.97zM87.79,9.85h6.97v6.97h-6.97zM60.31,16.72h6.97v6.97h-6.97zM87.79,16.72h6.97v6.97h-6.97zM67.18,23.59h6.97v6.97h-6.97zM80.92,23.59h6.97v6.97h-6.97zM101.53,23.59h20.71v6.97h-20.71zM53.44,30.46h6.97v6.97h-6.97zM101.53,30.46h6.97v6.97h-6.97zM122.14,30.46h6.97v6.97h-6.97zM67.18,37.33h6.97v6.97h-6.97zM101.53,37.33h6.97v6.97h-6.97zM101.53,44.20h13.84v6.97h-13.84zM142.75,44.20h6.97v6.97h-6.97zM170.23,44.20h13.84v6.97h-13.84zM53.44,51.07h6.97v6.97h-6.97zM170.23,51.07h13.84v6.97h-13.84zM46.57,57.94h6.97v6.97h-6.97zM170.23,57.94h13.84v6.97h-13.84zM46.57,64.81h6.97v6.97h-6.97zM163.36,64.81h6.97v6.97h-6.97zM46.57,71.68h6.97v6.97h-6.97zM122.14,71.68h6.97v6.97h-6.97zM46.57,78.55h6.97v6.97h-6.97zM46.57,85.42h6.97v6.97h-6.97zM135.88,85.42h6.97v6.97h-6.97zM5.35,92.29h41.32v6.97h-41.32zM46.57,126.64h13.84v6.97h-13.84zM5.35,133.51h27.58v6.97h-27.58z"/>
<path fill="rgb(255,66,0)" d="M67.18,9.85h20.71v6.97h-20.71zM115.27,9.85h6.97v6.97h-6.97zM67.18,16.72h20.71v6.97h-20.71zM115.27,16.72h6.97v6.97h-6.97zM60.31,23.59h6.97v6.97h-6.97zM74.05,23.59h6.97v6.97h-6.97zM67.18,30.46h6.97v6.97h-6.97zM60.31,37.33h6.97v6.97h-6.97zM115.27,37.33h13.84v6.97h-13.84zM60.31,44.20h13.84v6.97h-13.84zM115.27,44.20h13.84v6.97h-13.84zM101.53,51.07h13.84v6.97h-13.84zM149.62,51.07h6.97v6.97h-6.97zM163.36,51.07h6.97v6.97h-6.97zM101.53,57.94h13.84v6.97h-13.84zM163.36,57.94h6.97v6.97h-6.97zM122.14,64.81h6.97v6.97h-6.97zM156.49,71.68h6.97v6.97h-6.97zM135.88,78.55h13.84v6.97h-13.84zM142.75,85.42h6.97v6.97h-6.97zM46.57,92.29h13.84v6.97h-13.84zM53.44,99.16h6.97v6.97h-6.97zM53.44,106.03h6.97v6.97h-6.97zM53.44,112.90h6.97v6.97h-6.97z"/>
<path fill="rgb(255,18,0)" d="M5.35,51.07h48.19v6.97h-48.19zM115.27,51.07h34.45v6.97h-34.45zM156.49,51.07h6.97v6.97h-6.97zM5.35,57.94h41.32v6.97h-41.32zM115.27,57.94h48.19v6.97h-48.19zM5.35,64.81h41.32v6.97h-41.32zM129.01,64.81h34.45v6.97h-34.45zM5.35,71.68h41.32v6.97h-41.32zM129.01,71.68h27.58v6.97h-27.58zM5.35,78.55h41.32v6.97h-41.32zM5.35,85.42h41.32v6.97h-41.32z"/>
</g></g>
<g clip-path="url(#sh)"><path d="M8.8,20.2h0M15.7,20.2h0M22.6,20.2h0M29.4,20.2h0M36.3,20.2h0M43.2,20.2h0M50.1,20.2h0M56.9,20.2h0M63.8,20.2h0M70.7,20.2h0M77.5,20.2h0M84.4,20.2h0M91.3,20.2h0M98.1,20.2h0M105.0,20.2h0M111.9,20.2h0M118.8,20.2h0M125.6,20.2h0M132.5,20.2h0M139.4,20.2h0M146.2,20.2h0M153.1,20.2h0M160.0,20.2h0M166.8,20.2h0M173.7,20.2h0M180.6,20.2h0M8.8,27.1h0M15.7,27.1h0M22.6,27.1h0M29.4,27.1h0M36.3,27.1h0M43.2,27.1h0M50.1,27.1h0M56.9,27.1h0M63.8,27.1h0M70.7,27.1h0M77.5,27.1h0M84.4,27.1h0M91.3,27.1h0M98.1,27.1h0M105.0,27.1h0M111.9,27.1h0M118.8,27.1h0M125.6,27.1h0M132.5,27.1h0M139.4,27.1h0M146.2,27.1h0M153.1,27.1h0M160.0,27.1h0M166.8,27.1h0M173.7,27.1h0M180.6,27.1h0M8.8,33.9h0M15.7,33.9h0M22.6,33.9h0M29.4,33.9h0M36.3,33.9h0M43.2,33.9h0M50.1,33.9h0M56.9,33.9h0M63.8,33.9h0M70.7,33.9h0M77.5,33.9h0M84.4,33.9h0M91.3,33.9h0M98.1,33.9h0M105.0,33.9h0M111.9,33.9h0M118.8,33.9h0M125.6,33.9h0M132.5,33.9h0M139.4,33.9h0M146.2,33.9h0M153.1,33.9h0M160.0,33.9h0M166.8,33.9h0M173.7,33.9h0M180.6,33.9h0M8.8,40.8h0M15.7,40.8h0M22.6,40.8h0M29.4,40.8h0M36.3,40.8h0M43.2,40.8h0M50.1,40.8h0M56.9,40.8h0M63.8,40.8h0M70.7,40.8h0M77.5,40.8h0M84.4,40.8h0M91.3,40.8h0M98.1,40.8h0M105.0,40.8h0M111.9,40.8h0M118.8,40.8h0M125.6,40.8h0M132.5,40.8h0M139.4,40.8h0M146.2,40.8h0M153.1,40.8h0M160.0,40.8h0M166.8,40.8h0M173.7,40.8h0M180.6,40.8h0M8.8,47.7h0M15.7,47.7h0M22.6,47.7h0M29.4,47.7h0M36.3,47.7h0M43.2,47.7h0M50.1,47.7h0M56.9,47.7h0M63.8,47.7h0M70.7,47.7h0M77.5,47.7h0M84.4,47.7h0M91.3,47.7h0M98.1,47.7h0M105.0,47.7h0M111.9,47.7h0M118.8,47.7h0M125.6,47.7h0M132.5,47.7h0M139.4,47.7h0M146.2,47.7h0M153.1,47.7h0M160.0,47.7h0M166.8,47.7h0M173.7,47.7h0M180.6,47.7h0M8.8,54.6h0M15.7,54.6h0M22.6,54.6h0M29.4,54.6h0M36.3,54.6h0M43.2,54.6h0M50.1,54.6h0M56.9,54.6h0M63.8,54.6h0M70.7,54.6h0M77.5,54.6h0M84.4,54.6h0M91.3,54.6h0M98.1,54.6h0M105.0,54.6h0M111.9,54.6h0M118.8,54.6h0M125.6,54.6h0M132.5,54.6h0M139.4,54.6h0M146.2,54.6h0M153.1,54.6h0M160.0,54.6h0M166.8,54.6h0M173.7,54.6h0M180.6,54.6h0M8.8,61.4h0M15.7,61.4h0M22.6,61.4h0M29.4,61.4h0M36.3,61.4h0M43.2,61.4h0M50.1,61.4h0M56.9,61.4h0M63.8,61.4h0M70.7,61.4h0M77.5,61.4h0M84.4,61.4h0M91.3,61.4h0M98.1,61.4h0M105.0,61.4h0M111.9,61.4h0M118.8,61.4h0M125.6,61.4h0M132.5,61.4h0M139.4,61.4h0M146.2,61.4h0M153.1,61.4h0M160.0,61.4h0M166.8,61.4h0M173.7,61.4h0M180.6,61.4h0M8.8,68.3h0M15.7,68.3h0M22.6,68.3h0M29.4,68.3h0M36.3,68.3h0M43.2,68.3h0M50.1,68.3h0M56.9,68.3h0M63.8,68.3h0M70.7,68.3h0M77.5,68.3h0M84.4,68.3h0M91.3,68.3h0M98.1,68.3h0M105.0,68.3h0M111.9,68.3h0M118.8,68.3h0M125.6,68.3h0M132.5,68.3h0M139.4,68.3h0M146.2,68.3h0M153.1,68.3h0M160.0,68.3h0M166.8,68.3h0M173.7,68.3h0M180.6,68.3h0M8.8,75.2h0M15.7,75.2h0M22.6,75.2h0M29.4,75.2h0M36.3,75.2h0M43.2,75.2h0M50.1,75.2h0M56.9,75.2h0M63.8,75.2h0M70.7,75.2h0M77.5,75.2h0M84.4,75.2h0M91.3,75.2h0M98.1,75.2h0M105.0,75.2h0M111.9,75.2h0M118.8,75.2h0M125.6,75.2h0M132.5,75.2h0M139.4,75.2h0M146.2,75.2h0M153.1,75.2h0M160.0,75.2h0M166.8,75.2h0M173.7,75.2h0M180.6,75.2h0M8.8,82.0h0M15.7,82.0h0M22.6,82.0h0M29.4,82.0h0M36.3,82.0h0M43.2,82.0h0M50.1,82.0h0M56.9,82.0h0M63.8,82.0h0M70.7,82.0h0M77.5,82.0h0M84.4,82.0h0M91.3,82.0h0M98.1,82.0h0M105.0,82.0h0M111.9,82.0h0M118.8,82.0h0M125.6,82.0h0M132.5,82.0h0M139.4,82.0h0M146.2,82.0h0M153.1,82.0h0M160.0,82.0h0M166.8,82.0h0M173.7,82.0h0M180.6,82.0h0M8.8,88.9h0M15.7,88.9h0M22.6,88.9h0M29.4,88.9h0M36.3,88.9h0M43.2,88.9h0M50.1,88.9h0M56.9,88.9h0M63.8,88.9h0M70.7,88.9h0M77.5,88.9h0M84.4,88.9h0M91.3,88.9h0M98.1,88.9h0M105.0,88.9h0M111.9,88.9h0M118.8,88.9h0M125.6,88.9h0M132.5,88.9h0M139.4,88.9h0M146.2,88.9h0M153.1,88.9h0M160.0,88.9h0M166.8,88.9h0M173.7,88.9h0M180.6,88.9h0M8.8,95.8h0M15.7,95.8h0M22.6,95.8h0M29.4,95.8h0M36.3,95.8h0M43.2,95.8h0M50.1,95.8h0M56.9,95.8h0M63.8,95.8h0M70.7,95.8h0M77.5,95.8h0M84.4,95.8h0M91.3,95.8h0M98.1,95.8h0M105.0,95.8h0M111.9,95.8h0M118.8,95.8h0M125.6,95.8h0M132.5,95.8h0M139.4,95.8h0M146.2,95.8h0M153.1,95.8h0M160.0,95.8h0M166.8,95.8h0M173.7,95.8h0M180.6,95.8h0M8.8,102.6h0M15.7,102.6h0M22.6,102.6h0M29.4,102.6h0M36.3,102.6h0M43.2,102.6h0M50.1,102.6h0M56.9,102.6h0M63.8,102.6h0M70.7,102.6h0M77.5,102.6h0M84.4,102.6h0M91.3,102.6h0M98.1,102.6h0M105.0,102.6h0M111.9,102.6h0M118.8,102.6h0M125.6,102.6h0M132.5,102.6h0M139.4,102.6h0M146.2,102.6h0M153.1,102.6h0M160.0,102.6h0M166.8,102.6h0M173.7,102.6h0M180.6,102.6h0M8.8,109.5h0M15.7,109.5h0M22.6,109.5h0M29.4,109.5h0M36.3,109.5h0M43.2,109.5h0M50.1,109.5h0M56.9,109.5h0M63.8,109.5h0M70.7,109.5h0M77.5,109.5h0M84.4,109.5h0M91.3,109.5h0M98.1,109.5h0M105.0,109.5h0M111.9,109.5h0M118.8,109.5h0M125.6,109.5h0M132.5,109.5h0M139.4,109.5h0M146.2,109.5h0M153.1,109.5h0M160.0,109.5h0M166.8,109.5h0M173.7,109.5h0M180.6,109.5h0M8.8,116.4h0M15.7,116.4h0M22.6,116.4h0M29.4,116.4h0M36.3,116.4h0M43.2,116.4h0M50.1,116.4h0M56.9,116.4h0M63.8,116.4h0M70.7,116.4h0M77.5,116.4h0M84.4,116.4h0M91.3,116.4h0M98.1,116.4h0M105.0,116.4h0M111.9,116.4h0M118.8,116.4h0M125.6,116.4h0M132.5,116.4h0M139.4,116.4h0M146.2,116.4h0M153.1,116.4h0M160.0,116.4h0M166.8,116.4h0M173.7,116.4h0M180.6,116.4h0M8.8,123.3h0M15.7,123.3h0M22.6,123.3h0M29.4,123.3h0M36.3,123.3h0M43.2,123.3h0M50.1,123.3h0M56.9,123.3h0M63.8,123.3h0M70.7,123.3h0M77.5,123.3h0M84.4,123.3h0M91.3,123.3h0M98.1,123.3h0M105.0,123.3h0M111.9,123.3h0M118.8,123.3h0M125.6,123.3h0M132.5,123.3h0M139.4,123.3h0M146.2,123.3h0M153.1,123.3h0M160.0,123.3h0M166.8,123.3h0M173.7,123.3h0M180.6,123.3h0M8.8,130.1h0M15.7,130.1h0M22.6,130.1h0M29.4,130.1h0M36.3,130.1h0M43.2,130.1h0M50.1,130.1h0M56.9,130.1h0M63.8,130.1h0M70.7,130.1h0M77.5,130.1h0M84.4,130.1h0M91.3,130.1h0M98.1,130.1h0M105.0,130.1h0M111.9,130.1h0M118.8,130.1h0M125.6,130.1h0M132.5,130.1h0M139.4,130.1h0M146.2,130.1h0M153.1,130.1h0M160.0,130.1h0M166.8,130.1h0M173.7,130.1h0M180.6,130.1h0M8.8,137.0h0M15.7,137.0h0M22.6,137.0h0M29.4,137.0h0M36.3,137.0h0M43.2,137.0h0M50.1,137.0h0M56.9,137.0h0M63.8,137.0h0M70.7,137.0h0M77.5,137.0h0M84.4,137.0h0M91.3,137.0h0M98.1,137.0h0M105.0,137.0h0M111.9,137.0h0M118.8,137.0h0M125.6,137.0h0M132.5,137.0h0M139.4,137.0h0M146.2,137.0h0M153.1,137.0h0M160.0,137.0h0M166.8,137.0h0M173.7,137.0h0M180.6,137.0h0M8.8,143.9h0M15.7,143.9h0M22.6,143.9h0M29.4,143.9h0M36.3,143.9h0M43.2,143.9h0M50.1,143.9h0M56.9,143.9h0M63.8,143.9h0M70.7,143.9h0M77.5,143.9h0M84.4,143.9h0M91.3,143.9h0M98.1,143.9h0M105.0,143.9h0M111.9,143.9h0M118.8,143.9h0M125.6,143.9h0M132.5,143.9h0M139.4,143.9h0M146.2,143.9h0M153.1,143.9h0M160.0,143.9h0M166.8,143.9h0M173.7,143.9h0M180.6,143.9h0M8.8,150.7h0M15.7,150.7h0M22.6,150.7h0M29.4,150.7h0M36.3,150.7h0M43.2,150.7h0M50.1,150.7h0M56.9,150.7h0M63.8,150.7h0M70.7,150.7h0M77.5,150.7h0M84.4,150.7h0M91.3,150.7h0M98.1,150.7h0M105.0,150.7h0M111.9,150.7h0M118.8,150.7h0M125.6,150.7h0M132.5,150.7h0M139.4,150.7h0M146.2,150.7h0M153.1,150.7h0M160.0,150.7h0M166.8,150.7h0M173.7,150.7h0M180.6,150.7h0" stroke="#3a3a1a" stroke-opacity="0.6" stroke-width="1.5" stroke-linecap="round" fill="none"/></g>
<path d="M37.9,80 L39.5,17.5 Q39.5,11.6 45.5,11.5 L83.6,12 L116.4,12.8 L144.7,14.2 Q149.5,14.6 152,17.5 L175.3,43.2 Q176.3,44.4 176.5,47.5 L177.4,66 L178.3,88 L178.1,98 Q178,105 175.5,108.8 Q173,111.3 169,111 Q163,110.3 157.3,108.2 Q150,106.4 140.9,106.3 L124.5,106.2 Q118,106.6 112.3,109.5 Q108.5,111.8 105.9,114.6 L99.5,120.4 L93.2,126.7 L86.8,132.5 L80.5,137.5 L75.4,142.6 Q72.5,145.5 67.7,147.1 Q61,148.3 53.3,148 Q45.7,147 38,144.7 Q34,143 30.4,140.9 L22.8,135.5 L15.2,127.9 L10.7,121.9 L6.8,115.8 Q4.3,111.5 9.1,107.4 L15.2,102.8 L22.8,97.5 L30.4,91.4 L35.8,86.1 Q37.6,83.5 37.9,80 Z" fill="none" stroke="#ee3c22" stroke-width="0.9"/>
</g>
<g transform="translate(181,320.7)">
<text class="t" x="111.3" y="127.3">Figure Legends</text>
<text class="s" x="111.5" y="138.2">Interpolation Point</text>
<circle cx="169.4" cy="137.1" r="1.15" fill="#1a2a70"/>
<text class="s" x="111.5" y="150.6">PM 2.5</text>
<text class="s" x="111.5" y="157.6">Concentration</text>
<text class="s" x="111.5" y="165.6">(µg/m³)</text>
<rect x="154.2" y="147.4" width="5.6" height="16.2" fill="url(#lg)"/>
<text class="n" x="163.8" y="151.4">109.92</text>
<text class="n" x="163.8" y="167.3">125.19</text>
</g>
<g transform="translate(360.7,321.3)">
<g clip-path="url(#sh3)"><g filter="url(#bl)" shape-rendering="crispEdges">
<rect x="0" y="5" width="185" height="150" fill="#ffe000"/>
<path fill="rgb(8,184,8)" d="M80.92,64.81h20.71v6.97h-20.71zM67.18,71.68h41.32v6.97h-41.32zM60.31,78.55h55.06v6.97h-55.06zM163.36,78.55h20.71v6.97h-20.71zM67.18,85.42h55.06v6.97h-55.06zM156.49,85.42h27.58v6.97h-27.58zM74.05,92.29h55.06v6.97h-55.06zM156.49,92.29h27.58v6.97h-27.58zM74.05,99.16h48.19v6.97h-48.19zM149.62,99.16h34.45v6.97h-34.45zM74.05,106.03h110.02v6.97h-110.02zM87.79,112.90h96.28v6.97h-96.28zM94.66,119.77h89.41v6.97h-89.41z"/>
<path fill="rgb(58,198,8)" d="M67.18,51.07h6.97v6.97h-6.97zM67.18,57.94h6.97v6.97h-6.97zM67.18,64.81h13.84v6.97h-13.84zM60.31,71.68h6.97v6.97h-6.97zM108.40,71.68h6.97v6.97h-6.97zM115.27,78.55h6.97v6.97h-6.97zM156.49,78.55h6.97v6.97h-6.97zM60.31,85.42h6.97v6.97h-6.97zM122.14,85.42h13.84v6.97h-13.84zM67.18,92.29h6.97v6.97h-6.97zM149.62,92.29h6.97v6.97h-6.97zM67.18,99.16h6.97v6.97h-6.97zM122.14,99.16h6.97v6.97h-6.97zM135.88,99.16h6.97v6.97h-6.97z"/>
<path fill="rgb(126,217,8)" d="M5.35,9.85h41.32v6.97h-41.32zM5.35,16.72h41.32v6.97h-41.32zM53.44,16.72h6.97v6.97h-6.97zM46.57,23.59h13.84v6.97h-13.84zM156.49,23.59h27.58v6.97h-27.58zM46.57,30.46h6.97v6.97h-6.97zM135.88,30.46h6.97v6.97h-6.97zM149.62,30.46h13.84v6.97h-13.84zM74.05,51.07h13.84v6.97h-13.84zM74.05,57.94h13.84v6.97h-13.84zM60.31,64.81h6.97v6.97h-6.97zM101.53,64.81h6.97v6.97h-6.97zM53.44,71.68h6.97v6.97h-6.97zM170.23,71.68h13.84v6.97h-13.84zM53.44,78.55h6.97v6.97h-6.97zM122.14,78.55h6.97v6.97h-6.97zM149.62,85.42h6.97v6.97h-6.97zM129.01,92.29h6.97v6.97h-6.97zM142.75,92.29h6.97v6.97h-6.97zM129.01,99.16h6.97v6.97h-6.97zM142.75,99.16h6.97v6.97h-6.97zM5.35,106.03h6.97v6.97h-6.97zM67.18,106.03h6.97v6.97h-6.97zM5.35,112.90h27.58v6.97h-27.58zM5.35,119.77h34.45v6.97h-34.45zM74.05,119.77h20.71v6.97h-20.71zM80.92,126.64h103.15v6.97h-103.15z"/>
<path fill="rgb(200,238,8)" d="M149.62,16.72h34.45v6.97h-34.45zM5.35,23.59h41.32v6.97h-41.32zM142.75,23.59h13.84v6.97h-13.84zM5.35,30.46h41.32v6.97h-41.32zM142.75,30.46h6.97v6.97h-6.97zM163.36,30.46h20.71v6.97h-20.71zM46.57,37.33h6.97v6.97h-6.97zM149.62,37.33h6.97v6.97h-6.97zM163.36,37.33h20.71v6.97h-20.71zM46.57,44.20h6.97v6.97h-6.97zM60.31,51.07h6.97v6.97h-6.97zM87.79,51.07h6.97v6.97h-6.97zM53.44,57.94h13.84v6.97h-13.84zM53.44,64.81h6.97v6.97h-6.97zM108.40,64.81h13.84v6.97h-13.84zM170.23,64.81h13.84v6.97h-13.84zM115.27,71.68h6.97v6.97h-6.97zM163.36,71.68h6.97v6.97h-6.97zM129.01,78.55h6.97v6.97h-6.97zM53.44,85.42h6.97v6.97h-6.97zM135.88,92.29h6.97v6.97h-6.97zM60.31,99.16h6.97v6.97h-6.97zM12.22,106.03h6.97v6.97h-6.97zM39.70,106.03h6.97v6.97h-6.97zM39.70,112.90h6.97v6.97h-6.97zM74.05,112.90h13.84v6.97h-13.84zM67.18,119.77h6.97v6.97h-6.97zM5.35,126.64h13.84v6.97h-13.84zM74.05,126.64h6.97v6.97h-6.97zM74.05,133.51h110.02v6.97h-110.02z"/>
<path fill="rgb(255,255,0)" d="M46.57,9.85h13.84v6.97h-13.84zM101.53,9.85h13.84v6.97h-13.84zM129.01,9.85h55.06v6.97h-55.06zM46.57,16.72h6.97v6.97h-6.97zM101.53,16.72h13.84v6.97h-13.84zM129.01,16.72h20.71v6.97h-20.71zM94.66,23.59h6.97v6.97h-6.97zM129.01,23.59h13.84v6.97h-13.84zM80.92,30.46h6.97v6.97h-6.97zM5.35,37.33h41.32v6.97h-41.32zM53.44,37.33h6.97v6.97h-6.97zM87.79,37.33h13.84v6.97h-13.84zM156.49,37.33h6.97v6.97h-6.97zM5.35,44.20h41.32v6.97h-41.32zM53.44,44.20h6.97v6.97h-6.97zM163.36,44.20h6.97v6.97h-6.97zM87.79,57.94h6.97v6.97h-6.97zM122.14,64.81h6.97v6.97h-6.97zM46.57,71.68h6.97v6.97h-6.97zM122.14,71.68h6.97v6.97h-6.97zM46.57,78.55h6.97v6.97h-6.97zM46.57,85.42h6.97v6.97h-6.97zM135.88,85.42h6.97v6.97h-6.97zM32.83,92.29h13.84v6.97h-13.84zM53.44,92.29h13.84v6.97h-13.84zM32.83,99.16h27.58v6.97h-27.58zM19.09,106.03h13.84v6.97h-13.84zM46.57,106.03h6.97v6.97h-6.97zM60.31,106.03h6.97v6.97h-6.97zM32.83,112.90h6.97v6.97h-6.97zM46.57,112.90h6.97v6.97h-6.97zM60.31,112.90h13.84v6.97h-13.84zM39.70,119.77h6.97v6.97h-6.97zM60.31,119.77h6.97v6.97h-6.97zM19.09,126.64h6.97v6.97h-6.97zM60.31,126.64h13.84v6.97h-13.84zM60.31,133.51h13.84v6.97h-13.84zM60.31,140.38h123.76v6.97h-123.76z"/>
<path fill="rgb(255,196,0)" d="M122.14,9.85h6.97v6.97h-6.97zM94.66,16.72h6.97v6.97h-6.97zM122.14,16.72h6.97v6.97h-6.97zM87.79,23.59h6.97v6.97h-6.97zM122.14,23.59h6.97v6.97h-6.97zM53.44,30.46h13.84v6.97h-13.84zM129.01,30.46h6.97v6.97h-6.97zM80.92,37.33h6.97v6.97h-6.97zM135.88,37.33h6.97v6.97h-6.97zM80.92,44.20h20.71v6.97h-20.71zM129.01,44.20h6.97v6.97h-6.97zM156.49,44.20h6.97v6.97h-6.97zM170.23,44.20h13.84v6.97h-13.84zM53.44,51.07h6.97v6.97h-6.97zM170.23,51.07h13.84v6.97h-13.84zM46.57,57.94h6.97v6.97h-6.97zM170.23,57.94h13.84v6.97h-13.84zM46.57,64.81h6.97v6.97h-6.97zM163.36,64.81h6.97v6.97h-6.97zM156.49,71.68h6.97v6.97h-6.97zM149.62,78.55h6.97v6.97h-6.97zM5.35,92.29h27.58v6.97h-27.58zM46.57,92.29h6.97v6.97h-6.97zM5.35,99.16h27.58v6.97h-27.58zM32.83,106.03h6.97v6.97h-6.97zM53.44,106.03h6.97v6.97h-6.97zM53.44,133.51h6.97v6.97h-6.97zM39.70,140.38h20.71v6.97h-20.71zM5.35,147.25h178.72v6.97h-178.72z"/>
<path fill="rgb(255,140,0)" d="M60.31,9.85h6.97v6.97h-6.97zM94.66,9.85h6.97v6.97h-6.97zM60.31,16.72h6.97v6.97h-6.97zM87.79,16.72h6.97v6.97h-6.97zM80.92,23.59h6.97v6.97h-6.97zM108.40,23.59h13.84v6.97h-13.84zM74.05,30.46h6.97v6.97h-6.97zM87.79,30.46h13.84v6.97h-13.84zM115.27,30.46h6.97v6.97h-6.97zM67.18,37.33h13.84v6.97h-13.84zM129.01,37.33h6.97v6.97h-6.97zM142.75,37.33h6.97v6.97h-6.97zM60.31,44.20h6.97v6.97h-6.97zM74.05,44.20h6.97v6.97h-6.97zM149.62,44.20h6.97v6.97h-6.97zM94.66,51.07h6.97v6.97h-6.97zM163.36,51.07h6.97v6.97h-6.97zM94.66,57.94h6.97v6.97h-6.97zM163.36,57.94h6.97v6.97h-6.97zM5.35,64.81h41.32v6.97h-41.32zM156.49,64.81h6.97v6.97h-6.97zM5.35,71.68h41.32v6.97h-41.32zM5.35,78.55h41.32v6.97h-41.32zM135.88,78.55h13.84v6.97h-13.84zM5.35,85.42h41.32v6.97h-41.32zM142.75,85.42h6.97v6.97h-6.97zM53.44,119.77h6.97v6.97h-6.97zM25.96,126.64h20.71v6.97h-20.71zM32.83,133.51h20.71v6.97h-20.71zM5.35,140.38h34.45v6.97h-34.45z"/>
<path fill="rgb(255,66,0)" d="M67.18,9.85h6.97v6.97h-6.97zM87.79,9.85h6.97v6.97h-6.97zM115.27,9.85h6.97v6.97h-6.97zM67.18,16.72h6.97v6.97h-6.97zM115.27,16.72h6.97v6.97h-6.97zM60.31,23.59h20.71v6.97h-20.71zM101.53,23.59h6.97v6.97h-6.97zM67.18,30.46h6.97v6.97h-6.97zM108.40,30.46h6.97v6.97h-6.97zM122.14,30.46h6.97v6.97h-6.97zM60.31,37.33h6.97v6.97h-6.97zM122.14,37.33h6.97v6.97h-6.97zM67.18,44.20h6.97v6.97h-6.97zM135.88,44.20h13.84v6.97h-13.84zM5.35,51.07h48.19v6.97h-48.19zM156.49,51.07h6.97v6.97h-6.97zM5.35,57.94h41.32v6.97h-41.32zM156.49,57.94h6.97v6.97h-6.97zM129.01,71.68h6.97v6.97h-6.97zM149.62,71.68h6.97v6.97h-6.97zM53.44,112.90h6.97v6.97h-6.97zM46.57,119.77h6.97v6.97h-6.97zM46.57,126.64h13.84v6.97h-13.84zM5.35,133.51h27.58v6.97h-27.58z"/>
<path fill="rgb(255,18,0)" d="M74.05,9.85h13.84v6.97h-13.84zM74.05,16.72h13.84v6.97h-13.84zM101.53,30.46h6.97v6.97h-6.97zM101.53,37.33h20.71v6.97h-20.71zM101.53,44.20h27.58v6.97h-27.58zM101.53,51.07h55.06v6.97h-55.06zM101.53,57.94h55.06v6.97h-55.06zM129.01,64.81h27.58v6.97h-27.58zM135.88,71.68h13.84v6.97h-13.84z"/>
</g></g>
<g clip-path="url(#sh3)"><path d="M8.8,20.2h0M15.7,20.2h0M22.6,20.2h0M29.4,20.2h0M36.3,20.2h0M43.2,20.2h0M50.1,20.2h0M56.9,20.2h0M63.8,20.2h0M70.7,20.2h0M77.5,20.2h0M84.4,20.2h0M91.3,20.2h0M98.1,20.2h0M105.0,20.2h0M111.9,20.2h0M118.8,20.2h0M125.6,20.2h0M132.5,20.2h0M139.4,20.2h0M146.2,20.2h0M153.1,20.2h0M160.0,20.2h0M166.8,20.2h0M173.7,20.2h0M180.6,20.2h0M8.8,27.1h0M15.7,27.1h0M22.6,27.1h0M29.4,27.1h0M36.3,27.1h0M43.2,27.1h0M50.1,27.1h0M56.9,27.1h0M63.8,27.1h0M70.7,27.1h0M77.5,27.1h0M84.4,27.1h0M91.3,27.1h0M98.1,27.1h0M105.0,27.1h0M111.9,27.1h0M118.8,27.1h0M125.6,27.1h0M132.5,27.1h0M139.4,27.1h0M146.2,27.1h0M153.1,27.1h0M160.0,27.1h0M166.8,27.1h0M173.7,27.1h0M180.6,27.1h0M8.8,33.9h0M15.7,33.9h0M22.6,33.9h0M29.4,33.9h0M36.3,33.9h0M43.2,33.9h0M50.1,33.9h0M56.9,33.9h0M63.8,33.9h0M70.7,33.9h0M77.5,33.9h0M84.4,33.9h0M91.3,33.9h0M98.1,33.9h0M105.0,33.9h0M111.9,33.9h0M118.8,33.9h0M125.6,33.9h0M132.5,33.9h0M139.4,33.9h0M146.2,33.9h0M153.1,33.9h0M160.0,33.9h0M166.8,33.9h0M173.7,33.9h0M180.6,33.9h0M8.8,40.8h0M15.7,40.8h0M22.6,40.8h0M29.4,40.8h0M36.3,40.8h0M43.2,40.8h0M50.1,40.8h0M56.9,40.8h0M63.8,40.8h0M70.7,40.8h0M77.5,40.8h0M84.4,40.8h0M91.3,40.8h0M98.1,40.8h0M105.0,40.8h0M111.9,40.8h0M118.8,40.8h0M125.6,40.8h0M132.5,40.8h0M139.4,40.8h0M146.2,40.8h0M153.1,40.8h0M160.0,40.8h0M166.8,40.8h0M173.7,40.8h0M180.6,40.8h0M8.8,47.7h0M15.7,47.7h0M22.6,47.7h0M29.4,47.7h0M36.3,47.7h0M43.2,47.7h0M50.1,47.7h0M56.9,47.7h0M63.8,47.7h0M70.7,47.7h0M77.5,47.7h0M84.4,47.7h0M91.3,47.7h0M98.1,47.7h0M105.0,47.7h0M111.9,47.7h0M118.8,47.7h0M125.6,47.7h0M132.5,47.7h0M139.4,47.7h0M146.2,47.7h0M153.1,47.7h0M160.0,47.7h0M166.8,47.7h0M173.7,47.7h0M180.6,47.7h0M8.8,54.6h0M15.7,54.6h0M22.6,54.6h0M29.4,54.6h0M36.3,54.6h0M43.2,54.6h0M50.1,54.6h0M56.9,54.6h0M63.8,54.6h0M70.7,54.6h0M77.5,54.6h0M84.4,54.6h0M91.3,54.6h0M98.1,54.6h0M105.0,54.6h0M111.9,54.6h0M118.8,54.6h0M125.6,54.6h0M132.5,54.6h0M139.4,54.6h0M146.2,54.6h0M153.1,54.6h0M160.0,54.6h0M166.8,54.6h0M173.7,54.6h0M180.6,54.6h0M8.8,61.4h0M15.7,61.4h0M22.6,61.4h0M29.4,61.4h0M36.3,61.4h0M43.2,61.4h0M50.1,61.4h0M56.9,61.4h0M63.8,61.4h0M70.7,61.4h0M77.5,61.4h0M84.4,61.4h0M91.3,61.4h0M98.1,61.4h0M105.0,61.4h0M111.9,61.4h0M118.8,61.4h0M125.6,61.4h0M132.5,61.4h0M139.4,61.4h0M146.2,61.4h0M153.1,61.4h0M160.0,61.4h0M166.8,61.4h0M173.7,61.4h0M180.6,61.4h0M8.8,68.3h0M15.7,68.3h0M22.6,68.3h0M29.4,68.3h0M36.3,68.3h0M43.2,68.3h0M50.1,68.3h0M56.9,68.3h0M63.8,68.3h0M70.7,68.3h0M77.5,68.3h0M84.4,68.3h0M91.3,68.3h0M98.1,68.3h0M105.0,68.3h0M111.9,68.3h0M118.8,68.3h0M125.6,68.3h0M132.5,68.3h0M139.4,68.3h0M146.2,68.3h0M153.1,68.3h0M160.0,68.3h0M166.8,68.3h0M173.7,68.3h0M180.6,68.3h0M8.8,75.2h0M15.7,75.2h0M22.6,75.2h0M29.4,75.2h0M36.3,75.2h0M43.2,75.2h0M50.1,75.2h0M56.9,75.2h0M63.8,75.2h0M70.7,75.2h0M77.5,75.2h0M84.4,75.2h0M91.3,75.2h0M98.1,75.2h0M105.0,75.2h0M111.9,75.2h0M118.8,75.2h0M125.6,75.2h0M132.5,75.2h0M139.4,75.2h0M146.2,75.2h0M153.1,75.2h0M160.0,75.2h0M166.8,75.2h0M173.7,75.2h0M180.6,75.2h0M8.8,82.0h0M15.7,82.0h0M22.6,82.0h0M29.4,82.0h0M36.3,82.0h0M43.2,82.0h0M50.1,82.0h0M56.9,82.0h0M63.8,82.0h0M70.7,82.0h0M77.5,82.0h0M84.4,82.0h0M91.3,82.0h0M98.1,82.0h0M105.0,82.0h0M111.9,82.0h0M118.8,82.0h0M125.6,82.0h0M132.5,82.0h0M139.4,82.0h0M146.2,82.0h0M153.1,82.0h0M160.0,82.0h0M166.8,82.0h0M173.7,82.0h0M180.6,82.0h0M8.8,88.9h0M15.7,88.9h0M22.6,88.9h0M29.4,88.9h0M36.3,88.9h0M43.2,88.9h0M50.1,88.9h0M56.9,88.9h0M63.8,88.9h0M70.7,88.9h0M77.5,88.9h0M84.4,88.9h0M91.3,88.9h0M98.1,88.9h0M105.0,88.9h0M111.9,88.9h0M118.8,88.9h0M125.6,88.9h0M132.5,88.9h0M139.4,88.9h0M146.2,88.9h0M153.1,88.9h0M160.0,88.9h0M166.8,88.9h0M173.7,88.9h0M180.6,88.9h0M8.8,95.8h0M15.7,95.8h0M22.6,95.8h0M29.4,95.8h0M36.3,95.8h0M43.2,95.8h0M50.1,95.8h0M56.9,95.8h0M63.8,95.8h0M70.7,95.8h0M77.5,95.8h0M84.4,95.8h0M91.3,95.8h0M98.1,95.8h0M105.0,95.8h0M111.9,95.8h0M118.8,95.8h0M125.6,95.8h0M132.5,95.8h0M139.4,95.8h0M146.2,95.8h0M153.1,95.8h0M160.0,95.8h0M166.8,95.8h0M173.7,95.8h0M180.6,95.8h0M8.8,102.6h0M15.7,102.6h0M22.6,102.6h0M29.4,102.6h0M36.3,102.6h0M43.2,102.6h0M50.1,102.6h0M56.9,102.6h0M63.8,102.6h0M70.7,102.6h0M77.5,102.6h0M84.4,102.6h0M91.3,102.6h0M98.1,102.6h0M105.0,102.6h0M111.9,102.6h0M118.8,102.6h0M125.6,102.6h0M132.5,102.6h0M139.4,102.6h0M146.2,102.6h0M153.1,102.6h0M160.0,102.6h0M166.8,102.6h0M173.7,102.6h0M180.6,102.6h0M8.8,109.5h0M15.7,109.5h0M22.6,109.5h0M29.4,109.5h0M36.3,109.5h0M43.2,109.5h0M50.1,109.5h0M56.9,109.5h0M63.8,109.5h0M70.7,109.5h0M77.5,109.5h0M84.4,109.5h0M91.3,109.5h0M98.1,109.5h0M105.0,109.5h0M111.9,109.5h0M118.8,109.5h0M125.6,109.5h0M132.5,109.5h0M139.4,109.5h0M146.2,109.5h0M153.1,109.5h0M160.0,109.5h0M166.8,109.5h0M173.7,109.5h0M180.6,109.5h0M8.8,116.4h0M15.7,116.4h0M22.6,116.4h0M29.4,116.4h0M36.3,116.4h0M43.2,116.4h0M50.1,116.4h0M56.9,116.4h0M63.8,116.4h0M70.7,116.4h0M77.5,116.4h0M84.4,116.4h0M91.3,116.4h0M98.1,116.4h0M105.0,116.4h0M111.9,116.4h0M118.8,116.4h0M125.6,116.4h0M132.5,116.4h0M139.4,116.4h0M146.2,116.4h0M153.1,116.4h0M160.0,116.4h0M166.8,116.4h0M173.7,116.4h0M180.6,116.4h0M8.8,123.3h0M15.7,123.3h0M22.6,123.3h0M29.4,123.3h0M36.3,123.3h0M43.2,123.3h0M50.1,123.3h0M56.9,123.3h0M63.8,123.3h0M70.7,123.3h0M77.5,123.3h0M84.4,123.3h0M91.3,123.3h0M98.1,123.3h0M105.0,123.3h0M111.9,123.3h0M118.8,123.3h0M125.6,123.3h0M132.5,123.3h0M139.4,123.3h0M146.2,123.3h0M153.1,123.3h0M160.0,123.3h0M166.8,123.3h0M173.7,123.3h0M180.6,123.3h0M8.8,130.1h0M15.7,130.1h0M22.6,130.1h0M29.4,130.1h0M36.3,130.1h0M43.2,130.1h0M50.1,130.1h0M56.9,130.1h0M63.8,130.1h0M70.7,130.1h0M77.5,130.1h0M84.4,130.1h0M91.3,130.1h0M98.1,130.1h0M105.0,130.1h0M111.9,130.1h0M118.8,130.1h0M125.6,130.1h0M132.5,130.1h0M139.4,130.1h0M146.2,130.1h0M153.1,130.1h0M160.0,130.1h0M166.8,130.1h0M173.7,130.1h0M180.6,130.1h0M8.8,137.0h0M15.7,137.0h0M22.6,137.0h0M29.4,137.0h0M36.3,137.0h0M43.2,137.0h0M50.1,137.0h0M56.9,137.0h0M63.8,137.0h0M70.7,137.0h0M77.5,137.0h0M84.4,137.0h0M91.3,137.0h0M98.1,137.0h0M105.0,137.0h0M111.9,137.0h0M118.8,137.0h0M125.6,137.0h0M132.5,137.0h0M139.4,137.0h0M146.2,137.0h0M153.1,137.0h0M160.0,137.0h0M166.8,137.0h0M173.7,137.0h0M180.6,137.0h0M8.8,143.9h0M15.7,143.9h0M22.6,143.9h0M29.4,143.9h0M36.3,143.9h0M43.2,143.9h0M50.1,143.9h0M56.9,143.9h0M63.8,143.9h0M70.7,143.9h0M77.5,143.9h0M84.4,143.9h0M91.3,143.9h0M98.1,143.9h0M105.0,143.9h0M111.9,143.9h0M118.8,143.9h0M125.6,143.9h0M132.5,143.9h0M139.4,143.9h0M146.2,143.9h0M153.1,143.9h0M160.0,143.9h0M166.8,143.9h0M173.7,143.9h0M180.6,143.9h0M8.8,150.7h0M15.7,150.7h0M22.6,150.7h0M29.4,150.7h0M36.3,150.7h0M43.2,150.7h0M50.1,150.7h0M56.9,150.7h0M63.8,150.7h0M70.7,150.7h0M77.5,150.7h0M84.4,150.7h0M91.3,150.7h0M98.1,150.7h0M105.0,150.7h0M111.9,150.7h0M118.8,150.7h0M125.6,150.7h0M132.5,150.7h0M139.4,150.7h0M146.2,150.7h0M153.1,150.7h0M160.0,150.7h0M166.8,150.7h0M173.7,150.7h0M180.6,150.7h0" stroke="#3a3a1a" stroke-opacity="0.6" stroke-width="1.5" stroke-linecap="round" fill="none"/></g>
<path d="M37.9,80 L39.5,17.5 Q39.5,11.6 45.5,11.5 L83.6,12 L116.4,12.8 L144.7,14.2 Q149.5,14.6 152,17.5 L175.3,43.2 Q176.3,44.4 176.5,47.5 L177.4,66 L178.3,88 L178.1,98 Q178,105 175.5,108.8 Q173,111.3 169,111 Q163,110.3 157.3,108.2 Q150,106.4 140.9,106.3 L124.5,106.2 Q118,106.6 112.3,109.5 Q108.5,111.8 105.9,114.6 L99.5,120.4 L93.2,126.7 L86.8,132.5 L80.5,137.5 L75.4,142.6 Q72.5,145.5 67.7,147.1 Q61,148.3 53.3,148 Q45.7,147 38,144.7 Q34,143 30.4,140.9 L22.8,135.5 L15.2,127.9 L10.7,121.9 L8.5,118.4 L7.6,108.4 L9.1,107.4 L15.2,102.8 L22.8,97.5 L30.4,91.4 L35.8,86.1 Q37.6,83.5 37.9,80 Z" fill="none" stroke="#ee3c22" stroke-width="0.9"/>
</g>
<g transform="translate(361.3,320.7)">
<text class="t" x="111.3" y="127.3">Figure Legends</text>
<text class="s" x="111.5" y="138.2">Interpolation Point</text>
<circle cx="169.4" cy="137.1" r="1.15" fill="#1a2a70"/>
<text class="s" x="111.5" y="150.6">PM 10</text>
<text class="s" x="111.5" y="157.6">Concentration</text>
<text class="s" x="111.5" y="165.6">(µg/m³)</text>
<rect x="154.2" y="147.4" width="5.6" height="16.2" fill="url(#lg)"/>
<text class="n" x="163.8" y="151.4">126.82</text>
<text class="n" x="163.8" y="167.3">144.01</text>
</g>
<text class="l" x="22.6" y="17">a</text>
<text class="l" x="23" y="177.1">b</text>
<text class="l" x="23" y="337.8">c</text>
<text x="8.9" y="9.9" style="font-weight:bold;font-size:9.4px">N</text>
<path d="M12.3,14.2 L6.3,34 L12.3,26.6 Z" fill="#111" stroke="#111" stroke-width="0.6"/>
<path d="M12.3,14.2 L18.3,34 L12.3,26.6 Z" fill="#fff" stroke="#111" stroke-width="0.6"/>
<text x="2.4" y="42.4" style="font-weight:bold;font-size:5.1px">0</text>
<text x="9.2" y="42.4" style="font-weight:bold;font-size:5.1px" textLength="6.8" lengthAdjust="spacingAndGlyphs">250</text>
<text x="18" y="42.4" style="font-weight:bold;font-size:5.1px" textLength="6.8" lengthAdjust="spacingAndGlyphs">500</text>
<rect x="3.7" y="44.9" width="17.4" height="1.7" fill="#111"/>
<rect x="8.5" y="45.3" width="3.9" height="0.9" fill="#fff"/>
<text x="14.7" y="51.7" style="font-weight:bold;font-size:5.1px" textLength="12" lengthAdjust="spacingAndGlyphs">Meters</text>
</svg>
</body></html>
